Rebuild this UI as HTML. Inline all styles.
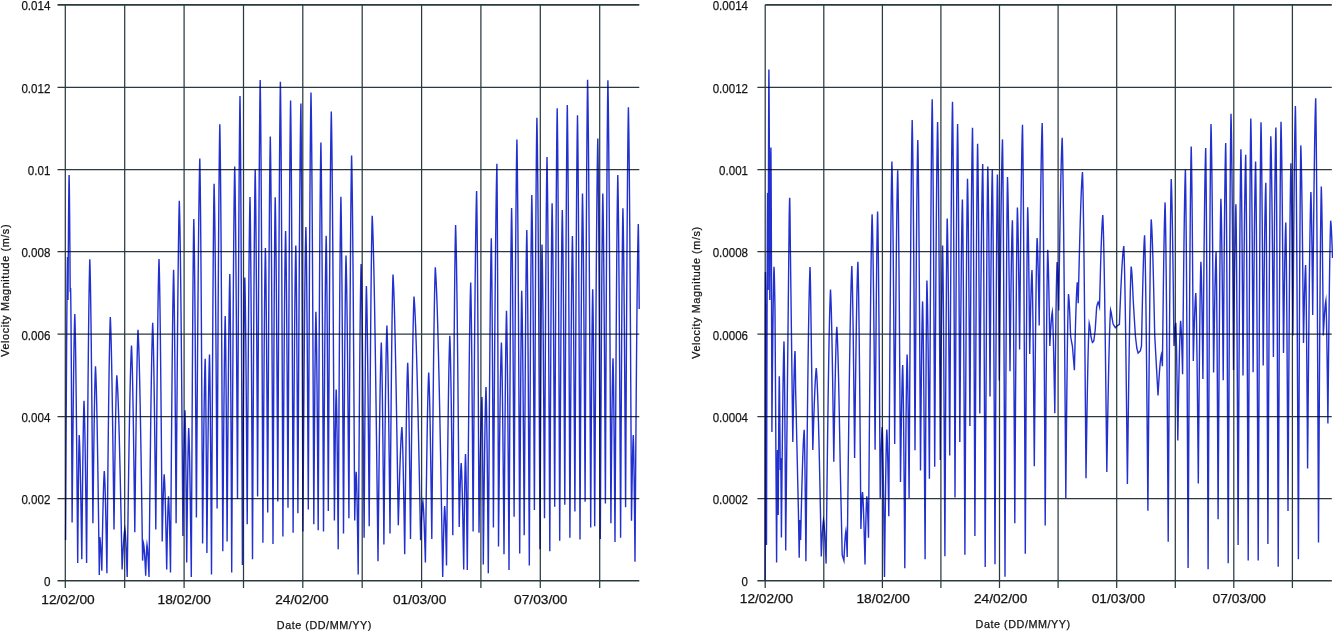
<!DOCTYPE html>
<html><head><meta charset="utf-8"><style>
html,body{margin:0;padding:0;background:#fff;}
body{width:1333px;height:631px;overflow:hidden;}
svg{display:block;}
.yl{font-family:"Liberation Sans",sans-serif;font-size:13.1px;fill:#141414;}
.xl{font-family:"Liberation Sans",sans-serif;font-size:12.6px;fill:#141414;}
.tt{font-family:"Liberation Sans",sans-serif;font-size:10.8px;fill:#141414;}
text{stroke:#141414;stroke-width:0.25px;}
</style></head><body>
<svg width="1333" height="631" viewBox="0 0 1333 631">
<polyline points="65.60,540.0 65.66,526.8 65.73,513.6 65.79,500.5 65.85,487.5 65.92,474.6 65.98,461.8 66.04,449.2 66.11,436.8 66.17,424.6 66.23,412.7 66.30,401.0 66.36,389.6 66.42,378.5 66.49,367.8 66.55,357.5 66.61,347.5 66.68,337.9 66.74,328.8 66.80,320.1 66.87,311.8 66.93,304.1 66.99,296.8 67.06,290.0 67.12,283.7 67.18,277.9 67.25,272.6 67.31,267.9 67.37,263.7 67.44,260.1 67.50,257.0 67.56,259.2 67.62,262.5 67.69,266.9 67.75,272.3 67.81,278.4 67.88,285.3 67.94,292.5 68.00,300.0 68.05,291.7 68.10,283.4 68.16,275.2 68.21,267.1 68.26,259.1 68.31,251.4 68.37,243.8 68.42,236.5 68.47,229.4 68.52,222.7 68.58,216.3 68.63,210.2 68.68,204.6 68.73,199.3 68.79,194.5 68.84,190.1 68.89,186.1 68.94,182.6 69.00,179.6 69.05,177.1 69.10,175.1 69.16,177.1 69.21,179.6 69.27,182.6 69.32,186.1 69.38,190.1 69.43,194.5 69.48,199.4 69.54,204.8 69.59,210.5 69.65,216.6 69.70,223.1 69.76,229.9 69.81,237.0 69.87,244.3 69.92,251.9 69.98,259.7 70.03,267.6 70.09,275.7 70.14,283.8 70.20,292.0 70.40,289.4 70.60,288.0 70.65,290.6 70.70,293.6 70.75,297.1 70.80,301.0 70.85,305.3 70.90,310.1 70.95,315.3 71.00,321.0 71.05,327.0 71.10,333.4 71.15,340.3 71.20,347.5 71.25,355.1 71.30,363.0 71.35,371.3 71.40,379.8 71.45,388.7 71.50,397.9 71.55,407.3 71.60,417.0 71.65,426.9 71.70,437.0 71.75,447.3 71.80,457.7 71.85,468.3 71.90,479.0 71.95,489.8 72.00,500.7 72.05,511.6 72.10,522.5 72.19,512.8 72.28,503.1 72.37,493.4 72.46,483.8 72.55,474.3 72.64,464.9 72.73,455.6 72.82,446.5 72.91,437.5 73.00,428.7 73.09,420.1 73.18,411.7 73.27,403.5 73.36,395.7 73.45,388.0 73.54,380.7 73.63,373.6 73.72,366.9 73.81,360.5 73.90,354.4 73.99,348.7 74.08,343.3 74.17,338.3 74.26,333.7 74.35,329.4 74.44,325.5 74.53,322.1 74.62,319.0 74.71,316.3 74.80,314.0 74.90,316.7 74.99,319.9 75.09,323.6 75.19,327.8 75.28,332.4 75.38,337.5 75.48,343.0 75.57,349.0 75.67,355.4 75.77,362.3 75.86,369.5 75.96,377.2 76.06,385.2 76.15,393.7 76.25,402.4 76.35,411.5 76.44,421.0 76.54,430.7 76.64,440.7 76.73,451.0 76.83,461.5 76.93,472.2 77.02,483.2 77.12,494.3 77.22,505.5 77.31,516.9 77.41,528.3 77.51,539.9 77.60,551.5 77.70,563.1 77.77,555.0 77.84,546.9 77.90,538.8 77.97,530.9 78.04,523.1 78.11,515.4 78.18,507.9 78.25,500.7 78.31,493.7 78.38,487.0 78.45,480.5 78.52,474.4 78.59,468.7 78.65,463.3 78.72,458.3 78.79,453.7 78.86,449.5 78.93,445.7 79.00,442.4 79.06,439.5 79.13,437.1 79.20,435.1 79.32,437.1 79.45,439.6 79.57,442.6 79.70,446.1 79.82,450.0 79.94,454.4 80.07,459.2 80.19,464.4 80.31,470.0 80.44,476.1 80.56,482.4 80.69,489.1 80.81,496.1 80.93,503.4 81.06,510.9 81.18,518.7 81.30,526.6 81.43,534.6 81.55,542.8 81.68,551.0 81.80,559.3 81.88,551.1 81.96,542.9 82.04,534.8 82.13,526.7 82.21,518.7 82.29,510.8 82.37,503.1 82.45,495.5 82.53,488.0 82.61,480.8 82.70,473.7 82.78,466.9 82.86,460.3 82.94,454.0 83.02,448.0 83.10,442.2 83.19,436.7 83.27,431.6 83.35,426.8 83.43,422.3 83.51,418.1 83.59,414.4 83.67,410.9 83.76,407.9 83.84,405.2 83.92,402.8 84.00,400.9 84.09,402.8 84.19,405.1 84.28,407.7 84.37,410.7 84.46,414.0 84.56,417.7 84.65,421.7 84.74,426.0 84.84,430.7 84.93,435.7 85.02,441.0 85.11,446.5 85.21,452.4 85.30,458.5 85.39,464.9 85.49,471.5 85.58,478.3 85.67,485.3 85.76,492.5 85.86,499.9 85.95,507.5 86.04,515.2 86.14,523.0 86.23,530.9 86.32,538.9 86.41,546.9 86.51,555.0 86.60,563.1 86.71,548.9 86.81,534.8 86.92,520.7 87.03,506.7 87.13,492.9 87.24,479.2 87.35,465.6 87.45,452.3 87.56,439.2 87.67,426.4 87.77,413.9 87.88,401.6 87.99,389.8 88.09,378.3 88.20,367.2 88.31,356.5 88.41,346.2 88.52,336.4 88.63,327.0 88.73,318.2 88.84,309.8 88.95,302.0 89.05,294.7 89.16,287.9 89.27,281.7 89.37,276.1 89.48,271.0 89.59,266.5 89.69,262.6 89.80,259.3 89.90,262.2 90.01,265.6 90.11,269.5 90.21,273.9 90.32,278.8 90.42,284.2 90.52,290.1 90.63,296.4 90.73,303.2 90.83,310.5 90.94,318.2 91.04,326.3 91.14,334.8 91.25,343.7 91.35,353.0 91.45,362.7 91.56,372.7 91.66,383.0 91.76,393.6 91.87,404.5 91.97,415.6 92.07,427.0 92.18,438.6 92.28,450.4 92.38,462.3 92.49,474.3 92.59,486.5 92.69,498.7 92.80,511.0 92.90,523.3 93.00,515.2 93.09,507.1 93.19,499.0 93.29,491.0 93.38,483.1 93.48,475.3 93.57,467.6 93.67,460.1 93.77,452.7 93.86,445.5 93.96,438.5 94.06,431.8 94.15,425.3 94.25,419.0 94.34,413.0 94.44,407.3 94.54,401.9 94.63,396.8 94.73,392.0 94.83,387.6 94.92,383.5 95.02,379.7 95.11,376.3 95.21,373.3 95.31,370.6 95.40,368.3 95.50,366.4 95.63,368.7 95.75,371.4 95.88,374.5 96.01,377.9 96.13,381.8 96.26,386.1 96.39,390.7 96.51,395.7 96.64,401.1 96.77,406.8 96.89,412.9 97.02,419.3 97.15,426.1 97.27,433.1 97.40,440.5 97.53,448.1 97.65,456.0 97.78,464.1 97.91,472.5 98.03,481.1 98.16,489.9 98.29,498.9 98.41,508.1 98.54,517.4 98.67,526.8 98.79,536.3 98.92,545.9 99.05,555.6 99.17,565.3 99.30,575.0 99.37,567.5 99.44,560.2 99.51,553.5 99.59,547.7 99.66,542.9 99.73,539.3 99.80,537.0 100.13,539.5 100.47,543.5 100.80,549.0 101.13,555.5 101.47,562.9 101.80,570.7 101.95,562.5 102.09,554.4 102.24,546.3 102.39,538.5 102.54,530.8 102.68,523.4 102.83,516.3 102.98,509.6 103.12,503.3 103.27,497.4 103.42,492.0 103.56,487.1 103.71,482.8 103.86,478.9 104.01,475.7 104.15,473.1 104.30,471.0 104.44,473.0 104.59,475.5 104.73,478.6 104.88,482.1 105.02,486.2 105.17,490.8 105.31,495.9 105.46,501.4 105.60,507.3 105.74,513.6 105.89,520.3 106.03,527.3 106.18,534.5 106.32,542.0 106.47,549.7 106.61,557.5 106.76,565.4 106.90,573.3 107.01,561.3 107.13,549.4 107.24,537.5 107.35,525.7 107.47,514.1 107.58,502.5 107.69,491.1 107.81,479.8 107.92,468.8 108.03,458.0 108.15,447.4 108.26,437.1 108.37,427.1 108.49,417.4 108.60,408.0 108.71,399.0 108.83,390.3 108.94,382.0 109.05,374.1 109.17,366.7 109.28,359.6 109.39,353.0 109.51,346.9 109.62,341.2 109.73,335.9 109.85,331.2 109.96,326.9 110.07,323.1 110.19,319.8 110.30,317.0 110.42,319.3 110.55,322.1 110.67,325.2 110.79,328.8 110.92,332.7 111.04,337.0 111.16,341.8 111.29,346.9 111.41,352.4 111.53,358.2 111.66,364.4 111.78,370.9 111.90,377.8 112.03,385.0 112.15,392.5 112.27,400.3 112.40,408.3 112.52,416.6 112.64,425.2 112.77,433.9 112.89,442.9 113.01,452.1 113.14,461.4 113.26,470.9 113.38,480.5 113.51,490.2 113.63,499.9 113.75,509.8 113.88,519.7 114.00,529.6 114.11,521.3 114.22,513.0 114.32,504.8 114.43,496.6 114.54,488.6 114.65,480.6 114.75,472.8 114.86,465.2 114.97,457.7 115.08,450.4 115.18,443.4 115.29,436.6 115.40,430.1 115.51,423.8 115.62,417.9 115.72,412.2 115.83,406.9 115.94,401.9 116.05,397.3 116.15,393.0 116.26,389.1 116.37,385.6 116.48,382.4 116.58,379.6 116.69,377.3 116.80,375.3 116.98,377.4 117.15,379.9 117.33,382.8 117.51,386.0 117.68,389.6 117.86,393.6 118.04,397.9 118.21,402.6 118.39,407.6 118.57,412.9 118.74,418.6 118.92,424.6 119.10,430.8 119.27,437.4 119.45,444.2 119.63,451.4 119.80,458.7 119.98,466.3 120.16,474.1 120.33,482.1 120.51,490.3 120.69,498.7 120.86,507.2 121.04,515.8 121.22,524.6 121.39,533.5 121.57,542.4 121.75,551.4 121.92,560.4 122.10,569.5 122.50,561.4 122.90,553.7 123.30,546.6 123.70,540.3 124.10,535.2 124.50,531.4 124.90,528.9 125.16,531.0 125.41,534.1 125.67,538.2 125.92,543.2 126.18,548.9 126.43,555.4 126.69,562.3 126.94,569.5 127.20,577.0 127.34,566.2 127.49,555.4 127.63,544.7 127.77,534.1 127.92,523.5 128.06,513.1 128.20,502.8 128.35,492.6 128.49,482.6 128.63,472.9 128.78,463.3 128.92,454.0 129.06,445.0 129.21,436.2 129.35,427.8 129.49,419.6 129.64,411.8 129.78,404.3 129.92,397.2 130.07,390.4 130.21,384.1 130.35,378.1 130.50,372.6 130.64,367.4 130.78,362.7 130.93,358.4 131.07,354.5 131.21,351.1 131.36,348.1 131.50,345.6 131.61,347.6 131.72,350.0 131.83,352.8 131.94,355.9 132.05,359.4 132.16,363.2 132.27,367.3 132.38,371.8 132.49,376.6 132.60,381.8 132.71,387.2 132.82,392.9 132.93,399.0 133.04,405.3 133.15,411.8 133.26,418.7 133.37,425.7 133.48,433.0 133.59,440.5 133.70,448.2 133.81,456.1 133.92,464.1 134.03,472.3 134.14,480.6 134.25,489.1 134.36,497.6 134.47,506.2 134.58,514.8 134.69,523.5 134.80,532.2 134.91,522.8 135.01,513.4 135.12,504.0 135.23,494.7 135.33,485.4 135.44,476.3 135.55,467.3 135.65,458.4 135.76,449.7 135.87,441.2 135.97,432.8 136.08,424.7 136.19,416.8 136.29,409.1 136.40,401.7 136.51,394.6 136.61,387.8 136.72,381.2 136.83,375.0 136.93,369.1 137.04,363.5 137.15,358.3 137.25,353.5 137.36,349.0 137.47,344.8 137.57,341.1 137.68,337.7 137.79,334.7 137.89,332.1 138.00,329.9 138.15,332.4 138.31,335.4 138.46,338.8 138.61,342.7 138.77,346.9 138.92,351.6 139.07,356.8 139.23,362.3 139.38,368.3 139.53,374.6 139.69,381.3 139.84,388.4 139.99,395.9 140.15,403.7 140.30,411.8 140.45,420.2 140.61,429.0 140.76,438.0 140.91,447.3 141.07,456.8 141.22,466.5 141.37,476.5 141.53,486.6 141.68,496.9 141.83,507.3 141.99,517.8 142.14,528.4 142.29,539.1 142.45,549.8 142.60,560.6 142.93,553.1 143.27,547.2 143.60,544.0 143.95,546.3 144.30,550.2 144.65,555.3 145.00,561.5 145.35,568.4 145.70,575.8 145.92,568.6 146.13,561.8 146.35,555.7 146.57,550.6 146.78,546.9 147.00,544.6 147.33,547.0 147.67,550.9 148.00,556.1 148.33,562.4 148.67,569.5 149.00,577.0 149.12,565.1 149.25,553.3 149.37,541.5 149.49,529.8 149.62,518.2 149.74,506.7 149.86,495.4 149.99,484.3 150.11,473.3 150.23,462.6 150.36,452.1 150.48,441.9 150.60,431.9 150.73,422.3 150.85,413.0 150.97,404.0 151.10,395.4 151.22,387.2 151.34,379.4 151.47,372.0 151.59,365.0 151.71,358.4 151.84,352.3 151.96,346.7 152.08,341.5 152.21,336.8 152.33,332.5 152.45,328.8 152.58,325.5 152.70,322.7 152.80,325.0 152.91,327.6 153.01,330.7 153.11,334.1 153.22,338.0 153.32,342.2 153.42,346.8 153.53,351.8 153.63,357.1 153.73,362.8 153.84,368.8 153.94,375.2 154.04,381.9 154.15,388.9 154.25,396.2 154.35,403.7 154.46,411.6 154.56,419.6 154.66,428.0 154.77,436.5 154.87,445.2 154.97,454.1 155.08,463.2 155.18,472.4 155.28,481.8 155.39,491.2 155.49,500.7 155.59,510.3 155.70,520.0 155.80,529.6 155.91,517.0 156.01,504.4 156.12,491.9 156.23,479.4 156.33,467.0 156.44,454.8 156.55,442.8 156.65,430.9 156.76,419.3 156.87,407.8 156.97,396.7 157.08,385.8 157.19,375.2 157.29,365.0 157.40,355.1 157.51,345.5 157.61,336.4 157.72,327.6 157.83,319.3 157.93,311.4 158.04,304.0 158.15,297.0 158.25,290.5 158.36,284.5 158.47,279.0 158.57,274.0 158.68,269.5 158.79,265.4 158.89,262.0 159.00,259.0 159.11,262.1 159.21,265.7 159.32,269.9 159.43,274.6 159.53,279.9 159.64,285.6 159.75,291.9 159.85,298.7 159.96,306.0 160.07,313.8 160.17,322.0 160.28,330.7 160.39,339.8 160.49,349.4 160.60,359.3 160.71,369.7 160.81,380.4 160.92,391.4 161.03,402.8 161.13,414.4 161.24,426.4 161.35,438.5 161.45,450.9 161.56,463.5 161.67,476.3 161.77,489.2 161.88,502.2 161.99,515.3 162.09,528.4 162.20,541.6 162.37,533.8 162.53,526.1 162.70,518.6 162.87,511.4 163.03,504.6 163.20,498.3 163.37,492.5 163.53,487.4 163.70,483.0 163.87,479.4 164.03,476.5 164.20,474.4 164.36,476.5 164.51,479.2 164.67,482.6 164.82,486.6 164.98,491.2 165.14,496.3 165.29,502.0 165.45,508.2 165.61,514.8 165.76,521.8 165.92,529.2 166.07,536.9 166.23,544.8 166.39,552.9 166.54,561.2 166.70,569.5 166.84,561.6 166.98,553.9 167.12,546.3 167.25,539.0 167.39,532.0 167.53,525.4 167.67,519.4 167.81,513.9 167.95,509.0 168.08,504.8 168.22,501.3 168.36,498.5 168.50,496.4 168.65,498.5 168.81,501.5 168.96,505.1 169.12,509.5 169.27,514.6 169.42,520.3 169.58,526.6 169.73,533.5 169.88,540.7 170.04,548.3 170.19,556.2 170.35,564.3 170.50,572.5 170.60,558.4 170.71,544.3 170.81,530.3 170.91,516.3 171.02,502.5 171.12,488.9 171.22,475.4 171.33,462.1 171.43,449.1 171.53,436.3 171.64,423.8 171.74,411.6 171.84,399.8 171.95,388.3 172.05,377.3 172.15,366.6 172.26,356.4 172.36,346.6 172.46,337.3 172.57,328.5 172.67,320.1 172.77,312.3 172.88,305.1 172.98,298.3 173.08,292.2 173.19,286.5 173.29,281.5 173.39,277.0 173.50,273.1 173.60,269.8 173.68,272.6 173.77,275.8 173.85,279.6 173.93,283.8 174.02,288.5 174.10,293.7 174.18,299.3 174.27,305.4 174.35,312.0 174.43,318.9 174.52,326.3 174.60,334.1 174.68,342.3 174.77,350.9 174.85,359.8 174.93,369.1 175.02,378.7 175.10,388.6 175.18,398.8 175.27,409.2 175.35,419.9 175.43,430.8 175.52,442.0 175.60,453.3 175.68,464.7 175.77,476.3 175.85,487.9 175.93,499.7 176.02,511.5 176.10,523.3 176.21,508.3 176.31,493.3 176.42,478.3 176.53,463.5 176.63,448.7 176.74,434.2 176.85,419.8 176.95,405.7 177.06,391.8 177.17,378.2 177.27,364.9 177.38,351.9 177.49,339.3 177.59,327.1 177.70,315.3 177.81,303.9 177.91,293.0 178.02,282.6 178.13,272.7 178.23,263.3 178.34,254.4 178.45,246.1 178.55,238.4 178.66,231.2 178.77,224.6 178.87,218.6 178.98,213.3 179.09,208.5 179.19,204.3 179.30,200.8 179.42,204.5 179.54,208.8 179.66,213.7 179.78,219.3 179.90,225.6 180.02,232.4 180.14,239.8 180.26,247.9 180.38,256.5 180.50,265.8 180.62,275.5 180.74,285.8 180.86,296.7 180.98,308.0 181.10,319.8 181.22,332.1 181.34,344.8 181.46,357.9 181.58,371.3 181.70,385.2 181.82,399.3 181.94,413.7 182.06,428.4 182.18,443.4 182.30,458.5 182.42,473.8 182.54,489.2 182.66,504.8 182.78,520.4 182.90,536.0 183.00,527.6 183.10,519.3 183.20,511.0 183.30,502.9 183.40,494.9 183.50,487.0 183.60,479.4 183.70,472.1 183.80,465.0 183.90,458.2 184.00,451.7 184.10,445.7 184.20,440.0 184.30,434.7 184.40,429.8 184.50,425.4 184.60,421.4 184.70,417.9 184.80,414.9 184.90,412.3 185.00,410.3 185.07,412.2 185.13,414.6 185.20,417.3 185.26,420.4 185.33,423.9 185.39,427.7 185.46,432.0 185.52,436.5 185.59,441.4 185.65,446.7 185.72,452.3 185.78,458.1 185.85,464.3 185.92,470.7 185.98,477.4 186.05,484.4 186.11,491.5 186.18,498.9 186.24,506.4 186.31,514.1 186.37,521.9 186.44,529.9 186.50,537.9 186.57,546.1 186.63,554.2 186.70,562.4 186.79,554.2 186.87,546.1 186.96,538.0 187.05,530.0 187.13,522.1 187.22,514.4 187.31,506.8 187.40,499.5 187.48,492.4 187.57,485.5 187.66,478.9 187.74,472.6 187.83,466.6 187.92,461.0 188.00,455.7 188.09,450.8 188.18,446.3 188.27,442.2 188.35,438.5 188.44,435.2 188.53,432.4 188.61,430.0 188.70,428.0 188.80,430.0 188.91,432.4 189.01,435.2 189.12,438.4 189.22,442.0 189.32,446.1 189.43,450.4 189.53,455.2 189.64,460.3 189.74,465.8 189.84,471.6 189.95,477.7 190.05,484.1 190.16,490.8 190.26,497.8 190.36,505.0 190.47,512.4 190.57,520.1 190.68,527.9 190.78,535.8 190.88,543.9 190.99,552.1 191.09,560.4 191.20,568.7 191.30,577.0 191.38,560.3 191.47,543.6 191.55,527.1 191.63,510.6 191.72,494.2 191.80,478.1 191.88,462.1 191.97,446.4 192.05,431.0 192.13,415.9 192.22,401.1 192.30,386.7 192.38,372.8 192.47,359.2 192.55,346.1 192.63,333.5 192.72,321.4 192.80,309.8 192.88,298.8 192.97,288.4 193.05,278.5 193.13,269.3 193.22,260.7 193.30,252.7 193.38,245.4 193.47,238.8 193.55,232.8 193.63,227.5 193.72,222.9 193.80,219.0 193.89,222.3 193.97,226.1 194.06,230.5 194.15,235.5 194.23,241.0 194.32,247.1 194.41,253.8 194.49,260.9 194.58,268.6 194.67,276.8 194.75,285.5 194.84,294.7 194.93,304.4 195.01,314.5 195.10,325.0 195.19,335.9 195.27,347.2 195.36,358.9 195.45,370.9 195.53,383.2 195.62,395.8 195.71,408.6 195.79,421.7 195.88,435.0 195.97,448.5 196.05,462.1 196.14,475.9 196.23,489.7 196.31,503.6 196.40,517.5 196.51,500.8 196.63,484.1 196.74,467.4 196.85,450.9 196.97,434.5 197.08,418.3 197.19,402.3 197.31,386.6 197.42,371.1 197.53,356.0 197.65,341.2 197.76,326.8 197.87,312.7 197.99,299.1 198.10,286.0 198.21,273.4 198.33,261.2 198.44,249.6 198.55,238.6 198.67,228.1 198.78,218.3 198.89,209.0 199.01,200.4 199.12,192.4 199.23,185.1 199.35,178.4 199.46,172.5 199.57,167.2 199.69,162.5 199.80,158.6 199.89,162.8 199.99,167.8 200.08,173.5 200.17,179.9 200.27,187.0 200.36,194.9 200.45,203.5 200.55,212.7 200.64,222.6 200.73,233.2 200.83,244.4 200.92,256.3 201.01,268.7 201.11,281.7 201.20,295.3 201.29,309.4 201.39,323.9 201.48,339.0 201.57,354.5 201.67,370.3 201.76,386.6 201.85,403.2 201.95,420.1 202.04,437.2 202.13,454.6 202.23,472.2 202.32,489.9 202.41,507.7 202.51,525.6 202.60,543.6 202.69,535.0 202.77,526.4 202.86,517.8 202.95,509.3 203.03,500.9 203.12,492.5 203.21,484.3 203.29,476.2 203.38,468.2 203.47,460.4 203.55,452.8 203.64,445.4 203.73,438.2 203.81,431.2 203.90,424.4 203.99,417.9 204.07,411.7 204.16,405.7 204.25,400.0 204.33,394.6 204.42,389.5 204.51,384.8 204.59,380.3 204.68,376.2 204.77,372.4 204.85,369.0 204.94,365.9 205.03,363.2 205.11,360.8 205.20,358.8 205.26,360.9 205.31,363.4 205.37,366.3 205.43,369.5 205.48,373.1 205.54,377.1 205.60,381.4 205.65,386.1 205.71,391.1 205.77,396.4 205.82,402.1 205.88,408.1 205.94,414.3 205.99,420.9 206.05,427.7 206.11,434.9 206.16,442.2 206.22,449.8 206.28,457.6 206.33,465.6 206.39,473.8 206.45,482.2 206.50,490.7 206.56,499.3 206.62,508.1 206.67,517.0 206.73,525.9 206.79,534.9 206.84,543.9 206.90,553.0 206.99,543.7 207.07,534.5 207.16,525.3 207.25,516.2 207.33,507.1 207.42,498.2 207.51,489.3 207.59,480.6 207.68,472.1 207.77,463.7 207.85,455.5 207.94,447.5 208.03,439.8 208.11,432.2 208.20,425.0 208.29,418.0 208.37,411.3 208.46,404.9 208.55,398.8 208.63,393.0 208.72,387.5 208.81,382.4 208.89,377.6 208.98,373.2 209.07,369.2 209.15,365.5 209.24,362.2 209.33,359.2 209.41,356.7 209.50,354.5 209.57,356.9 209.63,359.7 209.70,363.0 209.77,366.7 209.83,370.7 209.90,375.2 209.97,380.1 210.03,385.4 210.10,391.1 210.17,397.1 210.23,403.5 210.30,410.3 210.37,417.4 210.43,424.9 210.50,432.6 210.57,440.7 210.63,449.0 210.70,457.6 210.77,466.4 210.83,475.5 210.90,484.8 210.97,494.3 211.03,503.9 211.10,513.7 211.17,523.6 211.23,533.7 211.30,543.8 211.37,554.0 211.43,564.2 211.50,574.5 211.59,556.3 211.67,538.1 211.76,520.0 211.85,502.0 211.93,484.2 212.02,466.5 212.11,449.1 212.19,432.0 212.28,415.1 212.37,398.6 212.45,382.5 212.54,366.8 212.63,351.5 212.71,336.7 212.80,322.4 212.89,308.7 212.97,295.5 213.06,282.8 213.15,270.8 213.23,259.4 213.32,248.7 213.41,238.6 213.49,229.2 213.58,220.5 213.67,212.6 213.75,205.3 213.84,198.8 213.93,193.0 214.01,188.0 214.10,183.7 214.20,187.3 214.30,191.4 214.40,196.2 214.50,201.7 214.60,207.7 214.70,214.3 214.80,221.5 214.90,229.4 215.00,237.7 215.10,246.7 215.20,256.1 215.30,266.1 215.40,276.6 215.50,287.6 215.60,299.0 215.70,310.9 215.80,323.2 215.90,335.9 216.00,349.0 216.10,362.4 216.20,376.1 216.30,390.1 216.40,404.4 216.50,418.8 216.60,433.5 216.70,448.3 216.80,463.3 216.90,478.3 217.00,493.4 217.10,508.6 217.19,490.7 217.28,472.8 217.37,455.0 217.46,437.3 217.55,419.8 217.64,402.4 217.73,385.3 217.82,368.4 217.91,351.9 218.00,335.7 218.09,319.8 218.18,304.4 218.27,289.3 218.36,274.8 218.45,260.7 218.54,247.2 218.63,234.2 218.72,221.8 218.81,210.0 218.90,198.8 218.99,188.2 219.08,178.3 219.17,169.1 219.26,160.5 219.35,152.7 219.44,145.6 219.53,139.1 219.62,133.5 219.71,128.5 219.80,124.3 219.90,129.0 220.00,134.5 220.10,140.8 220.20,147.9 220.30,155.8 220.40,164.5 220.50,174.0 220.60,184.3 220.70,195.3 220.80,207.0 220.90,219.5 221.00,232.6 221.10,246.4 221.20,260.8 221.30,275.9 221.40,291.5 221.50,307.6 221.60,324.3 221.70,341.5 221.80,359.1 221.90,377.1 222.00,395.5 222.10,414.2 222.20,433.2 222.30,452.5 222.40,472.0 222.50,491.6 222.60,511.4 222.70,531.3 222.80,551.2 222.88,540.2 222.96,529.3 223.04,518.4 223.12,507.6 223.20,496.8 223.28,486.2 223.36,475.7 223.44,465.4 223.52,455.3 223.60,445.4 223.68,435.7 223.76,426.2 223.84,417.0 223.92,408.1 224.00,399.5 224.08,391.2 224.16,383.3 224.24,375.7 224.32,368.4 224.40,361.6 224.48,355.1 224.56,349.0 224.64,343.4 224.72,338.2 224.80,333.4 224.88,329.0 224.96,325.1 225.04,321.6 225.12,318.6 225.20,316.0 225.26,318.5 225.33,321.4 225.39,324.7 225.45,328.5 225.52,332.7 225.58,337.3 225.64,342.3 225.71,347.7 225.77,353.5 225.83,359.7 225.90,366.3 225.96,373.2 226.02,380.5 226.09,388.1 226.15,396.1 226.21,404.3 226.28,412.9 226.34,421.7 226.40,430.8 226.47,440.1 226.53,449.6 226.59,459.3 226.66,469.2 226.72,479.3 226.78,489.4 226.85,499.7 226.91,510.1 226.97,520.6 227.04,531.1 227.10,541.6 227.19,529.1 227.28,516.7 227.37,504.3 227.46,491.9 227.55,479.7 227.64,467.7 227.73,455.7 227.82,444.0 227.91,432.5 228.00,421.2 228.09,410.1 228.18,399.4 228.27,388.9 228.36,378.8 228.45,369.0 228.54,359.6 228.63,350.5 228.72,341.9 228.81,333.7 228.90,325.9 228.99,318.5 229.08,311.6 229.17,305.2 229.26,299.2 229.35,293.8 229.44,288.8 229.53,284.3 229.62,280.4 229.71,276.9 229.80,274.0 229.86,277.3 229.93,281.1 229.99,285.5 230.05,290.5 230.12,296.0 230.18,302.1 230.24,308.8 230.31,315.9 230.37,323.6 230.43,331.8 230.50,340.5 230.56,349.7 230.62,359.4 230.69,369.5 230.75,380.0 230.81,390.9 230.88,402.2 230.94,413.9 231.00,425.9 231.07,438.2 231.13,450.8 231.19,463.6 231.26,476.7 231.32,490.0 231.38,503.5 231.45,517.1 231.51,530.9 231.57,544.7 231.64,558.6 231.70,572.5 231.80,553.6 231.90,534.7 232.00,515.9 232.10,497.2 232.20,478.6 232.30,460.3 232.40,442.2 232.50,424.4 232.60,406.9 232.70,389.8 232.80,373.1 232.90,356.7 233.00,340.9 233.10,325.5 233.20,310.6 233.30,296.3 233.40,282.6 233.50,269.5 233.60,257.0 233.70,245.2 233.80,234.0 233.90,223.6 234.00,213.8 234.10,204.8 234.20,196.5 234.30,189.0 234.40,182.2 234.50,176.2 234.60,170.9 234.70,166.5 234.79,170.1 234.89,174.4 234.98,179.3 235.07,184.9 235.17,191.1 235.26,197.8 235.35,205.2 235.45,213.2 235.54,221.8 235.63,230.9 235.73,240.6 235.82,250.9 235.91,261.6 236.01,272.8 236.10,284.5 236.19,296.7 236.29,309.3 236.38,322.3 236.47,335.7 236.57,349.4 236.66,363.4 236.75,377.7 236.85,392.3 236.94,407.1 237.03,422.1 237.13,437.3 237.22,452.6 237.31,468.0 237.41,483.5 237.50,499.0 237.58,480.2 237.67,461.4 237.75,442.8 237.83,424.2 237.92,405.8 238.00,387.6 238.08,369.7 238.17,352.0 238.25,334.6 238.33,317.6 238.42,301.0 238.50,284.8 238.58,269.0 238.67,253.8 238.75,239.0 238.83,224.8 238.92,211.2 239.00,198.2 239.08,185.8 239.17,174.0 239.25,162.9 239.33,152.5 239.42,142.9 239.50,133.9 239.58,125.7 239.67,118.2 239.75,111.5 239.83,105.5 239.92,100.3 240.00,95.9 240.08,101.0 240.16,107.1 240.24,114.0 240.32,121.8 240.40,130.5 240.48,140.1 240.56,150.5 240.64,161.8 240.72,173.9 240.80,186.8 240.88,200.5 240.96,214.9 241.04,230.1 241.12,245.9 241.20,262.4 241.28,279.6 241.36,297.4 241.44,315.7 241.52,334.6 241.60,353.9 241.68,373.7 241.76,393.9 241.84,414.5 241.92,435.4 242.00,456.6 242.08,478.0 242.16,499.6 242.24,521.3 242.32,543.1 242.40,565.0 242.48,551.6 242.56,538.2 242.64,524.9 242.72,511.7 242.80,498.5 242.88,485.6 242.96,472.8 243.04,460.1 243.12,447.8 243.20,435.6 243.28,423.8 243.36,412.2 243.44,401.0 243.52,390.1 243.60,379.6 243.68,369.4 243.76,359.7 243.84,350.4 243.92,341.6 244.00,333.2 244.08,325.3 244.16,317.9 244.24,311.0 244.32,304.6 244.40,298.7 244.48,293.4 244.56,288.6 244.64,284.4 244.72,280.7 244.80,277.5 244.88,280.2 244.96,283.4 245.04,287.0 245.12,291.1 245.20,295.7 245.28,300.8 245.36,306.3 245.44,312.2 245.52,318.5 245.60,325.3 245.68,332.5 245.76,340.1 245.84,348.1 245.92,356.4 246.00,365.1 246.08,374.1 246.16,383.5 246.24,393.1 246.32,403.1 246.40,413.2 246.48,423.7 246.56,434.3 246.64,445.1 246.72,456.1 246.80,467.2 246.88,478.5 246.96,489.9 247.04,501.3 247.12,512.8 247.20,524.3 247.29,509.0 247.39,493.8 247.48,478.6 247.57,463.6 247.67,448.6 247.76,433.9 247.85,419.3 247.95,404.9 248.04,390.8 248.13,377.0 248.23,363.5 248.32,350.4 248.41,337.6 248.51,325.2 248.60,313.2 248.69,301.7 248.79,290.6 248.88,280.0 248.97,270.0 249.07,260.4 249.16,251.4 249.25,243.0 249.35,235.1 249.44,227.9 249.53,221.2 249.63,215.1 249.72,209.6 249.81,204.8 249.91,200.6 250.00,197.0 250.08,201.0 250.17,205.6 250.25,211.0 250.33,217.0 250.42,223.8 250.50,231.2 250.58,239.2 250.67,247.9 250.75,257.2 250.83,267.2 250.92,277.8 251.00,288.9 251.08,300.6 251.17,312.9 251.25,325.6 251.33,338.9 251.42,352.6 251.50,366.8 251.58,381.3 251.67,396.3 251.75,411.6 251.83,427.2 251.92,443.1 252.00,459.2 252.08,475.5 252.17,492.1 252.25,508.8 252.33,525.5 252.42,542.4 252.50,559.3 252.59,541.1 252.68,523.0 252.77,504.9 252.86,487.0 252.95,469.2 253.04,451.6 253.13,434.2 253.22,417.1 253.31,400.3 253.40,383.9 253.49,367.8 253.58,352.1 253.67,336.9 253.76,322.1 253.85,307.9 253.94,294.2 254.03,281.0 254.12,268.4 254.21,256.4 254.30,245.0 254.39,234.3 254.48,224.3 254.57,214.9 254.66,206.2 254.75,198.3 254.84,191.1 254.93,184.6 255.02,178.8 255.11,173.8 255.20,169.5 255.28,173.1 255.36,177.3 255.44,182.1 255.52,187.6 255.60,193.6 255.68,200.3 255.76,207.6 255.84,215.4 255.92,223.9 256.00,232.8 256.08,242.4 256.16,252.4 256.24,263.0 256.32,274.0 256.40,285.6 256.48,297.5 256.56,309.9 256.64,322.7 256.72,335.8 256.80,349.3 256.88,363.1 256.96,377.2 257.04,391.5 257.12,406.1 257.20,420.8 257.28,435.7 257.36,450.8 257.44,465.9 257.52,481.2 257.60,496.4 257.69,477.0 257.77,457.6 257.86,438.3 257.95,419.1 258.03,400.1 258.12,381.3 258.21,362.8 258.29,344.5 258.38,326.6 258.47,309.0 258.55,291.8 258.64,275.1 258.73,258.8 258.81,243.1 258.90,227.8 258.99,213.2 259.07,199.1 259.16,185.6 259.25,172.8 259.33,160.7 259.42,149.2 259.51,138.5 259.59,128.5 259.68,119.3 259.77,110.8 259.85,103.0 259.94,96.1 260.03,89.9 260.11,84.6 260.20,80.0 260.29,85.1 260.38,91.0 260.47,97.9 260.56,105.6 260.65,114.2 260.74,123.6 260.83,133.9 260.92,145.0 261.01,157.0 261.10,169.7 261.19,183.2 261.28,197.4 261.37,212.4 261.46,228.0 261.55,244.3 261.64,261.2 261.73,278.8 261.82,296.8 261.91,315.5 262.00,334.5 262.09,354.1 262.18,374.0 262.27,394.3 262.36,414.9 262.45,435.8 262.54,456.9 262.63,478.2 262.72,499.7 262.81,521.2 262.90,542.8 262.98,529.0 263.07,515.3 263.15,501.7 263.23,488.1 263.32,474.6 263.40,461.3 263.48,448.2 263.57,435.2 263.65,422.5 263.73,410.1 263.82,397.9 263.90,386.1 263.98,374.6 264.07,363.4 264.15,352.6 264.23,342.2 264.32,332.2 264.40,322.7 264.48,313.6 264.57,305.0 264.65,296.9 264.73,289.3 264.82,282.3 264.90,275.7 264.98,269.7 265.07,264.2 265.15,259.3 265.23,254.9 265.32,251.1 265.40,247.9 265.48,250.8 265.55,254.2 265.63,258.1 265.71,262.5 265.78,267.4 265.86,272.8 265.94,278.7 266.01,285.1 266.09,291.9 266.17,299.2 266.24,306.9 266.32,315.0 266.40,323.5 266.47,332.5 266.55,341.8 266.63,351.5 266.70,361.5 266.78,371.8 266.86,382.5 266.93,393.4 267.01,404.5 267.09,415.9 267.16,427.5 267.24,439.3 267.32,451.3 267.39,463.3 267.47,475.5 267.55,487.8 267.62,500.1 267.70,512.4 267.79,494.9 267.87,477.4 267.96,460.0 268.05,442.7 268.13,425.5 268.22,408.5 268.31,391.8 268.39,375.3 268.48,359.1 268.57,343.2 268.65,327.7 268.74,312.6 268.83,297.9 268.91,283.7 269.00,270.0 269.09,256.7 269.17,244.0 269.26,231.9 269.35,220.3 269.43,209.3 269.52,199.0 269.61,189.3 269.69,180.3 269.78,171.9 269.87,164.3 269.95,157.3 270.04,151.0 270.13,145.5 270.21,140.6 270.30,136.5 270.39,141.0 270.48,146.2 270.57,152.2 270.66,159.0 270.75,166.6 270.84,174.9 270.93,184.0 271.02,193.8 271.11,204.3 271.20,215.5 271.29,227.4 271.38,239.9 271.47,253.1 271.56,266.8 271.65,281.2 271.74,296.1 271.83,311.6 271.92,327.5 272.01,343.9 272.10,360.7 272.19,377.9 272.28,395.4 272.37,413.3 272.46,431.5 272.55,449.9 272.64,468.5 272.73,487.2 272.82,506.1 272.91,525.1 273.00,544.1 273.07,527.9 273.15,511.8 273.22,495.7 273.29,479.7 273.37,463.9 273.44,448.2 273.51,432.8 273.59,417.6 273.66,402.6 273.73,388.0 273.81,373.7 273.88,359.7 273.95,346.2 274.03,333.0 274.10,320.4 274.17,308.1 274.25,296.4 274.32,285.2 274.39,274.5 274.47,264.4 274.54,254.9 274.61,245.9 274.69,237.6 274.76,229.9 274.83,222.8 274.91,216.4 274.98,210.6 275.05,205.5 275.13,201.0 275.20,197.2 275.29,200.5 275.37,204.5 275.46,209.0 275.55,214.0 275.63,219.7 275.72,225.9 275.81,232.6 275.89,240.0 275.98,247.8 276.07,256.2 276.15,265.0 276.24,274.4 276.33,284.2 276.41,294.5 276.50,305.2 276.59,316.4 276.67,327.9 276.76,339.8 276.85,352.0 276.93,364.6 277.02,377.4 277.11,390.5 277.19,403.9 277.28,417.4 277.37,431.2 277.45,445.0 277.54,459.0 277.63,473.1 277.71,487.3 277.80,501.5 277.89,481.9 277.97,462.4 278.06,442.9 278.15,423.6 278.23,404.5 278.32,385.5 278.41,366.8 278.49,348.4 278.58,330.3 278.67,312.6 278.75,295.3 278.84,278.4 278.93,262.0 279.01,246.1 279.10,230.7 279.19,216.0 279.27,201.8 279.36,188.2 279.45,175.3 279.53,163.0 279.62,151.5 279.71,140.7 279.79,130.6 279.88,121.3 279.97,112.7 280.05,104.9 280.14,97.9 280.23,91.7 280.31,86.3 280.40,81.7 280.48,86.7 280.57,92.5 280.65,99.3 280.73,106.8 280.82,115.3 280.90,124.6 280.98,134.7 281.07,145.6 281.15,157.3 281.23,169.8 281.32,183.1 281.40,197.1 281.48,211.8 281.57,227.1 281.65,243.2 281.73,259.8 281.82,277.0 281.90,294.8 281.98,313.1 282.07,331.8 282.15,351.0 282.23,370.6 282.32,390.6 282.40,410.8 282.48,431.4 282.57,452.1 282.65,473.1 282.73,494.1 282.82,515.3 282.90,536.5 282.99,522.2 283.08,508.0 283.17,493.9 283.26,479.8 283.35,465.9 283.44,452.1 283.53,438.4 283.62,425.0 283.71,411.9 283.80,399.0 283.89,386.4 283.98,374.1 284.07,362.1 284.16,350.6 284.25,339.4 284.34,328.6 284.43,318.3 284.52,308.4 284.61,299.0 284.70,290.1 284.79,281.7 284.88,273.8 284.97,266.5 285.06,259.7 285.15,253.5 285.24,247.8 285.33,242.7 285.42,238.2 285.51,234.2 285.60,230.9 285.68,233.9 285.76,237.5 285.84,241.6 285.92,246.2 286.00,251.3 286.08,257.0 286.16,263.2 286.24,269.8 286.32,276.9 286.40,284.6 286.48,292.6 286.56,301.1 286.64,310.1 286.72,319.5 286.80,329.2 286.88,339.3 286.96,349.8 287.04,360.6 287.12,371.8 287.20,383.2 287.28,394.9 287.36,406.8 287.44,419.0 287.52,431.3 287.60,443.8 287.68,456.4 287.76,469.2 287.84,482.0 287.92,494.9 288.00,507.8 288.09,488.8 288.17,469.9 288.26,451.0 288.35,432.2 288.43,413.7 288.52,395.3 288.61,377.1 288.69,359.3 288.78,341.7 288.87,324.6 288.95,307.8 289.04,291.4 289.13,275.5 289.21,260.1 289.30,245.2 289.39,230.8 289.47,217.1 289.56,203.9 289.65,191.4 289.73,179.5 289.82,168.3 289.91,157.8 289.99,148.0 290.08,139.0 290.17,130.7 290.25,123.1 290.34,116.3 290.43,110.3 290.51,105.1 290.60,100.6 290.68,105.3 290.77,110.9 290.85,117.3 290.93,124.5 291.02,132.5 291.10,141.3 291.18,150.9 291.27,161.3 291.35,172.5 291.43,184.3 291.52,196.9 291.60,210.2 291.68,224.2 291.77,238.8 291.85,254.0 291.93,269.8 292.02,286.2 292.10,303.1 292.18,320.4 292.27,338.3 292.35,356.5 292.43,375.1 292.52,394.1 292.60,413.3 292.68,432.8 292.77,452.5 292.85,472.4 292.93,492.4 293.02,512.5 293.10,532.7 293.19,519.3 293.28,505.9 293.37,492.6 293.46,479.4 293.55,466.3 293.64,453.3 293.73,440.5 293.82,427.9 293.91,415.5 294.00,403.4 294.09,391.6 294.18,380.0 294.27,368.8 294.36,357.9 294.45,347.4 294.54,337.3 294.63,327.6 294.72,318.3 294.81,309.4 294.90,301.1 294.99,293.2 295.08,285.8 295.17,278.9 295.26,272.5 295.35,266.6 295.44,261.3 295.53,256.5 295.62,252.2 295.71,248.5 295.80,245.4 295.87,248.3 295.94,251.8 296.01,255.7 296.08,260.2 296.15,265.2 296.22,270.6 296.29,276.6 296.36,283.0 296.43,289.9 296.50,297.3 296.57,305.1 296.64,313.3 296.71,322.0 296.78,331.0 296.85,340.5 296.92,350.3 296.99,360.4 297.06,370.9 297.13,381.6 297.20,392.7 297.27,404.0 297.34,415.5 297.41,427.3 297.48,439.2 297.55,451.3 297.62,463.5 297.69,475.8 297.76,488.2 297.83,500.7 297.90,513.2 298.00,494.1 298.10,475.0 298.20,456.0 298.30,437.2 298.40,418.5 298.50,400.0 298.60,381.7 298.70,363.8 298.80,346.1 298.90,328.8 299.00,311.9 299.10,295.5 299.20,279.5 299.30,263.9 299.40,249.0 299.50,234.5 299.60,220.7 299.70,207.4 299.80,194.8 299.90,182.9 300.00,171.6 300.10,161.1 300.20,151.2 300.30,142.1 300.40,133.8 300.50,126.2 300.60,119.3 300.70,113.3 300.80,108.0 300.90,103.5 300.97,108.2 301.03,113.7 301.10,120.0 301.17,127.2 301.23,135.1 301.30,143.8 301.37,153.3 301.43,163.6 301.50,174.7 301.57,186.4 301.63,198.9 301.70,212.1 301.77,225.9 301.83,240.3 301.90,255.4 301.97,271.1 302.03,287.3 302.10,304.0 302.17,321.2 302.23,338.8 302.30,356.9 302.37,375.3 302.43,394.1 302.50,413.2 302.57,432.5 302.63,452.0 302.70,471.7 302.77,491.5 302.83,511.4 302.90,531.4 303.00,517.2 303.10,503.0 303.20,488.9 303.30,474.9 303.40,461.1 303.50,447.3 303.60,433.8 303.70,420.4 303.80,407.3 303.90,394.5 304.00,381.9 304.10,369.7 304.20,357.8 304.30,346.3 304.40,335.1 304.50,324.4 304.60,314.1 304.70,304.3 304.80,294.9 304.90,286.1 305.00,277.7 305.10,269.9 305.20,262.5 305.30,255.8 305.40,249.6 305.50,243.9 305.60,238.9 305.70,234.4 305.80,230.4 305.90,227.1 305.98,230.2 306.06,233.8 306.14,238.0 306.22,242.7 306.30,247.9 306.38,253.7 306.46,260.0 306.54,266.8 306.62,274.0 306.70,281.8 306.78,290.0 306.86,298.7 306.94,307.8 307.02,317.4 307.10,327.3 307.18,337.7 307.26,348.3 307.34,359.4 307.42,370.7 307.50,382.4 307.58,394.3 307.66,406.4 307.74,418.8 307.82,431.4 307.90,444.1 307.98,457.0 308.06,470.0 308.14,483.1 308.22,496.2 308.30,509.4 308.39,490.0 308.48,470.5 308.57,451.2 308.66,432.0 308.75,413.0 308.84,394.2 308.93,375.6 309.02,357.3 309.11,339.4 309.20,321.8 309.29,304.5 309.38,287.8 309.47,271.5 309.56,255.7 309.65,240.4 309.74,225.8 309.83,211.7 309.92,198.2 310.01,185.4 310.10,173.2 310.19,161.7 310.28,151.0 310.37,141.0 310.46,131.7 310.55,123.2 310.64,115.5 310.73,108.5 310.82,102.3 310.91,97.0 311.00,92.4 311.09,97.1 311.19,102.7 311.28,109.1 311.37,116.3 311.47,124.3 311.56,133.1 311.65,142.7 311.75,153.1 311.84,164.2 311.93,176.1 312.03,188.7 312.12,202.0 312.21,215.9 312.31,230.5 312.40,245.7 312.49,261.5 312.59,277.9 312.68,294.8 312.77,312.1 312.87,329.9 312.96,348.2 313.05,366.8 313.15,385.7 313.24,405.0 313.33,424.5 313.43,444.2 313.52,464.0 313.61,484.1 313.71,504.2 313.80,524.3 313.87,514.4 313.94,504.5 314.01,494.6 314.08,484.9 314.15,475.2 314.22,465.6 314.29,456.1 314.36,446.8 314.43,437.6 314.50,428.6 314.57,419.9 314.64,411.3 314.71,403.0 314.78,395.0 314.85,387.2 314.92,379.7 314.99,372.5 315.06,365.6 315.13,359.1 315.20,352.9 315.27,347.1 315.34,341.6 315.41,336.5 315.48,331.7 315.55,327.4 315.62,323.5 315.69,319.9 315.76,316.8 315.83,314.0 315.90,311.7 315.98,314.1 316.05,316.9 316.13,320.1 316.21,323.8 316.28,327.8 316.36,332.3 316.44,337.2 316.51,342.4 316.59,348.0 316.67,354.0 316.74,360.4 316.82,367.1 316.90,374.2 316.97,381.6 317.05,389.3 317.13,397.3 317.20,405.5 317.28,414.1 317.36,422.9 317.43,431.9 317.51,441.1 317.59,450.5 317.66,460.1 317.74,469.8 317.82,479.7 317.89,489.7 317.97,499.7 318.05,509.8 318.12,520.0 318.20,530.2 318.29,512.1 318.38,494.1 318.47,476.1 318.56,458.3 318.65,440.6 318.74,423.1 318.83,405.8 318.92,388.8 319.01,372.1 319.10,355.8 319.19,339.8 319.28,324.2 319.37,309.1 319.46,294.4 319.55,280.2 319.64,266.6 319.73,253.5 319.82,240.9 319.91,229.0 320.00,217.7 320.09,207.1 320.18,197.1 320.27,187.8 320.36,179.1 320.45,171.2 320.54,164.0 320.63,157.6 320.72,151.8 320.81,146.8 320.90,142.6 320.99,146.9 321.07,151.9 321.16,157.6 321.25,164.1 321.33,171.3 321.42,179.2 321.51,187.9 321.59,197.2 321.68,207.3 321.77,217.9 321.85,229.3 321.94,241.2 322.03,253.8 322.11,266.9 322.20,280.6 322.29,294.9 322.37,309.6 322.46,324.8 322.55,340.4 322.63,356.4 322.72,372.8 322.81,389.6 322.89,406.7 322.98,424.0 323.07,441.5 323.15,459.3 323.24,477.2 323.33,495.2 323.41,513.3 323.50,531.4 323.59,517.6 323.68,503.8 323.77,490.1 323.86,476.5 323.95,463.0 324.04,449.7 324.13,436.5 324.22,423.6 324.31,410.8 324.40,398.3 324.49,386.1 324.58,374.3 324.67,362.7 324.76,351.5 324.85,340.7 324.94,330.3 325.03,320.3 325.12,310.7 325.21,301.6 325.30,293.0 325.39,284.9 325.48,277.3 325.57,270.1 325.66,263.6 325.75,257.5 325.84,252.1 325.93,247.1 326.02,242.7 326.11,238.9 326.20,235.7 326.27,238.7 326.34,242.3 326.41,246.3 326.48,250.9 326.55,256.0 326.62,261.7 326.69,267.8 326.76,274.4 326.83,281.5 326.90,289.1 326.97,297.1 327.04,305.6 327.11,314.5 327.18,323.8 327.25,333.5 327.32,343.5 327.39,354.0 327.46,364.7 327.53,375.8 327.60,387.2 327.67,398.8 327.74,410.7 327.81,422.7 327.88,435.0 327.95,447.4 328.02,460.0 328.09,472.7 328.16,485.4 328.23,498.3 328.30,511.1 328.40,492.5 328.50,473.9 328.60,455.3 328.70,436.9 328.80,418.7 328.90,400.7 329.00,382.9 329.10,365.3 329.20,348.1 329.30,331.2 329.40,314.7 329.50,298.7 329.60,283.1 329.70,267.9 329.80,253.3 329.90,239.2 330.00,225.7 330.10,212.8 330.20,200.5 330.30,188.9 330.40,177.9 330.50,167.6 330.60,158.0 330.70,149.1 330.80,140.9 330.90,133.5 331.00,126.8 331.10,120.9 331.20,115.8 331.30,111.4 331.40,115.9 331.51,121.2 331.61,127.2 331.71,134.0 331.82,141.6 331.92,150.0 332.02,159.1 332.13,168.9 332.23,179.4 332.33,190.7 332.44,202.6 332.54,215.2 332.64,228.4 332.75,242.2 332.85,256.6 332.95,271.6 333.06,287.1 333.16,303.1 333.26,319.5 333.37,336.4 333.47,353.7 333.57,371.3 333.68,389.2 333.78,407.5 333.88,425.9 333.99,444.6 334.09,463.4 334.19,482.4 334.30,501.4 334.40,520.5 334.48,512.2 334.56,503.9 334.65,495.6 334.73,487.5 334.81,479.5 334.89,471.7 334.97,464.0 335.05,456.6 335.14,449.5 335.22,442.6 335.30,436.0 335.38,429.8 335.46,423.9 335.55,418.3 335.63,413.2 335.71,408.5 335.79,404.2 335.87,400.4 335.95,397.0 336.04,394.0 336.12,391.5 336.20,389.5 336.27,391.5 336.35,393.8 336.42,396.5 336.50,399.6 336.57,403.1 336.64,406.9 336.72,411.1 336.79,415.6 336.87,420.4 336.94,425.6 337.01,431.1 337.09,436.9 337.16,443.0 337.24,449.4 337.31,456.0 337.39,462.9 337.46,470.0 337.53,477.3 337.61,484.8 337.68,492.5 337.76,500.3 337.83,508.3 337.90,516.3 337.98,524.5 338.05,532.7 338.13,540.9 338.20,549.2 338.29,532.8 338.38,516.4 338.47,500.0 338.56,483.8 338.65,467.7 338.74,451.8 338.83,436.1 338.92,420.6 339.01,405.5 339.10,390.6 339.19,376.0 339.28,361.9 339.37,348.1 339.46,334.7 339.55,321.8 339.64,309.4 339.73,297.5 339.82,286.1 339.91,275.3 340.00,265.0 340.09,255.3 340.18,246.2 340.27,237.8 340.36,229.9 340.45,222.7 340.54,216.2 340.63,210.3 340.72,205.1 340.81,200.6 340.90,196.7 340.99,200.4 341.07,204.7 341.16,209.7 341.25,215.3 341.33,221.6 341.42,228.4 341.51,235.9 341.59,244.0 341.68,252.7 341.77,261.9 341.85,271.8 341.94,282.1 342.03,293.0 342.11,304.4 342.20,316.2 342.29,328.6 342.37,341.3 342.46,354.5 342.55,368.0 342.63,381.9 342.72,396.1 342.81,410.6 342.89,425.4 342.98,440.4 343.07,455.6 343.15,470.9 343.24,486.4 343.33,502.0 343.41,517.7 343.50,533.4 343.58,520.4 343.67,507.5 343.75,494.6 343.83,481.8 343.92,469.2 344.00,456.6 344.08,444.2 344.17,432.0 344.25,420.1 344.33,408.3 344.42,396.9 344.50,385.7 344.58,374.9 344.67,364.3 344.75,354.2 344.83,344.4 344.92,335.0 345.00,326.0 345.08,317.5 345.17,309.4 345.25,301.7 345.33,294.6 345.42,287.9 345.50,281.7 345.58,276.0 345.67,270.9 345.75,266.2 345.83,262.1 345.92,258.5 346.00,255.5 346.10,258.4 346.19,261.8 346.29,265.6 346.39,270.0 346.48,274.9 346.58,280.3 346.68,286.1 346.77,292.4 346.87,299.2 346.97,306.4 347.06,314.1 347.16,322.1 347.26,330.6 347.35,339.5 347.45,348.8 347.55,358.4 347.64,368.3 347.74,378.6 347.84,389.1 347.93,400.0 348.03,411.1 348.13,422.4 348.22,433.9 348.32,445.6 348.42,457.5 348.51,469.5 348.61,481.6 348.71,493.7 348.80,505.9 348.90,518.2 348.99,501.3 349.08,484.4 349.17,467.6 349.26,450.9 349.35,434.3 349.44,418.0 349.53,401.8 349.62,385.9 349.71,370.3 349.80,354.9 349.89,340.0 349.98,325.4 350.07,311.2 350.16,297.5 350.25,284.2 350.34,271.4 350.43,259.2 350.52,247.4 350.61,236.3 350.70,225.7 350.79,215.7 350.88,206.4 350.97,197.7 351.06,189.6 351.15,182.2 351.24,175.5 351.33,169.4 351.42,164.0 351.51,159.4 351.60,155.4 351.70,159.4 351.81,164.1 351.91,169.5 352.01,175.6 352.12,182.4 352.22,189.8 352.32,197.9 352.43,206.7 352.53,216.1 352.63,226.1 352.74,236.8 352.84,248.0 352.94,259.8 353.05,272.2 353.15,285.0 353.25,298.4 353.36,312.2 353.46,326.5 353.56,341.1 353.67,356.2 353.77,371.6 353.87,387.3 353.98,403.4 354.08,419.6 354.18,436.1 354.29,452.8 354.39,469.6 354.49,486.5 354.60,503.5 354.70,520.5 354.87,513.0 355.03,505.6 355.20,498.6 355.37,492.1 355.53,486.3 355.70,481.2 355.87,477.1 356.03,473.9 356.20,471.8 356.31,473.8 356.42,476.3 356.53,479.4 356.64,483.0 356.76,487.1 356.87,491.7 356.98,496.8 357.09,502.3 357.20,508.3 357.31,514.6 357.42,521.3 357.53,528.3 357.64,535.6 357.76,543.1 357.87,550.8 357.98,558.6 358.09,566.5 358.20,574.5 358.30,560.0 358.39,545.6 358.49,531.2 358.59,516.9 358.68,502.7 358.78,488.7 358.88,474.8 358.97,461.2 359.07,447.8 359.17,434.7 359.26,421.9 359.36,409.4 359.46,397.3 359.55,385.5 359.65,374.2 359.75,363.2 359.84,352.7 359.94,342.7 360.04,333.1 360.13,324.1 360.23,315.6 360.33,307.5 360.42,300.1 360.52,293.2 360.62,286.8 360.71,281.1 360.81,275.9 360.91,271.3 361.00,267.3 361.10,263.9 361.20,266.9 361.30,270.4 361.40,274.5 361.50,279.0 361.60,284.1 361.70,289.7 361.80,295.8 361.90,302.4 362.00,309.4 362.10,317.0 362.20,325.0 362.30,333.4 362.40,342.2 362.50,351.5 362.60,361.1 362.70,371.2 362.80,381.5 362.90,392.2 363.00,403.2 363.10,414.5 363.20,426.1 363.30,437.9 363.40,449.9 363.50,462.1 363.60,474.5 363.70,487.0 363.80,499.6 363.90,512.3 364.00,525.0 364.10,537.8 364.18,526.1 364.25,514.3 364.33,502.7 364.41,491.1 364.48,479.6 364.56,468.2 364.64,457.0 364.71,446.0 364.79,435.1 364.87,424.5 364.94,414.1 365.02,404.0 365.10,394.1 365.17,384.6 365.25,375.4 365.33,366.5 365.40,358.0 365.48,349.9 365.56,342.1 365.63,334.8 365.71,327.9 365.79,321.4 365.86,315.3 365.94,309.7 366.02,304.6 366.09,299.9 366.17,295.7 366.25,292.0 366.32,288.8 366.40,286.0 366.49,288.6 366.59,291.7 366.68,295.3 366.77,299.3 366.87,303.7 366.96,308.7 367.05,314.0 367.15,319.8 367.24,326.0 367.33,332.6 367.43,339.6 367.52,347.0 367.61,354.7 367.71,362.8 367.80,371.3 367.89,380.1 367.99,389.2 368.08,398.6 368.17,408.3 368.27,418.2 368.36,428.3 368.45,438.7 368.55,449.2 368.64,459.9 368.73,470.7 368.83,481.7 368.92,492.8 369.01,503.9 369.11,515.1 369.20,526.3 369.30,511.8 369.40,497.4 369.50,483.0 369.60,468.7 369.70,454.5 369.80,440.5 369.90,426.6 370.00,413.0 370.10,399.6 370.20,386.5 370.30,373.7 370.40,361.2 370.50,349.1 370.60,337.3 370.70,326.0 370.80,315.0 370.90,304.5 371.00,294.5 371.10,284.9 371.20,275.9 371.30,267.4 371.40,259.3 371.50,251.9 371.60,245.0 371.70,238.6 371.80,232.9 371.90,227.7 372.00,223.1 372.10,219.1 372.20,215.7 372.39,219.5 372.59,223.9 372.78,229.0 372.97,234.8 373.17,241.2 373.36,248.3 373.55,256.0 373.75,264.3 373.94,273.2 374.13,282.7 374.33,292.7 374.52,303.4 374.71,314.5 374.91,326.2 375.10,338.4 375.29,351.0 375.49,364.1 375.68,377.6 375.87,391.5 376.07,405.8 376.26,420.4 376.45,435.3 376.65,450.4 376.84,465.8 377.03,481.4 377.23,497.2 377.42,513.1 377.61,529.1 377.81,545.2 378.00,561.3 378.11,551.1 378.22,540.9 378.33,530.8 378.44,520.7 378.55,510.7 378.66,500.9 378.77,491.1 378.88,481.5 378.99,472.1 379.10,462.9 379.21,453.9 379.32,445.1 379.43,436.5 379.54,428.2 379.65,420.2 379.76,412.5 379.87,405.1 379.98,398.1 380.09,391.4 380.20,385.0 380.31,379.0 380.42,373.3 380.53,368.1 380.64,363.2 380.75,358.8 380.86,354.7 380.97,351.0 381.08,347.8 381.19,345.0 381.30,342.6 381.39,344.8 381.47,347.4 381.56,350.4 381.65,353.8 381.73,357.5 381.82,361.6 381.91,366.1 381.99,371.0 382.08,376.2 382.17,381.7 382.25,387.6 382.34,393.8 382.43,400.4 382.51,407.2 382.60,414.3 382.69,421.7 382.77,429.4 382.86,437.2 382.95,445.4 383.03,453.7 383.12,462.2 383.21,470.9 383.29,479.8 383.38,488.8 383.47,497.9 383.55,507.1 383.64,516.4 383.73,525.8 383.81,535.2 383.90,544.6 384.00,534.4 384.10,524.2 384.20,514.0 384.30,504.0 384.40,494.0 384.50,484.1 384.60,474.3 384.70,464.7 384.80,455.3 384.90,446.1 385.00,437.0 385.10,428.2 385.20,419.7 385.30,411.4 385.40,403.4 385.50,395.6 385.60,388.2 385.70,381.2 385.80,374.4 385.90,368.0 386.00,362.0 386.10,356.4 386.20,351.1 386.30,346.2 386.40,341.8 386.50,337.7 386.60,334.1 386.70,330.8 386.80,328.0 386.90,325.6 387.00,327.9 387.11,330.6 387.21,333.6 387.31,337.1 387.42,340.9 387.52,345.2 387.62,349.8 387.73,354.8 387.83,360.2 387.93,365.9 388.04,371.9 388.14,378.3 388.24,385.0 388.35,392.1 388.45,399.4 388.55,407.0 388.66,414.8 388.76,423.0 388.86,431.3 388.97,439.9 389.07,448.7 389.17,457.6 389.28,466.7 389.38,476.0 389.48,485.4 389.59,494.8 389.69,504.4 389.79,514.0 389.90,523.7 390.00,533.4 390.10,521.3 390.20,509.3 390.30,497.3 390.40,485.4 390.50,473.5 390.60,461.9 390.70,450.3 390.80,439.0 390.90,427.8 391.00,416.9 391.10,406.2 391.20,395.8 391.30,385.7 391.40,375.9 391.50,366.4 391.60,357.3 391.70,348.5 391.80,340.2 391.90,332.2 392.00,324.7 392.10,317.6 392.20,310.9 392.30,304.7 392.40,298.9 392.50,293.6 392.60,288.8 392.70,284.5 392.80,280.7 392.90,277.3 393.00,274.5 393.18,277.2 393.35,280.5 393.53,284.2 393.71,288.4 393.88,293.0 394.06,298.1 394.24,303.7 394.41,309.7 394.59,316.2 394.77,323.1 394.94,330.4 395.12,338.1 395.30,346.2 395.47,354.7 395.65,363.5 395.83,372.7 396.00,382.2 396.18,392.0 396.36,402.1 396.53,412.4 396.71,423.0 396.89,433.8 397.06,444.8 397.24,456.0 397.42,467.3 397.59,478.8 397.77,490.3 397.95,501.9 398.12,513.6 398.30,525.3 398.51,517.2 398.72,509.2 398.94,501.3 399.15,493.5 399.36,486.0 399.57,478.7 399.78,471.7 399.99,465.1 400.21,458.9 400.42,453.1 400.63,447.8 400.84,443.0 401.05,438.7 401.26,434.9 401.48,431.7 401.69,429.1 401.90,427.1 402.03,429.1 402.15,431.5 402.28,434.3 402.41,437.6 402.54,441.4 402.66,445.5 402.79,450.1 402.92,455.1 403.05,460.4 403.17,466.2 403.30,472.2 403.43,478.6 403.55,485.3 403.68,492.2 403.81,499.4 403.94,506.8 404.06,514.4 404.19,522.2 404.32,530.1 404.45,538.1 404.57,546.1 404.70,554.2 404.80,545.3 404.90,536.4 405.00,527.5 405.10,518.7 405.20,510.0 405.30,501.3 405.40,492.8 405.50,484.4 405.60,476.2 405.70,468.1 405.80,460.2 405.90,452.5 406.00,445.1 406.10,437.8 406.20,430.8 406.30,424.1 406.40,417.6 406.50,411.4 406.60,405.5 406.70,400.0 406.80,394.7 406.90,389.8 407.00,385.2 407.10,380.9 407.20,377.0 407.30,373.5 407.40,370.3 407.50,367.5 407.60,365.0 407.70,362.9 407.79,364.8 407.89,367.1 407.98,369.7 408.07,372.6 408.17,375.9 408.26,379.5 408.35,383.4 408.45,387.6 408.54,392.2 408.63,397.0 408.73,402.2 408.82,407.6 408.91,413.3 409.01,419.2 409.10,425.4 409.19,431.9 409.29,438.5 409.38,445.4 409.47,452.5 409.57,459.8 409.66,467.2 409.75,474.8 409.85,482.5 409.94,490.3 410.03,498.3 410.13,506.3 410.22,514.4 410.31,522.6 410.41,530.8 410.50,539.0 410.62,527.7 410.73,516.4 410.85,505.2 410.97,494.0 411.08,482.9 411.20,472.0 411.32,461.2 411.43,450.6 411.55,440.1 411.67,429.9 411.78,419.9 411.90,410.1 412.02,400.6 412.13,391.5 412.25,382.6 412.37,374.1 412.48,365.9 412.60,358.0 412.72,350.6 412.83,343.5 412.95,336.8 413.07,330.6 413.18,324.7 413.30,319.4 413.42,314.4 413.53,309.9 413.65,305.9 413.77,302.3 413.88,299.2 414.00,296.5 414.22,299.2 414.44,302.3 414.66,305.9 414.88,310.0 415.10,314.5 415.32,319.5 415.54,324.9 415.76,330.8 415.98,337.0 416.20,343.7 416.42,350.9 416.64,358.3 416.86,366.2 417.08,374.5 417.30,383.1 417.52,392.0 417.74,401.2 417.96,410.7 418.18,420.5 418.40,430.6 418.62,440.9 418.84,451.4 419.06,462.1 419.28,472.9 419.50,483.9 419.72,495.1 419.94,506.3 420.16,517.6 420.38,528.9 420.60,540.3 420.93,532.7 421.26,525.3 421.59,518.5 421.91,512.6 422.24,507.8 422.57,504.1 422.90,501.8 423.13,503.9 423.35,506.8 423.58,510.6 423.81,515.2 424.04,520.5 424.26,526.4 424.49,533.0 424.72,539.9 424.95,547.3 425.17,554.9 425.40,562.6 425.51,553.7 425.62,544.9 425.73,536.1 425.84,527.3 425.95,518.7 426.06,510.1 426.17,501.6 426.28,493.3 426.39,485.1 426.50,477.1 426.61,469.2 426.72,461.6 426.83,454.1 426.94,446.9 427.05,440.0 427.16,433.3 427.27,426.9 427.38,420.7 427.49,414.9 427.60,409.3 427.71,404.1 427.82,399.2 427.93,394.6 428.04,390.4 428.15,386.5 428.26,383.0 428.37,379.8 428.48,377.0 428.59,374.6 428.70,372.5 428.81,374.5 428.92,376.8 429.03,379.5 429.14,382.6 429.25,386.0 429.36,389.7 429.48,393.9 429.59,398.3 429.70,403.1 429.81,408.2 429.92,413.6 430.03,419.3 430.14,425.3 430.25,431.6 430.36,438.1 430.47,444.9 430.58,451.9 430.69,459.2 430.80,466.6 430.91,474.2 431.02,481.9 431.14,489.8 431.25,497.8 431.36,505.9 431.47,514.1 431.58,522.4 431.69,530.7 431.80,539.0 431.92,526.3 432.03,513.7 432.15,501.1 432.27,488.6 432.38,476.2 432.50,464.0 432.62,451.9 432.73,439.9 432.85,428.2 432.97,416.8 433.08,405.6 433.20,394.7 433.32,384.0 433.43,373.8 433.55,363.8 433.67,354.3 433.78,345.1 433.90,336.3 434.02,327.9 434.13,320.0 434.25,312.6 434.37,305.6 434.48,299.0 434.60,293.0 434.72,287.5 434.83,282.4 434.95,277.9 435.07,273.9 435.18,270.4 435.30,267.4 435.55,270.8 435.79,274.8 436.04,279.4 436.29,284.5 436.53,290.3 436.78,296.6 437.03,303.5 437.27,310.9 437.52,318.9 437.77,327.4 438.01,336.4 438.26,345.9 438.51,355.9 438.75,366.4 439.00,377.3 439.25,388.6 439.49,400.4 439.74,412.5 439.99,424.9 440.23,437.7 440.48,450.7 440.73,464.1 440.97,477.7 441.22,491.5 441.47,505.4 441.71,519.6 441.96,533.8 442.21,548.2 442.45,562.6 442.70,577.0 442.87,568.7 443.03,560.6 443.20,552.7 443.37,545.0 443.53,537.9 443.70,531.2 443.87,525.1 444.03,519.8 444.20,515.1 444.37,511.2 444.53,508.2 444.70,506.0 444.88,508.3 445.06,511.6 445.24,515.9 445.42,521.1 445.60,527.2 445.78,533.9 445.96,541.3 446.14,549.1 446.32,557.3 446.50,565.6 446.61,554.9 446.72,544.2 446.83,533.5 446.94,523.0 447.05,512.5 447.16,502.1 447.27,491.9 447.38,481.8 447.49,471.9 447.60,462.2 447.71,452.7 447.82,443.5 447.93,434.5 448.04,425.8 448.15,417.4 448.26,409.3 448.37,401.5 448.48,394.1 448.59,387.0 448.70,380.3 448.81,374.0 448.92,368.1 449.03,362.6 449.14,357.5 449.25,352.8 449.36,348.5 449.47,344.7 449.58,341.3 449.69,338.3 449.80,335.8 449.90,338.0 450.00,340.6 450.10,343.5 450.20,346.8 450.30,350.5 450.40,354.6 450.50,359.0 450.60,363.8 450.70,369.0 450.80,374.4 450.90,380.3 451.00,386.4 451.10,392.8 451.20,399.6 451.30,406.6 451.40,413.9 451.50,421.4 451.60,429.2 451.70,437.2 451.80,445.5 451.90,453.9 452.00,462.5 452.10,471.2 452.20,480.1 452.30,489.1 452.40,498.2 452.50,507.4 452.60,516.6 452.70,525.9 452.80,535.2 452.89,520.7 452.99,506.3 453.08,491.9 453.17,477.7 453.27,463.5 453.36,449.5 453.45,435.7 453.55,422.1 453.64,408.7 453.73,395.7 453.83,382.9 453.92,370.4 454.01,358.3 454.11,346.5 454.20,335.2 454.29,324.3 454.39,313.8 454.48,303.8 454.57,294.2 454.67,285.2 454.76,276.7 454.85,268.7 454.95,261.2 455.04,254.3 455.13,248.0 455.23,242.2 455.32,237.1 455.41,232.5 455.51,228.5 455.60,225.1 455.72,228.4 455.84,232.3 455.96,236.8 456.08,241.8 456.20,247.4 456.32,253.6 456.44,260.3 456.56,267.5 456.68,275.3 456.80,283.6 456.92,292.4 457.04,301.7 457.16,311.5 457.28,321.7 457.40,332.3 457.52,343.4 457.64,354.8 457.76,366.6 457.88,378.7 458.00,391.2 458.12,403.9 458.24,417.0 458.36,430.2 458.48,443.7 458.60,457.3 458.72,471.1 458.84,485.0 458.96,499.0 459.08,513.0 459.20,527.1 459.38,519.0 459.56,511.0 459.75,503.2 459.93,495.8 460.11,489.0 460.29,482.7 460.47,477.1 460.65,472.3 460.84,468.3 461.02,465.2 461.20,463.0 461.34,465.1 461.48,467.7 461.62,470.9 461.76,474.6 461.89,478.9 462.03,483.6 462.17,488.9 462.31,494.6 462.45,500.8 462.59,507.4 462.73,514.3 462.87,521.6 463.01,529.1 463.14,536.9 463.28,544.9 463.42,553.0 463.56,561.2 463.70,569.5 463.79,561.4 463.88,553.4 463.97,545.4 464.06,537.6 464.15,529.9 464.24,522.4 464.33,515.2 464.42,508.2 464.51,501.5 464.60,495.1 464.69,489.0 464.78,483.4 464.87,478.1 464.96,473.3 465.05,468.9 465.14,465.0 465.23,461.5 465.32,458.6 465.41,456.1 465.50,454.1 465.59,456.1 465.68,458.6 465.77,461.6 465.86,465.0 465.95,469.0 466.04,473.4 466.13,478.2 466.22,483.5 466.31,489.2 466.40,495.2 466.49,501.7 466.58,508.4 466.67,515.4 466.76,522.7 466.85,530.3 466.94,538.0 467.03,545.8 467.12,553.8 467.21,561.9 467.30,570.0 467.41,556.6 467.53,543.2 467.64,529.9 467.75,516.7 467.87,503.6 467.98,490.6 468.09,477.8 468.21,465.2 468.32,452.8 468.43,440.7 468.55,428.8 468.66,417.3 468.77,406.0 468.89,395.1 469.00,384.6 469.11,374.5 469.23,364.8 469.34,355.5 469.45,346.7 469.57,338.3 469.68,330.4 469.79,323.0 469.91,316.1 470.02,309.7 470.13,303.8 470.25,298.5 470.36,293.7 470.47,289.5 470.59,285.7 470.70,282.6 470.78,285.3 470.86,288.5 470.94,292.2 471.02,296.4 471.10,301.0 471.18,306.1 471.26,311.6 471.34,317.6 471.42,324.0 471.50,330.8 471.58,338.1 471.66,345.7 471.74,353.8 471.82,362.2 471.90,370.9 471.98,380.0 472.06,389.5 472.14,399.2 472.22,409.2 472.30,419.4 472.38,429.9 472.46,440.7 472.54,451.6 472.62,462.7 472.70,473.9 472.78,485.2 472.86,496.7 472.94,508.2 473.02,519.8 473.10,531.4 473.22,515.5 473.33,499.7 473.45,483.9 473.57,468.2 473.68,452.7 473.80,437.3 473.92,422.1 474.03,407.2 474.15,392.5 474.27,378.2 474.38,364.1 474.50,350.4 474.62,337.1 474.73,324.2 474.85,311.8 474.97,299.8 475.08,288.3 475.20,277.3 475.32,266.8 475.43,256.9 475.55,247.5 475.67,238.7 475.78,230.6 475.90,223.0 476.02,216.0 476.13,209.7 476.25,204.0 476.37,199.0 476.48,194.6 476.60,190.9 476.68,194.6 476.76,199.0 476.84,204.1 476.92,209.8 477.00,216.1 477.08,223.1 477.16,230.7 477.24,238.9 477.32,247.7 477.40,257.1 477.48,267.1 477.56,277.6 477.64,288.7 477.72,300.2 477.80,312.2 477.88,324.8 477.96,337.7 478.04,351.1 478.12,364.8 478.20,378.9 478.28,393.3 478.36,408.0 478.44,423.0 478.52,438.3 478.60,453.7 478.68,469.3 478.76,485.0 478.84,500.9 478.92,516.8 479.00,532.7 479.13,524.5 479.26,516.2 479.39,508.1 479.52,500.0 479.65,492.1 479.78,484.3 479.91,476.6 480.04,469.2 480.17,462.0 480.30,455.1 480.43,448.5 480.57,442.1 480.70,436.1 480.83,430.4 480.96,425.1 481.09,420.1 481.22,415.6 481.35,411.4 481.48,407.7 481.61,404.4 481.74,401.5 481.87,399.1 482.00,397.1 482.05,399.1 482.09,401.4 482.14,404.1 482.19,407.2 482.23,410.6 482.28,414.4 482.32,418.6 482.37,423.0 482.42,427.8 482.46,433.0 482.51,438.4 482.56,444.2 482.60,450.2 482.65,456.5 482.70,463.1 482.74,469.9 482.79,476.9 482.84,484.2 482.88,491.6 482.93,499.2 482.98,507.0 483.02,515.0 483.07,523.0 483.11,531.2 483.16,539.4 483.21,547.7 483.25,556.0 483.30,564.4 483.39,556.1 483.48,547.9 483.57,539.7 483.66,531.5 483.75,523.4 483.84,515.4 483.93,507.5 484.02,499.7 484.11,492.1 484.20,484.6 484.29,477.3 484.38,470.1 484.47,463.2 484.56,456.5 484.65,450.0 484.74,443.7 484.83,437.7 484.92,432.0 485.01,426.5 485.10,421.4 485.19,416.5 485.28,411.9 485.37,407.7 485.46,403.7 485.55,400.1 485.64,396.8 485.73,393.9 485.82,391.2 485.91,388.9 486.00,387.0 486.08,389.0 486.15,391.4 486.23,394.2 486.31,397.3 486.38,400.8 486.46,404.6 486.54,408.7 486.61,413.2 486.69,418.0 486.77,423.1 486.84,428.5 486.92,434.3 487.00,440.3 487.07,446.6 487.15,453.1 487.23,460.0 487.30,467.0 487.38,474.3 487.46,481.8 487.53,489.5 487.61,497.3 487.69,505.4 487.76,513.5 487.84,521.8 487.92,530.2 487.99,538.7 488.07,547.3 488.15,555.9 488.22,564.6 488.30,573.3 488.40,557.7 488.50,542.1 488.60,526.6 488.70,511.1 488.80,495.9 488.90,480.7 489.00,465.8 489.10,451.1 489.20,436.7 489.30,422.6 489.40,408.7 489.50,395.3 489.60,382.2 489.70,369.5 489.80,357.2 489.90,345.4 490.00,334.1 490.10,323.3 490.20,313.0 490.30,303.2 490.40,294.0 490.50,285.4 490.60,277.3 490.70,269.9 490.80,263.0 490.90,256.8 491.00,251.2 491.10,246.3 491.20,242.0 491.30,238.3 491.37,241.5 491.44,245.2 491.51,249.5 491.58,254.3 491.65,259.7 491.72,265.6 491.79,272.0 491.86,279.0 491.93,286.4 492.00,294.4 492.07,302.8 492.14,311.7 492.21,321.0 492.28,330.8 492.35,341.0 492.42,351.6 492.49,362.5 492.56,373.9 492.63,385.5 492.70,397.4 492.77,409.6 492.84,422.1 492.91,434.8 492.98,447.7 493.05,460.7 493.12,473.9 493.19,487.2 493.26,500.6 493.33,514.1 493.40,527.6 493.52,510.6 493.63,493.7 493.75,476.8 493.87,460.1 493.98,443.5 494.10,427.1 494.22,410.8 494.33,394.9 494.45,379.2 494.57,363.8 494.68,348.8 494.80,334.2 494.92,320.0 495.03,306.2 495.15,292.9 495.27,280.1 495.38,267.8 495.50,256.0 495.62,244.8 495.73,234.2 495.85,224.2 495.97,214.8 496.08,206.1 496.20,198.0 496.32,190.6 496.43,183.8 496.55,177.8 496.67,172.4 496.78,167.7 496.90,163.7 496.95,167.9 497.01,172.8 497.06,178.5 497.11,184.9 497.17,192.0 497.22,199.8 497.27,208.3 497.33,217.5 497.38,227.4 497.43,237.9 497.49,249.1 497.54,260.8 497.59,273.2 497.65,286.2 497.70,299.6 497.75,313.6 497.81,328.1 497.86,343.1 497.91,358.5 497.97,374.3 498.02,390.5 498.07,407.0 498.13,423.7 498.18,440.8 498.23,458.1 498.29,475.6 498.34,493.2 498.39,510.9 498.45,528.7 498.50,546.6 498.60,537.1 498.69,527.6 498.79,518.1 498.89,508.7 498.98,499.4 499.08,490.2 499.18,481.1 499.27,472.2 499.37,463.4 499.47,454.8 499.56,446.3 499.66,438.1 499.76,430.2 499.85,422.4 499.95,415.0 500.05,407.8 500.14,400.9 500.24,394.3 500.34,388.0 500.43,382.1 500.53,376.4 500.63,371.2 500.72,366.3 500.82,361.7 500.92,357.6 501.01,353.8 501.11,350.4 501.21,347.4 501.30,344.7 501.40,342.5 501.49,344.8 501.57,347.5 501.66,350.7 501.75,354.2 501.83,358.1 501.92,362.5 502.01,367.2 502.09,372.2 502.18,377.7 502.27,383.5 502.35,389.7 502.44,396.2 502.53,403.0 502.61,410.2 502.70,417.7 502.79,425.4 502.87,433.4 502.96,441.7 503.05,450.2 503.13,458.9 503.22,467.9 503.31,477.0 503.39,486.3 503.48,495.7 503.57,505.3 503.65,514.9 503.74,524.7 503.83,534.5 503.91,544.3 504.00,554.2 504.08,542.8 504.17,531.5 504.25,520.2 504.33,509.0 504.42,497.9 504.50,486.9 504.58,476.1 504.67,465.4 504.75,454.9 504.83,444.7 504.92,434.6 505.00,424.8 505.08,415.3 505.17,406.1 505.25,397.2 505.33,388.6 505.42,380.4 505.50,372.5 505.58,365.1 505.67,358.0 505.75,351.3 505.83,345.0 505.92,339.2 506.00,333.7 506.08,328.8 506.17,324.3 506.25,320.2 506.33,316.6 506.42,313.5 506.50,310.8 506.58,313.6 506.67,317.0 506.75,320.8 506.83,325.1 506.92,329.9 507.00,335.2 507.08,341.0 507.17,347.2 507.25,353.9 507.33,361.0 507.42,368.6 507.50,376.6 507.58,384.9 507.67,393.7 507.75,402.8 507.83,412.3 507.92,422.1 508.00,432.2 508.08,442.7 508.17,453.4 508.25,464.3 508.33,475.5 508.42,486.8 508.50,498.4 508.58,510.1 508.67,521.9 508.75,533.8 508.83,545.9 508.92,557.9 509.00,570.0 509.09,553.1 509.17,536.3 509.26,519.5 509.35,502.9 509.43,486.3 509.52,470.0 509.61,453.9 509.69,438.0 509.78,422.4 509.87,407.1 509.95,392.2 510.04,377.7 510.13,363.5 510.21,349.8 510.30,336.6 510.39,323.8 510.47,311.6 510.56,299.9 510.65,288.8 510.73,278.2 510.82,268.3 510.91,259.0 510.99,250.3 511.08,242.2 511.17,234.8 511.25,228.1 511.34,222.1 511.43,216.7 511.51,212.1 511.60,208.1 511.68,211.5 511.77,215.5 511.85,220.0 511.93,225.2 512.02,230.9 512.10,237.2 512.18,244.0 512.27,251.5 512.35,259.4 512.43,267.9 512.52,276.9 512.60,286.4 512.68,296.4 512.77,306.8 512.85,317.7 512.93,329.0 513.02,340.6 513.10,352.7 513.18,365.1 513.27,377.8 513.35,390.9 513.43,404.1 513.52,417.7 513.60,431.4 513.68,445.4 513.77,459.4 513.85,473.6 513.93,487.9 514.02,502.3 514.10,516.7 514.19,499.1 514.29,481.5 514.38,464.1 514.47,446.7 514.57,429.5 514.66,412.4 514.75,395.6 514.85,379.1 514.94,362.8 515.03,346.9 515.13,331.4 515.22,316.2 515.31,301.4 515.41,287.2 515.50,273.4 515.59,260.1 515.69,247.3 515.78,235.1 515.87,223.5 515.97,212.5 516.06,202.1 516.15,192.4 516.25,183.4 516.34,175.0 516.43,167.3 516.53,160.3 516.62,154.0 516.71,148.4 516.81,143.5 516.90,139.4 516.99,143.9 517.09,149.3 517.18,155.4 517.27,162.3 517.37,170.0 517.46,178.4 517.55,187.6 517.65,197.6 517.74,208.3 517.83,219.6 517.93,231.7 518.02,244.5 518.11,257.8 518.21,271.8 518.30,286.4 518.39,301.6 518.49,317.2 518.58,333.4 518.67,350.1 518.77,367.2 518.86,384.6 518.95,402.5 519.05,420.6 519.14,439.1 519.23,457.8 519.33,476.7 519.42,495.7 519.51,514.9 519.61,534.2 519.70,553.5 519.77,541.2 519.83,529.0 519.90,516.9 519.97,504.8 520.03,492.8 520.10,480.9 520.17,469.2 520.23,457.7 520.30,446.4 520.37,435.3 520.43,424.4 520.50,413.9 520.57,403.6 520.63,393.7 520.70,384.1 520.77,374.8 520.83,365.9 520.90,357.4 520.97,349.4 521.03,341.7 521.10,334.5 521.17,327.7 521.23,321.4 521.30,315.6 521.37,310.2 521.43,305.3 521.50,300.9 521.57,297.1 521.63,293.7 521.70,290.8 521.78,293.5 521.87,296.6 521.95,300.2 522.03,304.3 522.12,308.8 522.20,313.8 522.28,319.3 522.37,325.1 522.45,331.4 522.53,338.2 522.62,345.3 522.70,352.8 522.78,360.7 522.87,369.0 522.95,377.6 523.03,386.5 523.12,395.8 523.20,405.3 523.28,415.1 523.37,425.2 523.45,435.5 523.53,446.1 523.62,456.8 523.70,467.7 523.78,478.7 523.87,489.9 523.95,501.1 524.03,512.4 524.12,523.8 524.20,535.2 524.29,521.0 524.37,506.8 524.46,492.6 524.55,478.6 524.63,464.6 524.72,450.8 524.81,437.2 524.89,423.9 524.98,410.7 525.07,397.8 525.15,385.2 525.24,372.9 525.33,361.0 525.41,349.5 525.50,338.3 525.59,327.5 525.67,317.2 525.76,307.4 525.85,298.0 525.93,289.1 526.02,280.7 526.11,272.8 526.19,265.5 526.28,258.7 526.37,252.4 526.45,246.8 526.54,241.7 526.63,237.2 526.71,233.2 526.80,229.9 526.88,233.6 526.97,237.9 527.05,242.9 527.13,248.5 527.22,254.7 527.30,261.5 527.38,269.0 527.47,277.1 527.55,285.7 527.63,295.0 527.72,304.7 527.80,315.1 527.88,325.9 527.97,337.3 528.05,349.1 528.13,361.4 528.22,374.1 528.30,387.2 528.38,400.7 528.47,414.5 528.55,428.7 528.63,443.2 528.72,457.9 528.80,472.8 528.88,488.0 528.97,503.3 529.05,518.8 529.13,534.3 529.22,549.9 529.30,565.6 529.38,548.3 529.47,531.1 529.55,513.9 529.63,496.9 529.72,480.0 529.80,463.2 529.88,446.7 529.97,430.5 530.05,414.5 530.13,398.9 530.22,383.6 530.30,368.7 530.38,354.2 530.47,340.2 530.55,326.6 530.63,313.6 530.72,301.1 530.80,289.1 530.88,277.7 530.97,266.9 531.05,256.7 531.13,247.2 531.22,238.3 531.30,230.0 531.38,222.5 531.47,215.6 531.55,209.4 531.63,203.9 531.72,199.2 531.80,195.1 531.89,198.5 531.97,202.6 532.06,207.3 532.15,212.5 532.23,218.3 532.32,224.8 532.41,231.8 532.49,239.3 532.58,247.4 532.67,256.1 532.75,265.3 532.84,275.0 532.93,285.1 533.01,295.8 533.10,306.9 533.19,318.4 533.27,330.3 533.36,342.6 533.45,355.3 533.53,368.2 533.62,381.5 533.71,395.1 533.79,408.9 533.88,422.9 533.97,437.1 534.05,451.5 534.14,466.0 534.23,480.6 534.31,495.2 534.40,509.9 534.48,491.6 534.57,473.4 534.65,455.2 534.73,437.2 534.82,419.3 534.90,401.6 534.98,384.1 535.07,366.9 535.15,350.0 535.23,333.5 535.32,317.3 535.40,301.5 535.48,286.2 535.57,271.3 535.65,257.0 535.73,243.2 535.82,229.9 535.90,217.3 535.98,205.2 536.07,193.8 536.15,183.0 536.23,172.9 536.32,163.5 536.40,154.8 536.48,146.8 536.57,139.5 536.65,132.9 536.73,127.1 536.82,122.1 536.90,117.8 537.00,122.5 537.11,128.1 537.21,134.5 537.31,141.7 537.42,149.7 537.52,158.5 537.62,168.1 537.73,178.4 537.83,189.5 537.93,201.4 538.04,214.0 538.14,227.2 538.24,241.2 538.35,255.8 538.45,271.0 538.55,286.7 538.66,303.1 538.76,319.9 538.86,337.3 538.97,355.1 539.07,373.3 539.17,391.9 539.28,410.8 539.38,430.0 539.48,449.5 539.59,469.2 539.69,489.0 539.79,509.0 539.90,529.1 540.00,549.2 540.07,535.0 540.13,520.8 540.20,506.7 540.27,492.6 540.33,478.7 540.40,465.0 540.47,451.4 540.53,438.0 540.60,424.9 540.67,412.0 540.73,399.5 540.80,387.2 540.87,375.3 540.93,363.8 541.00,352.6 541.07,341.9 541.13,331.6 541.20,321.7 541.27,312.3 541.33,303.5 541.40,295.1 541.47,287.2 541.53,279.9 541.60,273.1 541.67,266.9 541.73,261.3 541.80,256.2 541.87,251.7 541.93,247.7 542.00,244.4 542.08,247.4 542.17,250.9 542.25,255.0 542.33,259.5 542.42,264.6 542.50,270.2 542.58,276.3 542.67,282.9 542.75,289.9 542.83,297.5 542.92,305.4 543.00,313.9 543.08,322.7 543.17,332.0 543.25,341.6 543.33,351.6 543.42,362.0 543.50,372.7 543.58,383.7 543.67,395.0 543.75,406.5 543.83,418.3 543.92,430.3 544.00,442.5 544.08,454.9 544.17,467.4 544.25,480.0 544.33,492.7 544.42,505.4 544.50,518.2 544.58,501.4 544.67,484.6 544.75,467.8 544.83,451.2 544.92,434.7 545.00,418.4 545.08,402.3 545.17,386.5 545.25,370.9 545.33,355.7 545.42,340.8 545.50,326.3 545.58,312.2 545.67,298.5 545.75,285.3 545.83,272.6 545.92,260.4 546.00,248.7 546.08,237.6 546.17,227.1 546.25,217.1 546.33,207.8 546.42,199.2 546.50,191.1 546.58,183.8 546.67,177.1 546.75,171.0 546.83,165.7 546.92,161.1 547.00,157.1 547.09,161.4 547.19,166.5 547.28,172.3 547.37,178.9 547.47,186.2 547.56,194.2 547.65,203.0 547.75,212.5 547.84,222.6 547.93,233.5 548.03,245.0 548.12,257.1 548.21,269.8 548.31,283.1 548.40,297.0 548.49,311.4 548.59,326.4 548.68,341.8 548.77,357.6 548.87,373.9 548.96,390.5 549.05,407.5 549.15,424.8 549.24,442.3 549.33,460.1 549.43,478.1 549.52,496.2 549.61,514.5 549.71,532.8 549.80,551.2 549.88,535.0 549.95,518.8 550.03,502.7 550.11,486.7 550.18,470.8 550.26,455.1 550.34,439.6 550.41,424.3 550.49,409.3 550.57,394.6 550.64,380.3 550.72,366.3 550.80,352.7 550.87,339.5 550.95,326.8 551.03,314.6 551.10,302.8 551.18,291.6 551.26,280.9 551.33,270.7 551.41,261.2 551.49,252.2 551.56,243.8 551.64,236.1 551.72,229.0 551.79,222.5 551.87,216.7 551.95,211.6 552.02,207.1 552.10,203.3 552.19,206.6 552.27,210.5 552.36,215.0 552.45,220.1 552.53,225.7 552.62,231.9 552.71,238.7 552.79,245.9 552.88,253.8 552.97,262.1 553.05,271.0 553.14,280.3 553.23,290.1 553.31,300.4 553.40,311.1 553.49,322.2 553.57,333.6 553.66,345.5 553.75,357.7 553.83,370.2 553.92,383.0 554.01,396.1 554.09,409.4 554.18,422.9 554.27,436.6 554.35,450.5 554.44,464.5 554.53,478.5 554.61,492.6 554.70,506.8 554.78,488.2 554.87,469.7 554.95,451.2 555.03,432.8 555.12,414.7 555.20,396.7 555.28,378.9 555.37,361.4 555.45,344.3 555.53,327.4 555.62,311.0 555.70,295.0 555.78,279.4 555.87,264.3 555.95,249.7 556.03,235.7 556.12,222.2 556.20,209.3 556.28,197.1 556.37,185.4 556.45,174.5 556.53,164.2 556.62,154.6 556.70,145.8 556.78,137.6 556.87,130.2 556.95,123.6 557.03,117.7 557.12,112.6 557.20,108.2 557.28,112.9 557.37,118.5 557.45,124.9 557.53,132.1 557.62,140.1 557.70,149.0 557.78,158.6 557.87,169.0 557.95,180.1 558.03,192.0 558.12,204.6 558.20,217.9 558.28,231.9 558.37,246.5 558.45,261.8 558.53,277.6 558.62,294.0 558.70,310.9 558.78,328.3 558.87,346.1 558.95,364.4 559.03,383.0 559.12,402.0 559.20,421.3 559.28,440.8 559.37,460.5 559.45,480.5 559.53,500.5 559.62,520.6 559.70,540.8 559.79,525.4 559.87,510.0 559.96,494.7 560.05,479.4 560.13,464.4 560.22,449.4 560.31,434.7 560.39,420.2 560.48,405.9 560.57,392.0 560.65,378.3 560.74,365.0 560.83,352.1 560.91,339.6 561.00,327.5 561.09,315.9 561.17,304.7 561.26,294.0 561.35,283.8 561.43,274.2 561.52,265.1 561.61,256.6 561.69,248.6 561.78,241.3 561.87,234.5 561.95,228.4 562.04,222.9 562.13,218.0 562.21,213.7 562.30,210.1 562.38,213.3 562.47,217.1 562.55,221.5 562.63,226.4 562.72,231.9 562.80,237.9 562.88,244.4 562.97,251.5 563.05,259.1 563.13,267.2 563.22,275.8 563.30,284.9 563.38,294.4 563.47,304.3 563.55,314.7 563.63,325.5 563.72,336.7 563.80,348.2 563.88,360.0 563.97,372.2 564.05,384.6 564.13,397.3 564.22,410.2 564.30,423.4 564.38,436.7 564.47,450.1 564.55,463.7 564.63,477.3 564.72,491.1 564.80,504.8 564.88,486.2 564.97,467.6 565.05,449.0 565.13,430.6 565.22,412.4 565.30,394.4 565.38,376.6 565.47,359.0 565.55,341.8 565.63,324.9 565.72,308.4 565.80,292.4 565.88,276.8 565.97,261.6 566.05,247.0 566.13,232.9 566.22,219.4 566.30,206.5 566.38,194.2 566.47,182.6 566.55,171.6 566.63,161.3 566.72,151.7 566.80,142.8 566.88,134.6 566.97,127.2 567.05,120.5 567.13,114.6 567.22,109.5 567.30,105.1 567.39,109.8 567.47,115.4 567.56,121.8 567.65,129.0 567.73,137.1 567.82,145.9 567.91,155.5 567.99,165.9 568.08,177.1 568.17,188.9 568.25,201.6 568.34,214.9 568.43,228.9 568.51,243.5 568.60,258.7 568.69,274.5 568.77,290.9 568.86,307.8 568.95,325.2 569.03,343.1 569.12,361.3 569.21,380.0 569.29,399.0 569.38,418.2 569.47,437.8 569.55,457.5 569.64,477.4 569.73,497.5 569.81,517.6 569.90,537.8 569.98,523.7 570.07,509.7 570.15,495.7 570.23,481.8 570.32,468.0 570.40,454.4 570.48,441.0 570.57,427.7 570.65,414.7 570.73,402.0 570.82,389.5 570.90,377.4 570.98,365.6 571.07,354.2 571.15,343.1 571.23,332.5 571.32,322.3 571.40,312.6 571.48,303.3 571.57,294.5 571.65,286.2 571.73,278.4 571.82,271.2 571.90,264.4 571.98,258.3 572.07,252.7 572.15,247.7 572.23,243.2 572.32,239.3 572.40,236.0 572.48,239.0 572.57,242.6 572.65,246.6 572.73,251.2 572.82,256.4 572.90,262.0 572.98,268.1 573.07,274.7 573.15,281.8 573.23,289.4 573.32,297.4 573.40,305.9 573.48,314.8 573.57,324.1 573.65,333.8 573.73,343.9 573.82,354.4 573.90,365.1 573.98,376.2 574.07,387.6 574.15,399.2 574.23,411.1 574.32,423.2 574.40,435.4 574.48,447.9 574.57,460.5 574.65,473.2 574.73,485.9 574.82,498.7 574.90,511.6 574.99,493.1 575.07,474.7 575.16,456.3 575.25,438.1 575.33,420.0 575.42,402.1 575.51,384.4 575.59,367.1 575.68,350.0 575.77,333.3 575.85,316.9 575.94,301.0 576.03,285.5 576.11,270.5 576.20,256.0 576.29,242.0 576.37,228.6 576.46,215.8 576.55,203.6 576.63,192.1 576.72,181.2 576.81,171.0 576.89,161.5 576.98,152.7 577.07,144.6 577.15,137.2 577.24,130.6 577.33,124.7 577.41,119.6 577.50,115.3 577.58,119.9 577.67,125.4 577.75,131.7 577.83,138.8 577.92,146.6 578.00,155.3 578.08,164.7 578.17,174.9 578.25,185.8 578.33,197.5 578.42,209.9 578.50,222.9 578.58,236.6 578.67,251.0 578.75,265.9 578.83,281.4 578.92,297.5 579.00,314.1 579.08,331.1 579.17,348.6 579.25,366.5 579.33,384.8 579.42,403.4 579.50,422.3 579.58,441.4 579.67,460.8 579.75,480.3 579.83,500.0 579.92,519.7 580.00,539.5 580.08,523.4 580.17,507.3 580.25,491.2 580.33,475.3 580.42,459.5 580.50,443.9 580.58,428.5 580.67,413.3 580.75,398.4 580.83,383.8 580.92,369.6 581.00,355.7 581.08,342.2 581.17,329.1 581.25,316.4 581.33,304.2 581.42,292.5 581.50,281.4 581.58,270.7 581.67,260.6 581.75,251.1 581.83,242.2 581.92,233.9 582.00,226.2 582.08,219.1 582.17,212.7 582.25,207.0 582.33,201.8 582.42,197.4 582.50,193.6 582.59,197.0 582.67,200.9 582.76,205.5 582.85,210.6 582.93,216.4 583.02,222.7 583.11,229.5 583.19,236.9 583.28,244.9 583.37,253.3 583.45,262.3 583.54,271.8 583.63,281.7 583.71,292.2 583.80,303.0 583.89,314.3 583.97,326.0 584.06,338.0 584.15,350.4 584.23,363.1 584.32,376.1 584.41,389.4 584.49,402.9 584.58,416.6 584.67,430.6 584.75,444.6 584.84,458.8 584.93,473.1 585.01,487.4 585.10,501.8 585.18,482.1 585.27,462.5 585.35,442.9 585.43,423.5 585.52,404.2 585.60,385.2 585.68,366.4 585.77,347.9 585.85,329.7 585.93,311.9 586.02,294.5 586.10,277.5 586.18,261.0 586.27,245.1 586.35,229.6 586.43,214.8 586.52,200.5 586.60,186.9 586.68,173.9 586.77,161.6 586.85,150.0 586.93,139.1 587.02,129.0 587.10,119.6 587.18,111.0 587.27,103.1 587.35,96.1 587.43,89.9 587.52,84.4 587.60,79.8 587.70,84.7 587.81,90.5 587.91,97.1 588.01,104.6 588.12,112.9 588.22,122.0 588.32,132.0 588.43,142.7 588.53,154.3 588.63,166.6 588.74,179.6 588.84,193.4 588.94,207.9 589.05,223.0 589.15,238.8 589.25,255.2 589.36,272.1 589.46,289.6 589.56,307.6 589.67,326.1 589.77,345.0 589.87,364.3 589.98,383.9 590.08,403.9 590.18,424.1 590.29,444.5 590.39,465.1 590.49,485.9 590.60,506.7 590.70,527.6 590.77,516.5 590.83,505.4 590.90,494.3 590.97,483.4 591.03,472.5 591.10,461.7 591.17,451.1 591.23,440.7 591.30,430.4 591.37,420.3 591.43,410.5 591.50,400.9 591.57,391.6 591.63,382.6 591.70,373.8 591.77,365.4 591.83,357.4 591.90,349.7 591.97,342.3 592.03,335.4 592.10,328.8 592.17,322.7 592.23,317.0 592.30,311.7 592.37,306.8 592.43,302.4 592.50,298.4 592.57,294.9 592.63,291.8 592.70,289.2 592.77,291.8 592.83,294.9 592.90,298.4 592.97,302.3 593.03,306.7 593.10,311.5 593.17,316.8 593.23,322.5 593.30,328.6 593.37,335.1 593.43,342.1 593.50,349.3 593.57,357.0 593.63,365.0 593.70,373.4 593.77,382.1 593.83,391.0 593.90,400.3 593.97,409.8 594.03,419.6 594.10,429.6 594.17,439.8 594.23,450.2 594.30,460.8 594.37,471.5 594.43,482.3 594.50,493.2 594.57,504.2 594.63,515.2 594.70,526.3 594.80,508.2 594.91,490.2 595.01,472.2 595.11,454.4 595.22,436.7 595.32,419.2 595.42,401.9 595.53,384.9 595.63,368.2 595.73,351.8 595.84,335.8 595.94,320.3 596.04,305.1 596.15,290.4 596.25,276.2 596.35,262.6 596.46,249.5 596.56,237.0 596.66,225.0 596.77,213.7 596.87,203.1 596.97,193.1 597.08,183.8 597.18,175.1 597.28,167.2 597.39,160.0 597.49,153.6 597.59,147.8 597.70,142.8 597.80,138.6 597.88,143.0 597.97,148.1 598.05,154.1 598.13,160.7 598.22,168.2 598.30,176.3 598.38,185.2 598.47,194.9 598.55,205.2 598.63,216.2 598.72,227.9 598.80,240.2 598.88,253.1 598.97,266.6 599.05,280.8 599.13,295.4 599.22,310.6 599.30,326.2 599.38,342.3 599.47,358.8 599.55,375.7 599.63,393.0 599.72,410.5 599.80,428.4 599.88,446.4 599.97,464.7 600.05,483.1 600.13,501.7 600.22,520.3 600.30,539.0 600.38,522.9 600.47,506.8 600.55,490.8 600.63,474.9 600.72,459.2 600.80,443.6 600.88,428.2 600.97,413.0 601.05,398.1 601.13,383.6 601.22,369.3 601.30,355.4 601.38,341.9 601.47,328.9 601.55,316.2 601.63,304.1 601.72,292.4 601.80,281.2 601.88,270.6 601.97,260.5 602.05,251.0 602.13,242.1 602.22,233.8 602.30,226.2 602.38,219.1 602.47,212.7 602.55,206.9 602.63,201.8 602.72,197.4 602.80,193.6 602.89,197.0 602.97,201.0 603.06,205.6 603.15,210.7 603.23,216.5 603.32,222.8 603.41,229.7 603.49,237.1 603.58,245.1 603.67,253.7 603.75,262.7 603.84,272.2 603.93,282.2 604.01,292.7 604.10,303.6 604.19,315.0 604.27,326.7 604.36,338.8 604.45,351.3 604.53,364.0 604.62,377.1 604.71,390.5 604.79,404.1 604.88,417.9 604.97,431.9 605.05,446.0 605.14,460.3 605.23,474.6 605.31,489.0 605.40,503.5 605.48,483.8 605.57,464.1 605.65,444.5 605.73,425.0 605.82,405.7 605.90,386.6 605.98,367.7 606.07,349.2 606.15,330.9 606.23,313.1 606.32,295.6 606.40,278.6 606.48,262.1 606.57,246.0 606.65,230.5 606.73,215.6 606.82,201.3 606.90,187.7 606.98,174.6 607.07,162.3 607.15,150.7 607.23,139.8 607.32,129.6 607.40,120.2 607.48,111.6 607.57,103.7 607.65,96.6 607.73,90.4 607.82,84.9 607.90,80.3 608.00,85.2 608.10,90.9 608.20,97.4 608.30,104.8 608.40,113.0 608.50,122.1 608.60,131.9 608.70,142.5 608.80,154.0 608.90,166.1 609.00,179.1 609.10,192.7 609.20,207.0 609.30,222.0 609.40,237.6 609.50,253.8 609.60,270.6 609.70,287.9 609.80,305.7 609.90,323.9 610.00,342.6 610.10,361.7 610.20,381.2 610.30,400.9 610.40,420.9 610.50,441.1 610.60,461.5 610.70,482.0 610.80,502.6 610.90,523.3 610.98,515.1 611.05,506.8 611.12,498.6 611.20,490.5 611.27,482.5 611.35,474.5 611.42,466.7 611.50,459.0 611.57,451.5 611.65,444.2 611.73,437.0 611.80,430.1 611.88,423.4 611.95,416.9 612.02,410.7 612.10,404.7 612.17,399.0 612.25,393.7 612.33,388.6 612.40,383.9 612.48,379.5 612.55,375.4 612.62,371.7 612.70,368.3 612.77,365.2 612.85,362.6 612.92,360.2 613.00,358.3 613.07,360.3 613.13,362.7 613.20,365.4 613.27,368.5 613.33,371.9 613.40,375.6 613.47,379.7 613.53,384.1 613.60,388.9 613.67,393.9 613.73,399.3 613.80,404.9 613.87,410.9 613.93,417.1 614.00,423.6 614.07,430.3 614.13,437.2 614.20,444.4 614.27,451.8 614.33,459.4 614.40,467.1 614.47,475.1 614.53,483.1 614.60,491.3 614.67,499.6 614.73,508.0 614.80,516.5 614.87,525.0 614.93,533.5 615.00,542.1 615.09,525.0 615.19,507.9 615.28,490.9 615.37,474.0 615.47,457.2 615.56,440.6 615.65,424.3 615.75,408.2 615.84,392.4 615.93,376.9 616.03,361.7 616.12,347.0 616.21,332.6 616.31,318.7 616.40,305.3 616.49,292.3 616.59,279.9 616.68,268.1 616.77,256.8 616.87,246.1 616.96,236.0 617.05,226.5 617.15,217.7 617.24,209.5 617.33,202.0 617.43,195.2 617.52,189.1 617.61,183.7 617.71,178.9 617.80,174.9 617.89,178.9 617.99,183.5 618.08,188.9 618.17,195.0 618.27,201.7 618.36,209.1 618.45,217.2 618.55,225.9 618.64,235.2 618.73,245.2 618.83,255.8 618.92,267.0 619.01,278.7 619.11,291.0 619.20,303.7 619.29,317.0 619.39,330.8 619.48,344.9 619.57,359.5 619.67,374.5 619.76,389.8 619.85,405.4 619.95,421.4 620.04,437.5 620.13,453.9 620.23,470.5 620.32,487.2 620.41,504.0 620.51,520.9 620.60,537.8 620.68,522.4 620.75,507.1 620.83,491.8 620.91,476.7 620.98,461.6 621.06,446.8 621.14,432.1 621.21,417.6 621.29,403.4 621.37,389.5 621.44,375.9 621.52,362.7 621.60,349.8 621.67,337.3 621.75,325.3 621.83,313.7 621.90,302.5 621.98,291.9 622.06,281.8 622.13,272.2 622.21,263.1 622.29,254.6 622.36,246.7 622.44,239.4 622.52,232.6 622.59,226.5 622.67,221.0 622.75,216.2 622.82,211.9 622.90,208.3 622.99,211.6 623.08,215.4 623.17,219.8 623.26,224.8 623.35,230.4 623.44,236.5 623.53,243.1 623.62,250.3 623.71,258.0 623.80,266.2 623.89,275.0 623.98,284.2 624.07,293.8 624.16,303.9 624.25,314.5 624.34,325.4 624.43,336.7 624.52,348.4 624.61,360.4 624.70,372.8 624.79,385.4 624.88,398.3 624.97,411.4 625.06,424.7 625.15,438.2 625.24,451.8 625.33,465.6 625.42,479.4 625.51,493.4 625.60,507.3 625.69,488.6 625.79,470.0 625.88,451.5 625.97,433.1 626.07,414.8 626.16,396.7 626.25,378.9 626.35,361.4 626.44,344.1 626.53,327.3 626.63,310.8 626.72,294.7 626.81,279.0 626.91,263.9 627.00,249.2 627.09,235.2 627.19,221.6 627.28,208.7 627.37,196.4 627.47,184.7 627.56,173.7 627.65,163.4 627.75,153.8 627.84,144.9 627.93,136.7 628.03,129.3 628.12,122.7 628.21,116.7 628.31,111.6 628.40,107.2 628.50,111.7 628.61,117.1 628.71,123.2 628.81,130.1 628.92,137.7 629.02,146.2 629.12,155.4 629.23,165.3 629.33,176.0 629.43,187.3 629.54,199.4 629.64,212.1 629.74,225.5 629.85,239.5 629.95,254.0 630.05,269.2 630.16,284.8 630.26,301.0 630.36,317.6 630.47,334.7 630.57,352.1 630.67,370.0 630.78,388.1 630.88,406.5 630.98,425.2 631.09,444.1 631.19,463.1 631.29,482.3 631.40,501.5 631.50,520.8 631.62,512.8 631.74,504.9 631.86,497.1 631.98,489.5 632.10,482.2 632.22,475.3 632.34,468.7 632.46,462.5 632.58,456.8 632.70,451.7 632.82,447.1 632.94,443.2 633.06,439.8 633.18,437.1 633.30,435.1 633.38,437.1 633.45,439.5 633.53,442.3 633.61,445.6 633.69,449.3 633.76,453.5 633.84,458.0 633.92,463.0 634.00,468.3 634.07,474.0 634.15,480.1 634.23,486.4 634.30,493.1 634.38,500.0 634.46,507.2 634.54,514.6 634.61,522.2 634.69,529.9 634.77,537.8 634.85,545.7 634.92,553.7 635.00,561.8 635.11,546.1 635.22,530.3 635.33,514.7 635.44,499.1 635.55,483.7 635.66,468.5 635.77,453.4 635.88,438.6 635.99,424.1 636.10,409.8 636.21,395.9 636.32,382.3 636.43,369.1 636.54,356.3 636.65,344.0 636.76,332.1 636.87,320.7 636.98,309.8 637.09,299.4 637.20,289.5 637.31,280.3 637.42,271.6 637.53,263.4 637.64,255.9 637.75,249.0 637.86,242.8 637.97,237.1 638.08,232.1 638.19,227.8 638.30,224.1 638.36,226.1 638.42,228.8 638.48,232.1 638.54,236.0 638.60,240.6 638.66,245.6 638.72,251.3 638.78,257.3 638.84,263.9 638.90,270.8 638.96,278.0 639.02,285.5 639.08,293.2 639.14,301.1 639.20,309.0" fill="none" stroke="#2230d0" stroke-width="1.4" stroke-linejoin="miter" stroke-miterlimit="10"/><g stroke="#2b3a40" stroke-width="1.25" fill="none" style="mix-blend-mode:multiply"><line x1="57.5" y1="4.85" x2="639.3" y2="4.85" stroke-width="1.6"/><line x1="57.5" y1="87.40" x2="639.3" y2="87.40"/><line x1="57.5" y1="169.65" x2="639.3" y2="169.65"/><line x1="57.5" y1="251.60" x2="639.3" y2="251.60"/><line x1="57.5" y1="334.20" x2="639.3" y2="334.20"/><line x1="57.5" y1="416.70" x2="639.3" y2="416.70"/><line x1="57.5" y1="498.60" x2="639.3" y2="498.60"/><line x1="57.5" y1="580.80" x2="639.3" y2="580.80" stroke-width="1.6"/><line x1="65.3" y1="4.8" x2="65.3" y2="588"/><line x1="124.7" y1="4.8" x2="124.7" y2="588"/><line x1="184.1" y1="4.8" x2="184.1" y2="588"/><line x1="243.5" y1="4.8" x2="243.5" y2="588"/><line x1="302.8" y1="4.8" x2="302.8" y2="588"/><line x1="362.2" y1="4.8" x2="362.2" y2="588"/><line x1="421.6" y1="4.8" x2="421.6" y2="588"/><line x1="480.9" y1="4.8" x2="480.9" y2="588"/><line x1="540.3" y1="4.8" x2="540.3" y2="588"/><line x1="599.7" y1="4.8" x2="599.7" y2="588"/></g><text x="21.4" y="10.2" textLength="29.0" lengthAdjust="spacingAndGlyphs" class="yl">0.014</text><text x="21.4" y="92.8" textLength="29.0" lengthAdjust="spacingAndGlyphs" class="yl">0.012</text><text x="27.8" y="175.1" textLength="22.6" lengthAdjust="spacingAndGlyphs" class="yl">0.01</text><text x="21.4" y="257.0" textLength="29.0" lengthAdjust="spacingAndGlyphs" class="yl">0.008</text><text x="21.4" y="339.6" textLength="29.0" lengthAdjust="spacingAndGlyphs" class="yl">0.006</text><text x="21.4" y="422.1" textLength="29.0" lengthAdjust="spacingAndGlyphs" class="yl">0.004</text><text x="21.4" y="504.0" textLength="29.0" lengthAdjust="spacingAndGlyphs" class="yl">0.002</text><text x="43.9" y="586.2" textLength="6.5" lengthAdjust="spacingAndGlyphs" class="yl">0</text><text x="41.3" y="604.0" textLength="53.4" lengthAdjust="spacingAndGlyphs" class="xl">12/02/00</text><text x="157.6" y="604.0" textLength="53.4" lengthAdjust="spacingAndGlyphs" class="xl">18/02/00</text><text x="275.2" y="604.0" textLength="53.4" lengthAdjust="spacingAndGlyphs" class="xl">24/02/00</text><text x="392.9" y="604.0" textLength="53.4" lengthAdjust="spacingAndGlyphs" class="xl">01/03/00</text><text x="514.1" y="604.0" textLength="53.4" lengthAdjust="spacingAndGlyphs" class="xl">07/03/00</text><text transform="translate(8.8,356.8) rotate(-90)" textLength="132.3" lengthAdjust="spacing" class="tt">Velocity Magnitude (m/s)</text><text x="276.8" y="628.9" textLength="94.5" lengthAdjust="spacing" class="tt">Date (DD/MM/YY)</text>
<polyline points="765.00,580.0 765.01,565.6 765.03,551.3 765.04,537.0 765.05,522.9 765.07,508.8 765.08,494.9 765.09,481.2 765.11,467.7 765.12,454.4 765.13,441.4 765.15,428.7 765.16,416.3 765.17,404.3 765.19,392.6 765.20,381.3 765.21,370.5 765.23,360.1 765.24,350.1 765.25,340.7 765.27,331.7 765.28,323.2 765.29,315.3 765.31,307.9 765.32,301.0 765.33,294.7 765.35,289.0 765.36,283.9 765.37,279.3 765.39,275.4 765.40,272.0 765.44,275.0 765.47,278.5 765.51,282.5 765.55,287.1 765.58,292.2 765.62,297.7 765.66,303.8 765.69,310.4 765.73,317.4 765.77,324.9 765.80,332.9 765.84,341.3 765.88,350.1 765.91,359.3 765.95,368.9 765.99,378.9 766.02,389.2 766.06,399.9 766.10,410.9 766.13,422.1 766.17,433.7 766.21,445.4 766.24,457.4 766.28,469.6 766.32,481.9 766.35,494.3 766.39,506.9 766.43,519.6 766.46,532.3 766.50,545.0 766.54,528.6 766.57,512.2 766.61,495.9 766.65,479.7 766.68,463.6 766.72,447.7 766.76,432.1 766.79,416.6 766.83,401.5 766.87,386.6 766.90,372.1 766.94,357.9 766.98,344.2 767.01,330.8 767.05,318.0 767.09,305.6 767.12,293.7 767.16,282.3 767.20,271.5 767.23,261.2 767.27,251.5 767.31,242.5 767.34,234.0 767.38,226.2 767.42,219.0 767.45,212.5 767.49,206.6 767.53,201.4 767.56,196.9 767.60,193.0 767.64,195.0 767.67,197.6 767.71,200.7 767.74,204.4 767.78,208.7 767.81,213.4 767.85,218.7 767.88,224.4 767.92,230.6 767.95,237.1 767.99,244.0 768.02,251.2 768.06,258.6 768.09,266.3 768.13,274.1 768.16,282.0 768.20,290.0 768.22,279.7 768.25,269.5 768.27,259.2 768.29,249.1 768.32,239.0 768.34,229.1 768.36,219.3 768.39,209.6 768.41,200.1 768.43,190.8 768.46,181.7 768.48,172.8 768.50,164.2 768.53,155.8 768.55,147.8 768.57,140.0 768.60,132.6 768.62,125.4 768.64,118.7 768.67,112.2 768.69,106.2 768.71,100.5 768.74,95.2 768.76,90.3 768.78,85.8 768.81,81.7 768.83,78.0 768.85,74.8 768.88,71.9 768.90,69.5 768.93,72.0 768.96,75.0 768.99,78.4 769.02,82.2 769.05,86.5 769.08,91.2 769.11,96.4 769.14,101.9 769.17,107.8 769.20,114.2 769.23,120.9 769.26,128.0 769.29,135.4 769.32,143.2 769.35,151.3 769.38,159.8 769.41,168.5 769.44,177.5 769.47,186.8 769.50,196.3 769.53,206.0 769.56,215.9 769.59,226.0 769.62,236.3 769.65,246.7 769.68,257.2 769.71,267.8 769.74,278.5 769.77,289.3 769.80,300.0 769.84,291.8 769.88,283.6 769.93,275.5 769.97,267.4 770.01,259.4 770.05,251.6 770.10,243.9 770.14,236.3 770.18,228.9 770.22,221.8 770.27,214.8 770.31,208.1 770.35,201.6 770.39,195.5 770.43,189.6 770.48,184.0 770.52,178.7 770.56,173.8 770.60,169.2 770.65,165.0 770.69,161.1 770.73,157.6 770.77,154.5 770.82,151.8 770.86,149.5 770.90,147.5 770.93,150.6 770.97,154.3 771.00,158.5 771.03,163.2 771.07,168.5 771.10,174.3 771.13,180.6 771.17,187.5 771.20,194.8 771.23,202.6 771.27,210.9 771.30,219.7 771.33,228.9 771.37,238.5 771.40,248.5 771.43,258.9 771.47,269.7 771.50,280.8 771.53,292.2 771.57,304.0 771.60,316.0 771.63,328.2 771.67,340.7 771.70,353.4 771.73,366.2 771.77,379.2 771.80,392.3 771.83,405.5 771.87,418.7 771.90,432.0 771.98,423.7 772.05,415.5 772.12,407.3 772.20,399.2 772.27,391.1 772.35,383.2 772.42,375.4 772.50,367.7 772.57,360.1 772.65,352.8 772.73,345.6 772.80,338.7 772.88,331.9 772.95,325.5 773.02,319.2 773.10,313.3 773.17,307.6 773.25,302.2 773.33,297.2 773.40,292.4 773.48,288.0 773.55,283.9 773.62,280.2 773.70,276.8 773.77,273.7 773.85,271.1 773.92,268.8 774.00,266.8 774.12,269.0 774.25,272.3 774.38,276.8 774.50,282.1 774.62,288.3 774.75,295.2 774.88,302.5 775.00,310.0 775.05,318.4 775.11,326.8 775.16,335.2 775.21,343.7 775.27,352.1 775.32,360.5 775.37,368.9 775.43,377.3 775.48,385.7 775.53,394.1 775.59,402.5 775.64,411.0 775.69,419.4 775.75,427.8 775.80,436.2 775.85,444.6 775.91,453.0 775.96,461.4 776.01,469.9 776.07,478.3 776.12,486.7 776.17,495.1 776.23,503.5 776.28,511.9 776.33,520.3 776.39,528.7 776.44,537.2 776.49,545.6 776.55,554.0 776.60,562.4 776.65,554.1 776.69,545.9 776.74,537.8 776.79,529.8 776.84,521.9 776.88,514.3 776.93,506.9 776.98,499.9 777.03,493.1 777.07,486.8 777.12,480.8 777.17,475.2 777.22,470.1 777.26,465.5 777.31,461.4 777.36,457.7 777.41,454.6 777.45,452.0 777.50,450.0 777.56,452.2 777.63,455.4 777.69,459.4 777.75,464.3 777.82,470.0 777.88,476.3 777.95,483.3 778.01,490.8 778.07,498.6 778.14,506.8 778.20,515.0 778.25,506.9 778.29,498.9 778.34,490.9 778.38,482.9 778.43,475.1 778.48,467.4 778.52,459.9 778.57,452.6 778.61,445.5 778.66,438.6 778.70,431.9 778.75,425.5 778.80,419.5 778.84,413.7 778.89,408.3 778.93,403.2 778.98,398.4 779.02,394.1 779.07,390.1 779.12,386.5 779.16,383.4 779.21,380.6 779.25,378.2 779.30,376.3 779.36,378.4 779.41,381.1 779.47,384.4 779.52,388.3 779.58,392.8 779.64,397.9 779.69,403.5 779.75,409.6 779.81,416.1 779.86,423.0 779.92,430.3 779.98,437.9 780.03,445.7 780.09,453.7 780.14,461.8 780.20,470.0 780.37,464.6 780.53,460.3 780.70,458.0 780.75,460.1 780.80,462.8 780.85,466.2 780.90,470.3 780.95,475.0 781.00,480.4 781.05,486.2 781.10,492.6 781.15,499.4 781.20,506.5 781.25,514.0 781.30,521.7 781.35,529.6 781.40,537.5 781.49,528.4 781.57,519.2 781.66,510.1 781.75,501.1 781.83,492.2 781.92,483.3 782.01,474.6 782.09,466.0 782.18,457.5 782.27,449.3 782.35,441.2 782.44,433.3 782.53,425.6 782.61,418.2 782.70,411.0 782.79,404.1 782.87,397.5 782.96,391.1 783.05,385.1 783.13,379.4 783.22,374.0 783.31,369.0 783.39,364.2 783.48,359.9 783.57,355.9 783.65,352.2 783.74,349.0 783.83,346.1 783.91,343.5 784.00,341.4 784.06,343.7 784.11,346.4 784.17,349.5 784.23,353.0 784.28,356.8 784.34,361.1 784.40,365.8 784.45,370.8 784.51,376.2 784.57,381.9 784.62,388.0 784.68,394.4 784.74,401.2 784.79,408.3 784.85,415.6 784.91,423.3 784.96,431.2 785.02,439.4 785.08,447.8 785.13,456.4 785.19,465.2 785.25,474.2 785.30,483.4 785.36,492.7 785.42,502.2 785.47,511.7 785.53,521.3 785.59,531.0 785.64,540.7 785.70,550.5 785.82,539.4 785.93,528.2 786.05,517.0 786.17,505.9 786.28,494.8 786.40,483.6 786.52,472.4 786.63,461.3 786.75,450.1 786.87,439.0 786.98,427.9 787.10,416.7 787.22,405.5 787.33,394.4 787.45,383.2 787.57,372.1 787.68,361.0 787.80,349.8 787.92,338.6 788.03,327.5 788.15,316.4 788.27,305.2 788.38,294.0 788.50,282.9 788.62,271.8 788.73,260.6 788.85,249.4 788.97,238.3 789.08,227.1 789.20,216.0 789.33,209.8 789.45,204.3 789.58,200.1 789.70,197.8 789.78,200.1 789.85,203.6 789.92,208.1 790.00,213.7 790.08,220.2 790.15,227.3 790.22,234.9 790.30,242.7 790.38,249.3 790.47,256.0 790.55,262.6 790.63,269.3 790.72,275.9 790.80,282.6 790.88,289.2 790.97,295.8 791.05,302.5 791.13,309.1 791.22,315.8 791.30,322.4 791.38,329.1 791.47,335.7 791.55,342.4 791.63,349.0 791.72,355.6 791.80,362.3 791.88,368.9 791.97,375.6 792.05,382.2 792.13,388.9 792.22,395.5 792.30,402.1 792.38,408.8 792.47,415.4 792.55,422.1 792.63,428.7 792.72,435.4 792.80,442.0 792.94,434.1 793.07,426.2 793.21,418.4 793.35,410.8 793.49,403.4 793.62,396.4 793.76,389.6 793.90,383.3 794.04,377.4 794.17,372.0 794.31,367.1 794.45,362.7 794.59,358.9 794.73,355.6 794.86,353.0 795.00,351.0 795.09,353.2 795.17,356.7 795.26,361.4 795.34,367.1 795.43,373.6 795.51,380.7 795.60,388.0 795.73,393.9 795.87,399.7 796.00,405.6 796.13,411.4 796.27,417.3 796.40,423.1 796.53,429.0 796.67,434.9 796.80,440.7 796.93,446.6 797.07,452.4 797.20,458.3 797.33,464.1 797.47,470.0 797.60,475.9 797.73,481.7 797.87,487.6 798.00,493.4 798.13,499.3 798.27,505.1 798.40,511.0 798.50,516.8 798.60,522.7 798.70,528.5 798.80,534.4 798.90,540.2 799.00,546.0 799.10,551.9 799.20,557.7 799.31,550.2 799.43,543.0 799.54,536.4 799.66,530.6 799.77,525.8 799.89,522.3 800.00,520.0 800.15,522.6 800.30,527.1 800.45,533.1 800.60,540.0 800.79,531.9 800.98,523.8 801.17,515.8 801.36,508.0 801.55,500.3 801.74,492.8 801.93,485.6 802.12,478.6 802.31,472.0 802.49,465.8 802.68,459.9 802.87,454.5 803.06,449.5 803.25,444.9 803.44,440.8 803.63,437.3 803.82,434.2 804.01,431.7 804.20,429.7 804.28,431.7 804.35,434.2 804.43,437.2 804.51,440.6 804.59,444.5 804.66,448.8 804.74,453.5 804.82,458.7 804.90,464.2 804.97,470.1 805.05,476.4 805.13,483.0 805.20,489.9 805.28,497.1 805.36,504.5 805.44,512.2 805.51,520.1 805.59,528.1 805.67,536.3 805.75,544.5 805.82,552.8 805.90,561.2 806.04,547.5 806.17,533.8 806.31,520.2 806.45,506.6 806.58,493.2 806.72,479.9 806.86,466.8 806.99,453.9 807.13,441.2 807.27,428.8 807.40,416.7 807.54,404.8 807.68,393.4 807.81,382.2 807.95,371.4 808.09,361.1 808.22,351.1 808.36,341.6 808.50,332.6 808.63,324.0 808.77,315.9 808.91,308.3 809.04,301.3 809.18,294.7 809.32,288.7 809.45,283.3 809.59,278.4 809.73,274.0 809.86,270.2 810.00,267.0 810.11,269.3 810.23,272.9 810.34,277.7 810.46,283.5 810.57,290.2 810.69,297.5 810.80,305.0 810.88,310.8 810.96,316.6 811.04,322.4 811.12,328.2 811.20,334.0 811.28,339.8 811.36,345.6 811.44,351.4 811.52,357.2 811.60,363.0 811.68,368.8 811.76,374.6 811.84,380.4 811.92,386.2 812.00,392.0 812.08,397.8 812.16,403.6 812.24,409.4 812.32,415.2 812.40,421.0 812.48,426.8 812.56,432.6 812.64,438.4 812.72,444.2 812.80,450.0 813.05,441.8 813.30,433.7 813.55,425.8 813.80,418.1 814.05,410.7 814.30,403.7 814.55,397.1 814.80,391.1 815.05,385.6 815.30,380.7 815.55,376.5 815.80,373.0 816.05,370.1 816.30,368.0 816.47,370.1 816.63,372.5 816.80,375.3 816.97,378.4 817.13,381.9 817.30,385.8 817.47,390.0 817.63,394.5 817.80,399.3 817.97,404.5 818.13,410.0 818.30,415.8 818.47,421.9 818.63,428.3 818.80,434.9 818.97,441.8 819.13,449.0 819.30,456.3 819.47,463.9 819.63,471.7 819.80,479.6 819.97,487.8 820.13,496.0 820.30,504.4 820.47,512.9 820.63,521.5 820.80,530.2 820.97,538.9 821.13,547.7 821.30,556.5 821.61,549.3 821.93,542.3 822.24,535.9 822.56,530.3 822.87,525.7 823.19,522.2 823.50,520.0 823.83,522.2 824.15,525.6 824.48,530.0 824.80,535.5 825.12,541.7 825.45,548.7 825.77,556.0 826.10,563.6 826.25,550.8 826.39,538.1 826.54,525.4 826.69,512.8 826.83,500.3 826.98,487.9 827.13,475.7 827.27,463.7 827.42,451.9 827.57,440.3 827.71,429.0 827.86,418.0 828.01,407.3 828.15,396.9 828.30,386.9 828.45,377.2 828.59,368.0 828.74,359.1 828.89,350.7 829.03,342.7 829.18,335.2 829.33,328.1 829.47,321.5 829.62,315.4 829.77,309.8 829.91,304.8 830.06,300.2 830.21,296.1 830.35,292.6 830.50,289.6 830.61,291.6 830.73,293.9 830.84,296.5 830.96,299.5 831.07,302.9 831.18,306.6 831.30,310.6 831.41,315.0 831.52,319.7 831.64,324.6 831.75,329.9 831.87,335.5 831.98,341.4 832.09,347.5 832.21,353.9 832.32,360.6 832.43,367.4 832.55,374.5 832.66,381.8 832.78,389.2 832.89,396.9 833.00,404.6 833.12,412.6 833.23,420.6 833.34,428.7 833.46,436.9 833.57,445.1 833.69,453.4 833.80,461.7 833.93,453.5 834.06,445.3 834.19,437.2 834.32,429.2 834.45,421.3 834.58,413.6 834.71,406.0 834.84,398.6 834.97,391.5 835.10,384.6 835.23,378.0 835.37,371.6 835.50,365.6 835.63,360.0 835.76,354.7 835.89,349.8 836.02,345.3 836.15,341.1 836.28,337.4 836.41,334.1 836.54,331.3 836.67,328.9 836.80,326.9 836.95,328.9 837.09,331.3 837.24,334.2 837.38,337.5 837.53,341.2 837.67,345.3 837.82,349.8 837.97,354.6 838.11,359.9 838.26,365.5 838.40,371.4 838.55,377.7 838.70,384.3 838.84,391.1 838.99,398.2 839.13,405.6 839.28,413.2 839.42,420.9 839.57,428.9 839.72,436.9 839.86,445.1 840.01,453.3 840.15,461.7 840.30,470.0 840.43,475.7 840.55,481.3 840.68,487.0 840.81,492.7 840.93,498.3 841.06,504.0 841.19,509.7 841.31,515.3 841.44,521.0 841.57,526.7 841.69,532.3 841.82,538.0 841.95,543.7 842.07,549.3 842.20,555.0 843.05,557.8 843.90,560.6 844.30,552.4 844.70,544.9 845.10,538.5 845.50,533.8 845.90,531.0 846.16,533.5 846.42,537.6 846.68,543.2 846.94,549.8 847.20,557.0 847.35,543.4 847.51,529.9 847.66,516.4 847.81,503.0 847.97,489.7 848.12,476.6 848.27,463.6 848.43,450.9 848.58,438.3 848.73,426.1 848.89,414.0 849.04,402.3 849.19,391.0 849.35,380.0 849.50,369.3 849.65,359.1 849.81,349.2 849.96,339.8 850.11,330.9 850.27,322.4 850.42,314.4 850.57,306.9 850.73,299.9 850.88,293.4 851.03,287.5 851.19,282.1 851.34,277.2 851.49,272.9 851.65,269.2 851.80,266.0 851.89,268.1 851.99,270.6 852.08,273.4 852.17,276.6 852.27,280.2 852.36,284.1 852.45,288.4 852.55,293.0 852.64,297.9 852.73,303.2 852.83,308.8 852.92,314.7 853.01,320.9 853.11,327.4 853.20,334.1 853.29,341.1 853.39,348.4 853.48,355.9 853.57,363.6 853.67,371.5 853.76,379.6 853.85,387.9 853.95,396.3 854.04,404.9 854.13,413.5 854.23,422.3 854.32,431.1 854.41,440.0 854.51,449.0 854.60,457.9 854.71,448.8 854.82,439.6 854.93,430.5 855.04,421.5 855.15,412.5 855.26,403.7 855.37,394.9 855.48,386.3 855.59,377.9 855.70,369.6 855.81,361.5 855.92,353.6 856.03,346.0 856.14,338.5 856.25,331.4 856.36,324.4 856.47,317.8 856.58,311.5 856.69,305.4 856.80,299.7 856.91,294.3 857.02,289.3 857.13,284.6 857.24,280.2 857.35,276.2 857.46,272.5 857.57,269.3 857.68,266.4 857.79,263.9 857.90,261.7 858.00,264.6 858.10,268.1 858.20,272.0 858.30,276.5 858.40,281.4 858.50,286.9 858.60,292.8 858.70,299.2 858.80,306.1 858.90,313.5 859.00,321.3 859.10,329.5 859.20,338.1 859.30,347.2 859.40,356.6 859.50,366.3 859.60,376.5 859.70,386.9 859.80,397.6 859.90,408.7 860.00,419.9 860.10,431.4 860.20,443.2 860.30,455.1 860.40,467.1 860.50,479.3 860.60,491.6 860.70,504.0 860.80,516.4 860.90,528.9 861.13,521.6 861.36,514.5 861.59,508.1 861.81,502.4 862.04,497.7 862.27,494.2 862.50,492.0 862.69,494.0 862.88,496.8 863.08,500.3 863.27,504.5 863.46,509.3 863.65,514.8 863.85,520.8 864.04,527.3 864.23,534.2 864.42,541.4 864.62,548.9 864.81,556.6 865.00,564.4 865.15,556.5 865.30,548.7 865.45,541.1 865.60,533.8 865.75,526.9 865.90,520.5 866.05,514.7 866.20,509.6 866.35,505.1 866.50,501.4 866.65,498.5 866.80,496.4 867.04,498.9 867.29,502.8 867.53,508.0 867.77,514.4 868.01,521.7 868.26,529.6 868.50,537.8 868.62,522.7 868.74,507.7 868.86,492.7 868.98,477.8 869.10,463.0 869.22,448.4 869.34,434.0 869.46,419.8 869.58,405.9 869.70,392.2 869.82,378.9 869.94,365.9 870.06,353.2 870.18,341.0 870.30,329.2 870.42,317.8 870.54,306.8 870.66,296.4 870.78,286.4 870.90,277.0 871.02,268.1 871.14,259.8 871.26,252.0 871.38,244.8 871.50,238.2 871.62,232.2 871.74,226.8 871.86,222.0 871.98,217.8 872.10,214.3 872.20,216.9 872.30,219.9 872.40,223.4 872.50,227.3 872.60,231.7 872.70,236.5 872.80,241.7 872.90,247.4 873.00,253.5 873.10,259.9 873.20,266.8 873.30,274.0 873.40,281.7 873.50,289.6 873.60,297.9 873.70,306.5 873.80,315.4 873.90,324.6 874.00,334.1 874.10,343.8 874.20,353.8 874.30,363.9 874.40,374.2 874.50,384.7 874.60,395.4 874.70,406.1 874.80,416.9 874.90,427.9 875.00,438.8 875.10,449.8 875.18,438.7 875.27,427.6 875.35,416.6 875.43,405.6 875.52,394.7 875.60,384.0 875.68,373.3 875.77,362.9 875.85,352.6 875.93,342.6 876.02,332.7 876.10,323.2 876.18,313.8 876.27,304.8 876.35,296.1 876.43,287.7 876.52,279.7 876.60,272.0 876.68,264.6 876.77,257.7 876.85,251.1 876.93,245.0 877.02,239.3 877.10,234.0 877.18,229.1 877.27,224.7 877.35,220.7 877.43,217.2 877.52,214.1 877.60,211.5 877.69,214.6 877.77,218.3 877.86,222.6 877.95,227.4 878.03,232.7 878.12,238.6 878.21,244.9 878.29,251.8 878.38,259.2 878.47,267.1 878.55,275.5 878.64,284.3 878.73,293.6 878.81,303.3 878.90,313.4 878.99,323.9 879.07,334.8 879.16,346.0 879.25,357.5 879.33,369.4 879.42,381.5 879.51,393.8 879.59,406.4 879.68,419.2 879.77,432.2 879.85,445.3 879.94,458.5 880.03,471.8 880.11,485.1 880.20,498.5 880.37,490.2 880.53,482.0 880.70,474.0 880.87,466.3 881.03,459.1 881.20,452.4 881.37,446.3 881.53,440.9 881.70,436.2 881.87,432.3 882.03,429.2 882.20,427.0 882.29,428.9 882.38,431.2 882.47,433.9 882.55,437.0 882.64,440.4 882.73,444.2 882.82,448.4 882.91,452.9 883.00,457.7 883.08,462.9 883.17,468.4 883.26,474.2 883.35,480.3 883.44,486.6 883.53,493.2 883.62,500.0 883.70,507.1 883.79,514.4 883.88,521.8 883.97,529.4 884.06,537.1 884.15,544.9 884.23,552.9 884.32,560.9 884.41,568.9 884.50,577.0 884.59,568.8 884.68,560.5 884.78,552.4 884.87,544.3 884.96,536.3 885.05,528.4 885.14,520.7 885.24,513.1 885.33,505.8 885.42,498.7 885.51,491.8 885.60,485.1 885.70,478.8 885.79,472.7 885.88,467.0 885.97,461.6 886.06,456.5 886.16,451.8 886.25,447.5 886.34,443.5 886.43,439.9 886.52,436.7 886.62,434.0 886.71,431.6 886.80,429.6 886.93,431.7 887.07,434.4 887.20,437.8 887.33,441.8 887.47,446.4 887.60,451.6 887.73,457.3 887.87,463.5 888.00,470.2 888.13,477.2 888.27,484.6 888.40,492.3 888.53,500.1 888.67,508.1 888.80,516.2 888.90,499.7 889.01,483.1 889.11,466.7 889.21,450.4 889.32,434.2 889.42,418.2 889.52,402.4 889.63,386.8 889.73,371.5 889.83,356.5 889.94,341.9 890.04,327.6 890.14,313.8 890.25,300.3 890.35,287.4 890.45,274.9 890.56,262.9 890.66,251.4 890.76,240.5 890.87,230.2 890.97,220.4 891.07,211.3 891.18,202.7 891.28,194.8 891.38,187.6 891.49,181.0 891.59,175.1 891.69,169.9 891.80,165.3 891.90,161.4 891.99,164.5 892.09,168.1 892.18,172.3 892.27,177.0 892.37,182.3 892.46,188.0 892.55,194.3 892.65,201.1 892.74,208.4 892.83,216.2 892.93,224.4 893.02,233.1 893.11,242.2 893.21,251.8 893.30,261.7 893.39,272.1 893.49,282.8 893.58,293.8 893.67,305.2 893.77,316.8 893.86,328.8 893.95,340.9 894.05,353.3 894.14,365.9 894.23,378.7 894.33,391.6 894.42,404.6 894.51,417.7 894.61,430.8 894.70,444.0 894.80,431.2 894.90,418.5 895.00,405.8 895.10,393.2 895.20,380.7 895.30,368.4 895.40,356.2 895.50,344.2 895.60,332.4 895.70,320.8 895.80,309.5 895.90,298.5 896.00,287.8 896.10,277.5 896.20,267.5 896.30,257.8 896.40,248.6 896.50,239.7 896.60,231.3 896.70,223.3 896.80,215.8 896.90,208.8 897.00,202.2 897.10,196.1 897.20,190.5 897.30,185.4 897.40,180.9 897.50,176.8 897.60,173.3 897.70,170.3 897.79,173.7 897.89,177.7 897.98,182.3 898.07,187.5 898.17,193.3 898.26,199.7 898.35,206.6 898.45,214.1 898.54,222.1 898.63,230.7 898.73,239.8 898.82,249.4 898.91,259.4 899.01,270.0 899.10,281.0 899.19,292.4 899.29,304.2 899.38,316.3 899.47,328.9 899.57,341.7 899.66,354.9 899.75,368.3 899.85,382.0 899.94,395.9 900.03,409.9 900.13,424.2 900.22,438.5 900.31,453.0 900.41,467.5 900.50,482.0 900.61,473.8 900.72,465.7 900.83,457.6 900.94,449.7 901.05,441.9 901.16,434.3 901.27,426.9 901.38,419.8 901.49,413.0 901.60,406.5 901.71,400.4 901.82,394.7 901.93,389.4 902.04,384.5 902.15,380.0 902.26,376.0 902.37,372.5 902.48,369.5 902.59,367.0 902.70,365.0 902.77,367.2 902.84,369.8 902.91,372.8 902.98,376.2 903.05,380.0 903.12,384.2 903.19,388.7 903.26,393.6 903.33,398.8 903.40,404.4 903.47,410.3 903.54,416.5 903.61,423.1 903.68,430.0 903.75,437.1 903.82,444.6 903.89,452.3 903.96,460.2 904.03,468.4 904.10,476.8 904.17,485.3 904.24,494.1 904.31,503.0 904.38,512.1 904.45,521.2 904.52,530.5 904.59,539.9 904.66,549.3 904.73,558.7 904.80,568.2 904.88,558.2 904.95,548.3 905.03,538.4 905.11,528.6 905.18,518.8 905.26,509.2 905.34,499.6 905.41,490.3 905.49,481.1 905.57,472.0 905.64,463.2 905.72,454.6 905.80,446.3 905.87,438.2 905.95,430.4 906.03,422.8 906.10,415.6 906.18,408.7 906.26,402.1 906.33,395.9 906.41,390.0 906.49,384.5 906.56,379.4 906.64,374.6 906.72,370.3 906.79,366.3 906.87,362.8 906.95,359.6 907.02,356.8 907.10,354.5 907.18,356.5 907.27,358.9 907.35,361.8 907.43,365.1 907.52,368.8 907.60,372.9 907.68,377.4 907.77,382.3 907.85,387.6 907.93,393.2 908.02,399.2 908.10,405.4 908.18,412.0 908.27,418.9 908.35,426.0 908.43,433.4 908.52,441.0 908.60,448.8 908.68,456.7 908.77,464.8 908.85,473.0 908.93,481.3 909.02,489.6 909.10,498.0 909.20,480.4 909.31,462.8 909.41,445.3 909.51,427.9 909.62,410.6 909.72,393.6 909.82,376.7 909.93,360.2 910.03,343.9 910.13,327.9 910.24,312.4 910.34,297.2 910.44,282.4 910.55,268.1 910.65,254.3 910.75,241.0 910.86,228.2 910.96,216.0 911.06,204.3 911.17,193.3 911.27,182.9 911.37,173.2 911.48,164.1 911.58,155.7 911.68,148.0 911.79,141.0 911.89,134.7 911.99,129.1 912.10,124.2 912.20,120.1 912.29,123.7 912.39,128.0 912.48,132.9 912.57,138.4 912.67,144.5 912.76,151.2 912.85,158.6 912.95,166.5 913.04,175.0 913.13,184.1 913.23,193.7 913.32,203.9 913.41,214.5 913.51,225.7 913.60,237.3 913.69,249.4 913.79,261.9 913.88,274.8 913.97,288.1 914.07,301.7 914.16,315.6 914.25,329.9 914.35,344.4 914.44,359.1 914.53,374.0 914.63,389.0 914.72,404.2 914.81,419.5 914.91,434.9 915.00,450.3 915.09,435.8 915.19,421.4 915.28,407.0 915.37,392.7 915.47,378.5 915.56,364.5 915.65,350.7 915.75,337.1 915.84,323.7 915.93,310.6 916.03,297.8 916.12,285.3 916.21,273.2 916.31,261.5 916.40,250.1 916.49,239.2 916.59,228.7 916.68,218.6 916.77,209.1 916.87,200.1 916.96,191.5 917.05,183.5 917.15,176.1 917.24,169.2 917.33,162.8 917.43,157.1 917.52,151.9 917.61,147.3 917.71,143.3 917.80,139.9 917.89,143.5 917.98,147.8 918.07,152.7 918.16,158.2 918.25,164.3 918.34,171.1 918.43,178.4 918.52,186.4 918.61,194.9 918.70,204.0 918.79,213.6 918.88,223.8 918.97,234.5 919.06,245.7 919.15,257.3 919.24,269.4 919.33,281.9 919.42,294.8 919.51,308.1 919.60,321.8 919.69,335.7 919.78,350.0 919.87,364.5 919.96,379.2 920.05,394.2 920.14,409.2 920.23,424.5 920.32,439.8 920.41,455.2 920.50,470.6 920.57,462.4 920.64,454.3 920.72,446.2 920.79,438.1 920.86,430.2 920.93,422.3 921.01,414.5 921.08,406.9 921.15,399.4 921.22,392.0 921.30,384.9 921.37,377.9 921.44,371.2 921.51,364.6 921.59,358.4 921.66,352.3 921.73,346.6 921.80,341.1 921.88,335.9 921.95,330.9 922.02,326.3 922.09,322.1 922.17,318.1 922.24,314.5 922.31,311.2 922.38,308.2 922.46,305.6 922.53,303.3 922.60,301.4 922.68,304.2 922.77,307.5 922.85,311.4 922.93,315.7 923.02,320.4 923.10,325.7 923.18,331.4 923.27,337.6 923.35,344.3 923.43,351.4 923.52,358.9 923.60,366.8 923.68,375.2 923.77,383.9 923.85,393.0 923.93,402.4 924.02,412.2 924.10,422.2 924.18,432.6 924.27,443.2 924.35,454.1 924.43,465.2 924.52,476.6 924.60,488.0 924.68,499.7 924.77,511.4 924.85,523.3 924.93,535.3 925.02,547.3 925.10,559.3 925.16,546.3 925.22,533.3 925.28,520.4 925.34,507.6 925.40,494.9 925.46,482.3 925.52,469.9 925.58,457.7 925.64,445.6 925.70,433.9 925.76,422.4 925.82,411.2 925.88,400.3 925.94,389.7 926.00,379.5 926.06,369.7 926.12,360.3 926.18,351.3 926.24,342.7 926.30,334.6 926.36,326.9 926.42,319.8 926.48,313.1 926.54,306.9 926.60,301.2 926.66,296.0 926.72,291.4 926.78,287.2 926.84,283.7 926.90,280.6 926.98,282.8 927.07,285.3 927.15,288.3 927.23,291.6 927.32,295.2 927.40,299.3 927.48,303.7 927.57,308.4 927.65,313.5 927.73,319.0 927.82,324.8 927.90,330.9 927.98,337.3 928.07,344.0 928.15,350.9 928.23,358.2 928.32,365.7 928.40,373.4 928.48,381.4 928.57,389.6 928.65,397.9 928.73,406.4 928.82,415.1 928.90,424.0 928.98,432.9 929.07,441.9 929.15,451.1 929.23,460.2 929.32,469.5 929.40,478.7 929.49,461.0 929.59,443.4 929.68,425.8 929.77,408.3 929.87,391.0 929.96,373.9 930.05,357.0 930.15,340.3 930.24,324.0 930.33,308.0 930.43,292.3 930.52,277.1 930.61,262.2 930.71,247.9 930.80,234.0 930.89,220.6 930.99,207.8 931.08,195.5 931.17,183.9 931.27,172.8 931.36,162.4 931.45,152.6 931.55,143.5 931.64,135.1 931.73,127.3 931.83,120.3 931.92,114.0 932.01,108.3 932.11,103.5 932.20,99.3 932.28,103.3 932.37,108.1 932.45,113.5 932.53,119.6 932.62,126.4 932.70,133.9 932.78,142.1 932.87,150.9 932.95,160.4 933.03,170.5 933.12,181.2 933.20,192.5 933.28,204.4 933.37,216.8 933.45,229.8 933.53,243.2 933.62,257.1 933.70,271.5 933.78,286.3 933.87,301.4 933.95,316.9 934.03,332.8 934.12,348.9 934.20,365.3 934.28,381.8 934.37,398.6 934.45,415.5 934.53,432.6 934.62,449.7 934.70,466.8 934.80,450.7 934.89,434.7 934.99,418.7 935.09,402.8 935.18,387.1 935.28,371.6 935.38,356.2 935.47,341.1 935.57,326.2 935.67,311.7 935.76,297.5 935.86,283.6 935.96,270.1 936.05,257.1 936.15,244.5 936.25,232.3 936.34,220.7 936.44,209.5 936.54,198.9 936.63,188.9 936.73,179.4 936.83,170.5 936.92,162.3 937.02,154.6 937.12,147.6 937.21,141.2 937.31,135.4 937.41,130.3 937.50,125.9 937.60,122.1 937.69,125.8 937.78,130.2 937.87,135.1 937.96,140.8 938.05,147.1 938.14,154.0 938.23,161.5 938.32,169.6 938.41,178.3 938.50,187.6 938.59,197.4 938.68,207.8 938.77,218.7 938.86,230.2 938.95,242.1 939.04,254.4 939.13,267.2 939.22,280.4 939.31,294.0 939.40,307.9 939.49,322.2 939.58,336.8 939.67,351.6 939.76,366.6 939.85,381.9 939.94,397.3 940.03,412.9 940.12,428.5 940.21,444.2 940.30,460.0 940.38,450.0 940.45,440.0 940.53,430.1 940.61,420.2 940.68,410.4 940.76,400.8 940.84,391.2 940.91,381.8 940.99,372.6 941.07,363.5 941.14,354.7 941.22,346.1 941.30,337.7 941.37,329.6 941.45,321.7 941.53,314.2 941.60,306.9 941.68,300.0 941.76,293.4 941.83,287.1 941.91,281.3 941.99,275.7 942.06,270.6 942.14,265.8 942.22,261.4 942.29,257.5 942.37,253.9 942.45,250.7 942.52,247.9 942.60,245.6 942.68,249.0 942.75,253.0 942.83,257.6 942.91,262.8 942.98,268.5 943.06,274.9 943.14,281.8 943.21,289.2 943.29,297.3 943.37,305.8 943.44,314.8 943.52,324.4 943.60,334.4 943.67,344.9 943.75,355.9 943.83,367.2 943.90,379.0 943.98,391.1 944.06,403.6 944.13,416.4 944.21,429.5 944.29,442.9 944.36,456.5 944.44,470.4 944.52,484.4 944.59,498.6 944.67,512.9 944.75,527.3 944.82,541.7 944.90,556.2 944.98,540.4 945.05,524.7 945.13,509.1 945.21,493.5 945.28,478.1 945.36,462.9 945.44,447.8 945.51,433.0 945.59,418.4 945.67,404.2 945.74,390.3 945.82,376.7 945.90,363.5 945.97,350.7 946.05,338.3 946.13,326.4 946.20,315.0 946.28,304.1 946.36,293.7 946.43,283.9 946.51,274.6 946.59,265.9 946.66,257.8 946.74,250.2 946.82,243.3 946.89,237.1 946.97,231.4 947.05,226.5 947.12,222.1 947.20,218.4 947.28,221.0 947.37,224.1 947.45,227.6 947.53,231.5 947.62,235.9 947.70,240.7 947.78,246.0 947.87,251.7 947.95,257.8 948.03,264.3 948.12,271.3 948.20,278.5 948.28,286.2 948.37,294.2 948.45,302.6 948.53,311.3 948.62,320.2 948.70,329.5 948.78,339.0 948.87,348.8 948.95,358.8 949.03,369.0 949.12,379.4 949.20,390.0 949.28,400.7 949.37,411.5 949.45,422.4 949.53,433.4 949.62,444.4 949.70,455.5 949.79,439.0 949.89,422.5 949.98,406.2 950.07,389.9 950.17,373.7 950.26,357.8 950.35,342.0 950.45,326.5 950.54,311.3 950.63,296.3 950.73,281.7 950.82,267.5 950.91,253.7 951.01,240.3 951.10,227.4 951.19,214.9 951.29,203.0 951.38,191.5 951.47,180.7 951.57,170.3 951.66,160.6 951.75,151.5 951.85,143.0 951.94,135.1 952.03,127.9 952.13,121.4 952.22,115.5 952.31,110.2 952.41,105.7 952.50,101.8 952.58,106.1 952.67,111.2 952.75,117.1 952.83,123.7 952.92,131.0 953.00,139.1 953.08,147.9 953.17,157.4 953.25,167.6 953.33,178.5 953.42,190.0 953.50,202.2 953.58,215.0 953.67,228.4 953.75,242.3 953.83,256.8 953.92,271.8 954.00,287.3 954.08,303.2 954.17,319.5 954.25,336.2 954.33,353.2 954.42,370.6 954.50,388.2 954.58,406.1 954.67,424.2 954.75,442.4 954.83,460.7 954.92,479.1 955.00,497.6 955.09,480.2 955.17,462.8 955.26,445.5 955.35,428.3 955.43,411.3 955.52,394.4 955.61,377.8 955.69,361.4 955.78,345.3 955.87,329.5 955.95,314.1 956.04,299.1 956.13,284.5 956.21,270.4 956.30,256.7 956.39,243.5 956.47,230.9 956.56,218.9 956.65,207.4 956.73,196.5 956.82,186.2 956.91,176.6 956.99,167.6 957.08,159.3 957.17,151.7 957.25,144.8 957.34,138.5 957.43,133.0 957.51,128.2 957.60,124.1 957.67,127.6 957.75,131.7 957.82,136.4 957.89,141.7 957.97,147.6 958.04,154.1 958.11,161.1 958.19,168.8 958.26,177.0 958.33,185.7 958.41,195.0 958.48,204.8 958.55,215.0 958.63,225.8 958.70,237.0 958.77,248.6 958.85,260.7 958.92,273.1 958.99,285.9 959.07,299.0 959.14,312.4 959.21,326.1 959.29,340.1 959.36,354.2 959.43,368.6 959.51,383.1 959.58,397.7 959.65,412.5 959.73,427.3 959.80,442.1 959.89,430.8 959.97,419.5 960.06,408.3 960.15,397.1 960.23,386.0 960.32,375.1 960.41,364.3 960.49,353.6 960.58,343.2 960.67,332.9 960.75,322.9 960.84,313.2 960.93,303.7 961.01,294.5 961.10,285.6 961.19,277.1 961.27,268.9 961.36,261.0 961.45,253.6 961.53,246.5 961.62,239.8 961.71,233.6 961.79,227.8 961.88,222.4 961.97,217.4 962.05,212.9 962.14,208.9 962.23,205.3 962.31,202.2 962.40,199.5 962.48,203.4 962.57,208.0 962.65,213.2 962.73,219.1 962.82,225.7 962.90,233.0 962.98,240.9 963.07,249.4 963.15,258.6 963.23,268.3 963.32,278.7 963.40,289.6 963.48,301.1 963.57,313.1 963.65,325.6 963.73,338.6 963.82,352.0 963.90,365.9 963.98,380.2 964.07,394.9 964.15,409.9 964.23,425.2 964.32,440.7 964.40,456.6 964.48,472.6 964.57,488.8 964.65,505.1 964.73,521.6 964.82,538.1 964.90,554.7 964.99,537.2 965.07,519.7 965.16,502.2 965.25,484.9 965.33,467.8 965.42,450.8 965.51,434.1 965.59,417.6 965.68,401.4 965.77,385.5 965.85,370.0 965.94,354.9 966.03,340.2 966.11,325.9 966.20,312.2 966.29,298.9 966.37,286.2 966.46,274.1 966.55,262.5 966.63,251.6 966.72,241.2 966.81,231.5 966.89,222.5 966.98,214.1 967.07,206.5 967.15,199.5 967.24,193.2 967.33,187.7 967.41,182.8 967.50,178.7 967.58,181.4 967.66,184.6 967.74,188.3 967.82,192.4 967.90,197.0 967.98,202.0 968.06,207.5 968.14,213.5 968.22,219.8 968.30,226.6 968.38,233.9 968.46,241.5 968.54,249.5 968.62,257.8 968.70,266.5 968.78,275.6 968.86,285.0 968.94,294.6 969.02,304.6 969.10,314.8 969.18,325.2 969.26,335.9 969.34,346.7 969.42,357.7 969.50,368.9 969.58,380.2 969.66,391.6 969.74,403.0 969.82,414.6 969.90,426.1 969.99,412.2 970.07,398.3 970.16,384.5 970.25,370.7 970.33,357.1 970.42,343.6 970.51,330.4 970.59,317.3 970.68,304.4 970.77,291.8 970.85,279.5 970.94,267.5 971.03,255.9 971.11,244.6 971.20,233.6 971.29,223.1 971.37,213.0 971.46,203.4 971.55,194.2 971.63,185.5 971.72,177.3 971.81,169.6 971.89,162.5 971.98,155.8 972.07,149.7 972.15,144.2 972.24,139.2 972.33,134.8 972.41,131.0 972.50,127.7 972.58,132.2 972.66,137.4 972.74,143.5 972.82,150.3 972.90,157.9 972.98,166.2 973.06,175.3 973.14,185.1 973.22,195.6 973.30,206.8 973.38,218.7 973.46,231.3 973.54,244.5 973.62,258.3 973.70,272.7 973.78,287.6 973.86,303.1 973.94,319.0 974.02,335.4 974.10,352.3 974.18,369.5 974.26,387.1 974.34,405.0 974.42,423.2 974.50,441.6 974.58,460.2 974.66,479.0 974.74,498.0 974.82,517.0 974.90,536.0 974.99,517.7 975.08,499.4 975.17,481.3 975.26,463.2 975.35,445.3 975.44,427.6 975.53,410.1 975.62,392.9 975.71,376.0 975.80,359.5 975.89,343.3 975.98,327.5 976.07,312.2 976.16,297.3 976.25,283.0 976.34,269.2 976.43,255.9 976.52,243.2 976.61,231.2 976.70,219.7 976.79,208.9 976.88,198.8 976.97,189.4 977.06,180.7 977.15,172.7 977.24,165.4 977.33,158.8 977.42,153.1 977.51,148.0 977.60,143.7 977.67,146.7 977.75,150.1 977.82,154.1 977.89,158.6 977.97,163.6 978.04,169.1 978.11,175.1 978.19,181.6 978.26,188.6 978.33,196.0 978.41,203.8 978.48,212.1 978.55,220.9 978.63,230.0 978.70,239.5 978.77,249.4 978.85,259.6 978.92,270.1 978.99,281.0 979.07,292.1 979.14,303.5 979.21,315.1 979.29,326.9 979.36,339.0 979.43,351.1 979.51,363.4 979.58,375.9 979.65,388.4 979.73,400.9 979.80,413.5 979.90,401.9 979.99,390.3 980.09,378.7 980.19,367.2 980.28,355.8 980.38,344.6 980.48,333.4 980.57,322.5 980.67,311.8 980.77,301.2 980.86,290.9 980.96,280.9 981.06,271.2 981.15,261.7 981.25,252.6 981.35,243.8 981.44,235.4 981.54,227.3 981.64,219.6 981.73,212.3 981.83,205.5 981.93,199.1 982.02,193.1 982.12,187.5 982.22,182.4 982.31,177.8 982.41,173.6 982.51,169.9 982.60,166.7 982.70,164.0 982.78,168.4 982.87,173.6 982.95,179.6 983.03,186.3 983.12,193.8 983.20,202.0 983.28,210.9 983.37,220.6 983.45,231.0 983.53,242.1 983.62,253.8 983.70,266.2 983.78,279.2 983.87,292.8 983.95,307.0 984.03,321.8 984.12,337.0 984.20,352.8 984.28,369.0 984.37,385.6 984.45,402.6 984.53,420.0 984.62,437.6 984.70,455.6 984.78,473.8 984.87,492.1 984.95,510.7 985.03,529.4 985.12,548.1 985.20,566.9 985.29,548.2 985.37,529.6 985.46,511.0 985.55,492.6 985.63,474.3 985.72,456.3 985.81,438.4 985.89,420.9 985.98,403.6 986.07,386.7 986.15,370.2 986.24,354.1 986.33,338.5 986.41,323.3 986.50,308.7 986.59,294.5 986.67,281.0 986.76,268.1 986.85,255.8 986.93,244.1 987.02,233.1 987.11,222.8 987.19,213.1 987.28,204.2 987.37,196.1 987.45,188.6 987.54,182.0 987.63,176.0 987.71,170.9 987.80,166.5 987.87,169.0 987.95,172.0 988.02,175.4 988.09,179.2 988.17,183.5 988.24,188.2 988.31,193.3 988.39,198.8 988.46,204.7 988.53,211.1 988.61,217.8 988.68,224.8 988.75,232.3 988.83,240.1 988.90,248.2 988.97,256.6 989.05,265.3 989.12,274.3 989.19,283.5 989.27,293.0 989.34,302.7 989.41,312.6 989.49,322.7 989.56,332.9 989.63,343.3 989.71,353.8 989.78,364.4 989.85,375.1 989.93,385.8 990.00,396.5 990.08,385.9 990.15,375.4 990.23,364.8 990.31,354.4 990.38,344.0 990.46,333.8 990.54,323.7 990.61,313.7 990.69,303.9 990.77,294.4 990.84,285.0 990.92,275.9 991.00,267.0 991.07,258.4 991.15,250.1 991.23,242.1 991.30,234.4 991.38,227.1 991.46,220.1 991.53,213.5 991.61,207.2 991.69,201.4 991.76,195.9 991.84,190.9 991.92,186.3 991.99,182.1 992.07,178.3 992.15,174.9 992.22,172.0 992.30,169.5 992.39,173.8 992.48,178.9 992.57,184.7 992.66,191.3 992.75,198.6 992.84,206.7 992.93,215.5 993.02,225.0 993.11,235.1 993.20,246.0 993.29,257.5 993.38,269.6 993.47,282.4 993.56,295.7 993.65,309.6 993.74,324.1 993.83,339.0 993.92,354.4 994.01,370.3 994.10,386.6 994.19,403.2 994.28,420.2 994.37,437.6 994.46,455.1 994.55,473.0 994.64,491.0 994.73,509.1 994.82,527.4 994.91,545.8 995.00,564.2 995.08,546.0 995.16,527.9 995.24,509.8 995.32,491.9 995.40,474.1 995.48,456.5 995.56,439.2 995.64,422.1 995.72,405.3 995.80,388.9 995.88,372.8 995.96,357.1 996.04,341.9 996.12,327.2 996.20,312.9 996.28,299.2 996.36,286.0 996.44,273.4 996.52,261.5 996.60,250.1 996.68,239.4 996.76,229.3 996.84,220.0 996.92,211.3 997.00,203.4 997.08,196.1 997.16,189.6 997.24,183.9 997.32,178.9 997.40,174.6 997.46,176.9 997.53,179.5 997.59,182.6 997.65,186.0 997.72,189.8 997.78,194.0 997.84,198.6 997.91,203.5 997.97,208.9 998.03,214.5 998.10,220.5 998.16,226.9 998.22,233.5 998.29,240.5 998.35,247.7 998.41,255.3 998.48,263.1 998.54,271.1 998.60,279.4 998.67,287.9 998.73,296.6 998.79,305.5 998.86,314.5 998.92,323.7 998.98,333.0 999.05,342.4 999.11,351.9 999.17,361.4 999.24,371.0 999.30,380.6 999.41,369.4 999.51,358.1 999.62,347.0 999.73,335.8 999.83,324.8 999.94,314.0 1000.05,303.2 1000.15,292.6 1000.26,282.2 1000.37,272.1 1000.47,262.1 1000.58,252.4 1000.69,243.0 1000.79,233.9 1000.90,225.0 1001.01,216.5 1001.11,208.4 1001.22,200.6 1001.33,193.2 1001.43,186.1 1001.54,179.5 1001.65,173.3 1001.75,167.5 1001.86,162.1 1001.97,157.2 1002.07,152.7 1002.18,148.7 1002.29,145.1 1002.39,142.0 1002.50,139.4 1002.58,144.2 1002.67,149.8 1002.75,156.3 1002.83,163.6 1002.92,171.7 1003.00,180.6 1003.08,190.4 1003.17,200.9 1003.25,212.1 1003.33,224.2 1003.42,236.9 1003.50,250.4 1003.58,264.5 1003.67,279.3 1003.75,294.7 1003.83,310.7 1003.92,327.3 1004.00,344.3 1004.08,361.9 1004.17,380.0 1004.25,398.4 1004.33,417.3 1004.42,436.5 1004.50,455.9 1004.58,475.7 1004.67,495.6 1004.75,515.8 1004.83,536.0 1004.92,556.4 1005.00,576.8 1005.08,558.2 1005.17,539.6 1005.25,521.0 1005.33,502.6 1005.42,484.4 1005.50,466.4 1005.58,448.6 1005.67,431.0 1005.75,413.8 1005.83,396.9 1005.92,380.4 1006.00,364.4 1006.08,348.8 1006.17,333.6 1006.25,319.0 1006.33,304.9 1006.42,291.4 1006.50,278.5 1006.58,266.2 1006.67,254.6 1006.75,243.6 1006.83,233.3 1006.92,223.7 1007.00,214.8 1007.08,206.6 1007.17,199.2 1007.25,192.5 1007.33,186.6 1007.42,181.5 1007.50,177.1 1007.58,179.2 1007.67,181.7 1007.75,184.6 1007.83,187.8 1007.92,191.4 1008.00,195.4 1008.08,199.7 1008.17,204.4 1008.25,209.4 1008.33,214.7 1008.42,220.4 1008.50,226.3 1008.58,232.6 1008.67,239.2 1008.75,246.0 1008.83,253.1 1008.92,260.5 1009.00,268.0 1009.08,275.8 1009.17,283.9 1009.25,292.0 1009.33,300.4 1009.42,308.9 1009.50,317.6 1009.58,326.3 1009.67,335.2 1009.75,344.1 1009.83,353.1 1009.92,362.1 1010.00,371.2 1010.09,363.1 1010.18,355.0 1010.28,346.9 1010.37,339.0 1010.46,331.1 1010.55,323.3 1010.65,315.7 1010.74,308.2 1010.83,300.9 1010.92,293.8 1011.02,286.9 1011.11,280.3 1011.20,273.9 1011.29,267.8 1011.38,261.9 1011.48,256.4 1011.57,251.2 1011.66,246.3 1011.75,241.8 1011.85,237.6 1011.94,233.8 1012.03,230.3 1012.12,227.3 1012.22,224.6 1012.31,222.2 1012.40,220.3 1012.48,223.6 1012.56,227.5 1012.64,232.0 1012.72,237.1 1012.80,242.7 1012.88,248.9 1012.96,255.6 1013.04,262.9 1013.12,270.7 1013.20,279.0 1013.28,287.8 1013.36,297.2 1013.44,307.0 1013.52,317.2 1013.60,327.9 1013.68,339.0 1013.76,350.4 1013.84,362.3 1013.92,374.5 1014.00,386.9 1014.08,399.7 1014.16,412.8 1014.24,426.1 1014.32,439.6 1014.40,453.3 1014.48,467.1 1014.56,481.0 1014.64,495.1 1014.72,509.2 1014.80,523.3 1014.89,508.6 1014.97,493.9 1015.06,479.3 1015.15,464.7 1015.23,450.3 1015.32,436.1 1015.41,422.0 1015.49,408.2 1015.58,394.6 1015.67,381.2 1015.75,368.2 1015.84,355.5 1015.93,343.2 1016.01,331.2 1016.10,319.7 1016.19,308.6 1016.27,297.9 1016.36,287.7 1016.45,278.0 1016.53,268.8 1016.62,260.1 1016.71,252.0 1016.79,244.4 1016.88,237.4 1016.97,230.9 1017.05,225.1 1017.14,219.8 1017.23,215.1 1017.31,211.1 1017.40,207.6 1017.49,209.6 1017.58,212.0 1017.67,214.8 1017.77,218.1 1017.86,221.7 1017.95,225.8 1018.04,230.3 1018.13,235.1 1018.23,240.3 1018.32,245.9 1018.41,251.8 1018.50,258.0 1018.59,264.5 1018.68,271.3 1018.77,278.4 1018.87,285.6 1018.96,293.2 1019.05,300.8 1019.14,308.7 1019.23,316.7 1019.33,324.8 1019.42,333.0 1019.51,341.2 1019.60,349.5 1019.70,339.0 1019.79,328.6 1019.89,318.1 1019.99,307.8 1020.08,297.5 1020.18,287.4 1020.28,277.4 1020.37,267.5 1020.47,257.8 1020.57,248.3 1020.66,239.1 1020.76,230.0 1020.86,221.2 1020.95,212.7 1021.05,204.5 1021.15,196.6 1021.24,189.0 1021.34,181.7 1021.44,174.8 1021.53,168.3 1021.63,162.1 1021.73,156.3 1021.82,150.9 1021.92,145.9 1022.02,141.3 1022.11,137.1 1022.21,133.4 1022.31,130.1 1022.40,127.2 1022.50,124.7 1022.59,129.4 1022.69,134.9 1022.78,141.3 1022.87,148.4 1022.97,156.4 1023.06,165.1 1023.15,174.7 1023.25,185.0 1023.34,196.0 1023.43,207.8 1023.53,220.3 1023.62,233.5 1023.71,247.4 1023.81,261.9 1023.90,277.0 1023.99,292.7 1024.09,308.9 1024.18,325.7 1024.27,343.0 1024.37,360.6 1024.46,378.8 1024.55,397.2 1024.65,416.1 1024.74,435.2 1024.83,454.5 1024.93,474.1 1025.02,493.9 1025.11,513.7 1025.21,533.7 1025.30,553.7 1025.38,537.5 1025.46,521.4 1025.54,505.4 1025.62,489.4 1025.70,473.6 1025.78,458.0 1025.86,442.6 1025.94,427.4 1026.02,412.4 1026.10,397.8 1026.18,383.5 1026.26,369.6 1026.34,356.1 1026.42,343.0 1026.50,330.3 1026.58,318.1 1026.66,306.4 1026.74,295.2 1026.82,284.5 1026.90,274.4 1026.98,264.9 1027.06,256.0 1027.14,247.7 1027.22,240.0 1027.30,232.9 1027.38,226.5 1027.46,220.7 1027.54,215.6 1027.62,211.1 1027.70,207.3 1027.78,209.3 1027.86,211.6 1027.94,214.4 1028.02,217.6 1028.10,221.1 1028.18,225.1 1028.26,229.4 1028.34,234.1 1028.42,239.1 1028.50,244.5 1028.58,250.2 1028.66,256.3 1028.74,262.6 1028.82,269.2 1028.90,276.0 1028.98,283.1 1029.06,290.4 1029.14,298.0 1029.22,305.6 1029.30,313.5 1029.38,321.4 1029.46,329.5 1029.54,337.6 1029.62,345.8 1029.70,354.0 1029.85,346.2 1030.01,338.4 1030.16,330.8 1030.31,323.4 1030.47,316.2 1030.62,309.4 1030.77,302.9 1030.93,296.9 1031.08,291.3 1031.23,286.3 1031.39,281.8 1031.54,277.9 1031.69,274.6 1031.85,272.0 1032.00,270.0 1032.08,272.2 1032.15,274.7 1032.23,277.6 1032.31,280.9 1032.38,284.5 1032.46,288.5 1032.54,292.9 1032.61,297.6 1032.69,302.6 1032.77,308.0 1032.84,313.8 1032.92,319.8 1033.00,326.1 1033.07,332.8 1033.15,339.7 1033.23,346.9 1033.30,354.3 1033.38,362.0 1033.46,369.9 1033.53,378.0 1033.61,386.3 1033.69,394.7 1033.76,403.3 1033.84,412.1 1033.92,420.9 1033.99,429.9 1034.07,438.9 1034.15,448.0 1034.22,457.1 1034.30,466.3 1034.39,455.7 1034.49,445.0 1034.58,434.5 1034.67,423.9 1034.77,413.5 1034.86,403.2 1034.95,393.0 1035.05,383.0 1035.14,373.2 1035.23,363.6 1035.33,354.1 1035.42,345.0 1035.51,336.0 1035.61,327.4 1035.70,319.1 1035.79,311.0 1035.89,303.3 1035.98,295.9 1036.07,288.9 1036.17,282.2 1036.26,276.0 1036.35,270.1 1036.45,264.6 1036.54,259.5 1036.63,254.9 1036.73,250.6 1036.82,246.8 1036.91,243.4 1037.01,240.5 1037.10,238.0 1037.24,240.1 1037.38,242.8 1037.52,246.3 1037.66,250.3 1037.80,255.0 1037.94,260.2 1038.08,266.0 1038.22,272.3 1038.36,279.0 1038.50,286.2 1038.64,293.7 1038.78,301.4 1038.92,309.3 1039.06,317.4 1039.20,325.6 1039.30,316.2 1039.40,306.7 1039.50,297.3 1039.60,288.0 1039.70,278.8 1039.80,269.6 1039.90,260.6 1040.00,251.7 1040.10,243.0 1040.20,234.4 1040.30,226.1 1040.40,217.9 1040.50,210.0 1040.60,202.3 1040.70,194.9 1040.80,187.8 1040.90,180.9 1041.00,174.4 1041.10,168.2 1041.20,162.3 1041.30,156.7 1041.40,151.5 1041.50,146.6 1041.60,142.1 1041.70,138.0 1041.80,134.2 1041.90,130.8 1042.00,127.8 1042.10,125.2 1042.20,123.0 1042.30,127.4 1042.40,132.6 1042.50,138.5 1042.60,145.3 1042.70,152.7 1042.80,160.9 1042.90,169.9 1043.00,179.6 1043.10,189.9 1043.20,201.0 1043.30,212.7 1043.40,225.1 1043.50,238.1 1043.60,251.7 1043.70,265.9 1043.80,280.6 1043.90,295.9 1044.00,311.6 1044.10,327.8 1044.20,344.4 1044.30,361.4 1044.40,378.7 1044.50,396.4 1044.60,414.3 1044.70,432.5 1044.80,450.8 1044.90,469.3 1045.00,488.0 1045.10,506.7 1045.20,525.5 1045.28,512.6 1045.37,499.8 1045.45,487.0 1045.53,474.3 1045.62,461.8 1045.70,449.3 1045.78,437.0 1045.87,424.9 1045.95,413.1 1046.03,401.4 1046.12,390.1 1046.20,379.0 1046.28,368.2 1046.37,357.8 1046.45,347.7 1046.53,338.0 1046.62,328.6 1046.70,319.7 1046.78,311.3 1046.87,303.2 1046.95,295.6 1047.03,288.5 1047.12,281.9 1047.20,275.8 1047.28,270.2 1047.37,265.0 1047.45,260.4 1047.53,256.4 1047.62,252.8 1047.70,249.8 1047.82,251.8 1047.95,254.3 1048.07,257.5 1048.19,261.1 1048.32,265.3 1048.44,270.1 1048.56,275.3 1048.69,281.0 1048.81,287.1 1048.94,293.5 1049.06,300.4 1049.18,307.5 1049.31,314.9 1049.43,322.5 1049.55,330.2 1049.68,338.1 1049.80,346.0 1050.22,338.1 1050.63,330.6 1051.05,323.9 1051.47,318.4 1051.88,314.3 1052.30,311.8 1052.45,313.9 1052.59,316.6 1052.74,319.9 1052.89,323.8 1053.04,328.2 1053.18,333.2 1053.33,338.7 1053.48,344.7 1053.62,351.1 1053.77,357.9 1053.92,365.1 1054.06,372.7 1054.21,380.5 1054.36,388.5 1054.51,396.7 1054.65,405.0 1054.80,413.3 1054.89,405.2 1054.98,397.0 1055.07,389.0 1055.15,381.0 1055.24,373.1 1055.33,365.3 1055.42,357.6 1055.51,350.1 1055.60,342.8 1055.68,335.7 1055.77,328.8 1055.86,322.1 1055.95,315.7 1056.04,309.6 1056.13,303.7 1056.22,298.2 1056.30,293.0 1056.39,288.1 1056.48,283.6 1056.57,279.4 1056.66,275.5 1056.75,272.1 1056.83,269.0 1056.92,266.3 1057.01,263.9 1057.10,262.0 1057.28,264.1 1057.46,267.3 1057.63,271.4 1057.81,276.4 1057.99,282.3 1058.17,288.7 1058.34,295.7 1058.52,303.1 1058.70,310.6 1058.82,302.3 1058.94,293.9 1059.06,285.7 1059.18,277.4 1059.30,269.3 1059.42,261.2 1059.54,253.3 1059.67,245.5 1059.79,237.8 1059.91,230.3 1060.03,223.0 1060.15,215.9 1060.27,209.0 1060.39,202.3 1060.51,195.9 1060.63,189.7 1060.75,183.8 1060.87,178.2 1060.99,172.9 1061.11,167.9 1061.23,163.2 1061.36,158.8 1061.48,154.8 1061.60,151.1 1061.72,147.7 1061.84,144.7 1061.96,142.0 1062.08,139.7 1062.20,137.7 1062.32,141.6 1062.44,146.3 1062.56,151.6 1062.68,157.6 1062.80,164.3 1062.92,171.7 1063.04,179.7 1063.16,188.3 1063.28,197.6 1063.40,207.5 1063.52,218.0 1063.64,229.1 1063.76,240.7 1063.88,252.9 1064.00,265.6 1064.12,278.8 1064.24,292.4 1064.36,306.5 1064.48,321.0 1064.60,335.9 1064.72,351.1 1064.84,366.6 1064.96,382.4 1065.08,398.4 1065.20,414.7 1065.32,431.2 1065.44,447.7 1065.56,464.4 1065.68,481.2 1065.80,498.0 1065.89,488.5 1065.98,479.0 1066.07,469.6 1066.16,460.2 1066.25,450.9 1066.34,441.7 1066.43,432.6 1066.52,423.6 1066.61,414.9 1066.70,406.2 1066.79,397.8 1066.88,389.6 1066.97,381.7 1067.06,373.9 1067.15,366.5 1067.24,359.3 1067.33,352.4 1067.42,345.8 1067.51,339.6 1067.60,333.6 1067.69,328.0 1067.78,322.8 1067.87,317.9 1067.96,313.3 1068.05,309.2 1068.14,305.4 1068.23,302.0 1068.32,299.0 1068.41,296.3 1068.50,294.1 1068.80,296.6 1069.10,300.6 1069.40,305.9 1069.70,312.3 1070.00,319.7 1070.30,327.7 1070.60,336.0 1071.10,339.0 1071.60,342.0 1072.00,344.0 1072.40,346.0 1072.80,350.8 1073.20,355.7 1073.60,360.5 1074.00,365.4 1074.40,370.2 1074.59,362.0 1074.79,353.9 1074.98,345.9 1075.17,338.1 1075.37,330.6 1075.56,323.4 1075.75,316.7 1075.95,310.3 1076.14,304.5 1076.33,299.3 1076.53,294.6 1076.72,290.5 1076.91,287.1 1077.11,284.3 1077.30,282.2 1077.53,284.9 1077.75,289.7 1077.97,296.1 1078.20,303.3 1078.40,295.0 1078.59,286.6 1078.79,278.4 1078.98,270.2 1079.18,262.2 1079.37,254.4 1079.57,246.7 1079.76,239.3 1079.96,232.1 1080.15,225.2 1080.35,218.6 1080.55,212.4 1080.74,206.4 1080.94,200.9 1081.13,195.8 1081.33,191.0 1081.52,186.7 1081.72,182.9 1081.91,179.5 1082.11,176.5 1082.30,174.0 1082.50,172.0 1082.62,175.4 1082.73,179.3 1082.85,183.8 1082.97,188.9 1083.08,194.6 1083.20,200.9 1083.32,207.7 1083.43,215.0 1083.55,222.9 1083.67,231.4 1083.78,240.3 1083.90,249.7 1084.02,259.6 1084.13,270.0 1084.25,280.7 1084.37,291.9 1084.48,303.5 1084.60,315.5 1084.72,327.8 1084.83,340.5 1084.95,353.4 1085.07,366.6 1085.18,380.0 1085.30,393.7 1085.42,407.5 1085.53,421.5 1085.65,435.6 1085.77,449.8 1085.88,464.0 1086.00,478.3 1086.12,470.0 1086.25,461.6 1086.37,453.4 1086.49,445.2 1086.62,437.1 1086.74,429.1 1086.86,421.2 1086.98,413.5 1087.11,406.0 1087.23,398.7 1087.35,391.7 1087.48,384.8 1087.60,378.3 1087.72,372.0 1087.85,366.0 1087.97,360.3 1088.09,355.0 1088.22,350.0 1088.34,345.3 1088.46,341.0 1088.58,337.1 1088.71,333.5 1088.83,330.3 1088.95,327.6 1089.08,325.2 1089.20,323.2 1089.80,325.9 1090.40,330.8 1091.00,337.0 1091.70,339.8 1092.40,342.5 1093.10,341.8 1093.80,341.0 1094.50,335.5 1095.20,330.0 1095.55,324.4 1095.90,318.9 1096.25,313.3 1096.60,307.7 1097.35,304.2 1098.10,302.2 1098.80,303.8 1099.50,306.6 1099.71,298.6 1099.91,290.7 1100.12,282.9 1100.33,275.2 1100.53,267.8 1100.74,260.7 1100.94,254.0 1101.15,247.6 1101.36,241.6 1101.56,236.2 1101.77,231.2 1101.97,226.8 1102.18,223.0 1102.39,219.8 1102.59,217.1 1102.80,215.1 1102.93,217.9 1103.07,221.2 1103.20,225.0 1103.33,229.3 1103.47,234.1 1103.60,239.3 1103.73,245.0 1103.87,251.2 1104.00,257.8 1104.13,264.9 1104.27,272.4 1104.40,280.3 1104.53,288.6 1104.67,297.3 1104.80,306.3 1104.93,315.7 1105.07,325.4 1105.20,335.5 1105.33,345.8 1105.47,356.4 1105.60,367.2 1105.73,378.3 1105.87,389.6 1106.00,401.0 1106.13,412.6 1106.27,424.3 1106.40,436.2 1106.53,448.1 1106.67,460.0 1106.80,472.0 1106.94,463.9 1107.07,455.8 1107.21,447.8 1107.34,439.8 1107.48,431.9 1107.61,424.1 1107.75,416.5 1107.89,408.9 1108.02,401.5 1108.16,394.3 1108.29,387.3 1108.43,380.5 1108.56,373.9 1108.70,367.5 1108.84,361.4 1108.97,355.6 1109.11,350.0 1109.24,344.7 1109.38,339.8 1109.51,335.1 1109.65,330.8 1109.79,326.8 1109.92,323.1 1110.06,319.8 1110.19,316.8 1110.33,314.2 1110.46,311.9 1110.60,310.0 1111.30,312.8 1112.00,318.0 1112.60,321.1 1113.20,324.3 1114.30,326.0 1115.40,327.7 1116.55,326.6 1117.70,325.5 1118.55,324.9 1119.40,324.3 1119.71,316.5 1120.03,308.7 1120.34,301.2 1120.66,293.8 1120.97,286.8 1121.29,280.1 1121.60,273.8 1121.91,268.0 1122.23,262.8 1122.54,258.1 1122.86,254.1 1123.17,250.7 1123.49,248.0 1123.80,246.0 1123.92,248.6 1124.04,251.7 1124.16,255.2 1124.28,259.2 1124.40,263.6 1124.52,268.4 1124.64,273.7 1124.76,279.5 1124.88,285.6 1125.00,292.1 1125.12,299.1 1125.24,306.4 1125.36,314.1 1125.48,322.1 1125.60,330.5 1125.72,339.2 1125.84,348.3 1125.96,357.6 1126.08,367.1 1126.20,377.0 1126.32,387.0 1126.44,397.3 1126.56,407.7 1126.68,418.3 1126.80,429.1 1126.92,439.9 1127.04,450.9 1127.16,461.9 1127.28,473.0 1127.40,484.1 1127.53,474.0 1127.65,463.8 1127.78,453.7 1127.91,443.7 1128.03,433.8 1128.16,424.0 1128.29,414.3 1128.41,404.7 1128.54,395.4 1128.67,386.2 1128.79,377.2 1128.92,368.5 1129.05,360.0 1129.17,351.7 1129.30,343.8 1129.43,336.1 1129.55,328.7 1129.68,321.7 1129.81,315.0 1129.93,308.7 1130.06,302.7 1130.19,297.1 1130.31,291.8 1130.44,287.0 1130.57,282.6 1130.69,278.5 1130.82,274.9 1130.95,271.7 1131.07,268.9 1131.20,266.5 1131.53,269.0 1131.87,273.0 1132.20,278.4 1132.53,284.9 1132.87,292.3 1133.20,300.0 1133.51,305.1 1133.83,310.3 1134.14,315.4 1134.46,320.6 1134.77,325.7 1135.09,330.9 1135.40,336.0 1135.87,340.0 1136.33,344.0 1136.80,348.0 1137.45,350.6 1138.10,353.2 1139.20,352.1 1140.30,351.0 1140.90,348.5 1141.50,346.0 1141.66,337.9 1141.83,329.8 1141.99,321.8 1142.15,313.9 1142.32,306.2 1142.48,298.7 1142.64,291.4 1142.81,284.5 1142.97,277.8 1143.13,271.6 1143.29,265.7 1143.46,260.2 1143.62,255.2 1143.78,250.7 1143.95,246.6 1144.11,243.0 1144.27,239.9 1144.44,237.4 1144.60,235.4 1144.71,238.4 1144.82,242.0 1144.93,246.0 1145.04,250.6 1145.15,255.7 1145.26,261.4 1145.37,267.5 1145.48,274.1 1145.59,281.2 1145.70,288.8 1145.81,296.8 1145.92,305.3 1146.03,314.2 1146.14,323.5 1146.25,333.2 1146.36,343.2 1146.47,353.7 1146.58,364.4 1146.69,375.5 1146.80,386.9 1146.91,398.5 1147.02,410.4 1147.13,422.4 1147.24,434.7 1147.35,447.1 1147.46,459.7 1147.57,472.4 1147.68,485.1 1147.79,498.0 1147.90,510.8 1148.01,497.2 1148.12,483.7 1148.23,470.1 1148.34,456.7 1148.45,443.4 1148.56,430.3 1148.67,417.3 1148.78,404.5 1148.89,392.0 1149.00,379.7 1149.11,367.7 1149.22,355.9 1149.33,344.5 1149.44,333.5 1149.55,322.9 1149.66,312.6 1149.77,302.7 1149.88,293.3 1149.99,284.4 1150.10,275.9 1150.21,267.9 1150.32,260.3 1150.43,253.3 1150.54,246.9 1150.65,240.9 1150.76,235.5 1150.87,230.7 1150.98,226.3 1151.09,222.6 1151.20,219.4 1151.38,221.4 1151.55,223.9 1151.73,226.8 1151.90,230.3 1152.08,234.2 1152.25,238.6 1152.42,243.4 1152.60,248.7 1152.78,254.3 1152.95,260.3 1153.12,266.7 1153.30,273.4 1153.48,280.4 1153.65,287.7 1153.83,295.2 1154.00,302.8 1154.17,310.7 1154.35,318.6 1154.53,326.6 1154.70,334.7 1155.00,340.2 1155.30,345.8 1155.60,351.3 1155.90,356.8 1156.20,362.3 1156.50,367.9 1156.80,373.4 1157.10,378.9 1157.40,384.4 1157.70,390.0 1158.00,395.5 1158.47,387.5 1158.94,379.7 1159.41,372.6 1159.89,366.4 1160.36,361.3 1160.83,357.4 1161.30,355.0 1161.85,359.0 1162.40,366.3 1162.50,358.1 1162.59,349.9 1162.69,341.8 1162.79,333.7 1162.88,325.8 1162.98,317.9 1163.08,310.1 1163.17,302.5 1163.27,295.0 1163.36,287.7 1163.46,280.6 1163.56,273.7 1163.65,267.0 1163.75,260.6 1163.85,254.4 1163.94,248.5 1164.04,242.9 1164.14,237.5 1164.23,232.5 1164.33,227.8 1164.42,223.4 1164.52,219.4 1164.62,215.7 1164.71,212.3 1164.81,209.3 1164.91,206.6 1165.00,204.3 1165.10,202.4 1165.20,206.1 1165.31,210.5 1165.41,215.5 1165.51,221.2 1165.62,227.5 1165.72,234.4 1165.82,241.9 1165.93,250.1 1166.03,258.8 1166.13,268.2 1166.24,278.0 1166.34,288.5 1166.44,299.4 1166.55,310.9 1166.65,322.9 1166.75,335.3 1166.86,348.1 1166.96,361.4 1167.06,375.0 1167.17,389.0 1167.27,403.3 1167.37,418.0 1167.48,432.8 1167.58,447.9 1167.68,463.3 1167.79,478.7 1167.89,494.4 1167.99,510.1 1168.10,525.9 1168.20,541.7 1168.30,524.8 1168.40,507.9 1168.50,491.1 1168.60,474.4 1168.70,457.9 1168.80,441.5 1168.90,425.4 1169.00,409.5 1169.10,393.8 1169.20,378.5 1169.30,363.6 1169.40,349.0 1169.50,334.8 1169.60,321.1 1169.70,307.8 1169.80,295.1 1169.90,282.8 1170.00,271.1 1170.10,259.9 1170.20,249.4 1170.30,239.4 1170.40,230.1 1170.50,221.3 1170.60,213.3 1170.70,205.9 1170.80,199.2 1170.90,193.1 1171.00,187.7 1171.10,183.1 1171.20,179.1 1171.30,181.1 1171.40,183.4 1171.50,186.1 1171.60,189.2 1171.70,192.6 1171.80,196.4 1171.90,200.5 1172.00,205.0 1172.10,209.8 1172.20,214.9 1172.30,220.3 1172.40,226.0 1172.50,232.1 1172.60,238.4 1172.70,244.9 1172.80,251.7 1172.90,258.7 1173.00,266.0 1173.10,273.4 1173.20,281.0 1173.30,288.8 1173.40,296.7 1173.50,304.7 1173.60,312.9 1173.70,321.1 1173.80,329.3 1173.90,337.7 1174.00,346.0 1174.45,338.1 1174.90,331.1 1175.35,325.9 1175.80,322.9 1175.90,324.9 1176.00,327.4 1176.10,330.5 1176.20,334.0 1176.30,338.0 1176.40,342.4 1176.50,347.4 1176.60,352.7 1176.70,358.5 1176.80,364.6 1176.90,371.1 1177.00,378.0 1177.10,385.1 1177.20,392.5 1177.30,400.1 1177.40,407.9 1177.50,415.9 1177.60,424.0 1177.70,432.2 1177.80,440.4 1177.94,432.0 1178.08,423.7 1178.22,415.5 1178.36,407.4 1178.50,399.4 1178.64,391.7 1178.78,384.1 1178.92,376.9 1179.06,369.9 1179.20,363.3 1179.34,357.1 1179.48,351.2 1179.62,345.8 1179.76,340.8 1179.90,336.2 1180.04,332.2 1180.18,328.6 1180.32,325.5 1180.46,323.0 1180.60,320.9 1180.82,323.2 1181.04,326.7 1181.27,331.2 1181.49,336.8 1181.71,343.2 1181.93,350.3 1182.16,358.0 1182.38,366.0 1182.60,374.3 1182.69,364.8 1182.79,355.2 1182.88,345.7 1182.97,336.3 1183.07,327.0 1183.16,317.7 1183.25,308.6 1183.35,299.6 1183.44,290.8 1183.53,282.2 1183.63,273.7 1183.72,265.5 1183.81,257.5 1183.91,249.8 1184.00,242.3 1184.09,235.1 1184.19,228.1 1184.28,221.5 1184.37,215.2 1184.47,209.3 1184.56,203.6 1184.65,198.4 1184.75,193.4 1184.84,188.9 1184.93,184.7 1185.03,180.9 1185.12,177.5 1185.21,174.5 1185.31,171.8 1185.40,169.6 1185.49,174.0 1185.58,179.1 1185.67,185.0 1185.76,191.6 1185.85,199.0 1185.94,207.2 1186.03,216.0 1186.12,225.6 1186.21,235.9 1186.30,246.8 1186.39,258.4 1186.48,270.7 1186.57,283.5 1186.66,297.0 1186.75,311.0 1186.84,325.6 1186.93,340.7 1187.02,356.3 1187.11,372.3 1187.20,388.7 1187.29,405.5 1187.38,422.7 1187.47,440.2 1187.56,457.9 1187.65,475.9 1187.74,494.1 1187.83,512.4 1187.92,530.9 1188.01,549.4 1188.10,568.0 1188.20,548.3 1188.31,528.7 1188.41,509.2 1188.51,489.8 1188.62,470.5 1188.72,451.5 1188.82,432.7 1188.93,414.2 1189.03,396.1 1189.13,378.3 1189.24,360.9 1189.34,343.9 1189.44,327.5 1189.55,311.5 1189.65,296.1 1189.75,281.2 1189.86,267.0 1189.96,253.4 1190.06,240.4 1190.17,228.1 1190.27,216.5 1190.37,205.6 1190.48,195.5 1190.58,186.1 1190.68,177.5 1190.79,169.7 1190.89,162.7 1190.99,156.4 1191.10,151.0 1191.20,146.4 1191.27,148.8 1191.34,151.5 1191.41,154.7 1191.48,158.3 1191.55,162.2 1191.62,166.6 1191.69,171.4 1191.76,176.6 1191.83,182.1 1191.90,188.0 1191.97,194.2 1192.04,200.8 1192.11,207.8 1192.18,215.0 1192.25,222.6 1192.32,230.4 1192.39,238.6 1192.46,247.0 1192.53,255.6 1192.60,264.4 1192.67,273.5 1192.74,282.7 1192.81,292.1 1192.88,301.7 1192.95,311.4 1193.02,321.2 1193.09,331.1 1193.16,341.0 1193.23,351.0 1193.30,361.0 1193.51,353.1 1193.72,345.3 1193.92,337.7 1194.13,330.4 1194.34,323.5 1194.55,317.1 1194.76,311.3 1194.97,306.2 1195.17,301.7 1195.38,298.0 1195.59,295.1 1195.80,293.0 1195.88,295.1 1195.97,297.5 1196.05,300.4 1196.13,303.5 1196.22,307.1 1196.30,311.0 1196.38,315.2 1196.47,319.8 1196.55,324.7 1196.63,329.9 1196.72,335.5 1196.80,341.4 1196.88,347.5 1196.97,354.0 1197.05,360.7 1197.13,367.6 1197.22,374.9 1197.30,382.3 1197.38,390.0 1197.47,397.8 1197.55,405.9 1197.63,414.1 1197.72,422.4 1197.80,430.9 1197.88,439.5 1197.97,448.2 1198.05,457.0 1198.13,465.8 1198.22,474.7 1198.30,483.6 1198.39,473.3 1198.47,462.9 1198.56,452.7 1198.65,442.4 1198.73,432.3 1198.82,422.3 1198.91,412.4 1198.99,402.7 1199.08,393.2 1199.17,383.8 1199.25,374.6 1199.34,365.7 1199.43,357.1 1199.51,348.7 1199.60,340.5 1199.69,332.7 1199.77,325.2 1199.86,318.1 1199.95,311.2 1200.03,304.8 1200.12,298.7 1200.21,293.0 1200.29,287.6 1200.38,282.7 1200.47,278.2 1200.55,274.1 1200.64,270.4 1200.73,267.1 1200.81,264.2 1200.90,261.8 1201.00,263.8 1201.10,266.3 1201.20,269.3 1201.30,272.8 1201.40,276.8 1201.50,281.3 1201.60,286.2 1201.70,291.5 1201.80,297.3 1201.90,303.4 1202.00,309.9 1202.10,316.7 1202.20,323.8 1202.30,331.2 1202.40,338.8 1202.50,346.6 1202.60,354.6 1202.70,362.7 1202.80,370.8 1202.90,379.0 1202.99,368.2 1203.09,357.5 1203.18,346.8 1203.27,336.1 1203.37,325.6 1203.46,315.2 1203.55,304.9 1203.65,294.8 1203.74,284.8 1203.83,275.1 1203.93,265.5 1204.02,256.2 1204.11,247.2 1204.21,238.5 1204.30,230.0 1204.39,221.9 1204.49,214.1 1204.58,206.6 1204.67,199.5 1204.77,192.8 1204.86,186.4 1204.95,180.5 1205.05,174.9 1205.14,169.8 1205.23,165.1 1205.33,160.8 1205.42,156.9 1205.51,153.5 1205.61,150.5 1205.70,148.0 1205.78,152.6 1205.86,158.0 1205.94,164.3 1206.02,171.3 1206.10,179.1 1206.18,187.7 1206.26,197.1 1206.34,207.2 1206.42,218.1 1206.50,229.6 1206.58,241.9 1206.66,254.9 1206.74,268.5 1206.82,282.7 1206.90,297.6 1206.98,313.0 1207.06,328.9 1207.14,345.4 1207.22,362.3 1207.30,379.7 1207.38,397.5 1207.46,415.6 1207.54,434.1 1207.62,452.9 1207.70,471.9 1207.78,491.1 1207.86,510.5 1207.94,530.0 1208.02,549.7 1208.10,569.3 1208.20,548.5 1208.29,527.8 1208.39,507.2 1208.49,486.7 1208.58,466.3 1208.68,446.2 1208.78,426.4 1208.87,406.9 1208.97,387.7 1209.07,368.9 1209.16,350.5 1209.26,332.6 1209.36,315.2 1209.45,298.3 1209.55,282.0 1209.65,266.3 1209.74,251.3 1209.84,236.9 1209.94,223.2 1210.03,210.2 1210.13,198.0 1210.23,186.5 1210.32,175.8 1210.42,165.9 1210.52,156.8 1210.61,148.5 1210.71,141.1 1210.81,134.5 1210.90,128.8 1211.00,123.9 1211.09,126.6 1211.17,129.8 1211.26,133.5 1211.35,137.6 1211.43,142.3 1211.52,147.3 1211.61,152.9 1211.69,158.8 1211.78,165.2 1211.87,172.1 1211.95,179.3 1212.04,187.0 1212.13,195.0 1212.21,203.4 1212.30,212.2 1212.39,221.3 1212.47,230.7 1212.56,240.4 1212.65,250.4 1212.73,260.6 1212.82,271.1 1212.91,281.8 1212.99,292.7 1213.08,303.8 1213.17,315.0 1213.25,326.4 1213.34,337.8 1213.43,349.3 1213.51,360.9 1213.60,372.5 1213.72,364.5 1213.84,356.4 1213.96,348.5 1214.08,340.7 1214.20,333.0 1214.31,325.5 1214.43,318.1 1214.55,311.1 1214.67,304.2 1214.79,297.7 1214.91,291.5 1215.03,285.7 1215.15,280.2 1215.27,275.1 1215.39,270.4 1215.50,266.2 1215.62,262.4 1215.74,259.0 1215.86,256.1 1215.98,253.7 1216.10,251.7 1216.17,254.6 1216.23,258.1 1216.30,262.0 1216.37,266.5 1216.43,271.5 1216.50,276.9 1216.57,282.9 1216.63,289.3 1216.70,296.2 1216.77,303.5 1216.83,311.3 1216.90,319.6 1216.97,328.2 1217.03,337.2 1217.10,346.7 1217.17,356.5 1217.23,366.6 1217.30,377.0 1217.37,387.8 1217.43,398.8 1217.50,410.1 1217.57,421.6 1217.63,433.4 1217.70,445.3 1217.77,457.4 1217.83,469.6 1217.90,481.9 1217.97,494.3 1218.03,506.7 1218.10,519.2 1218.19,504.3 1218.29,489.3 1218.38,474.5 1218.47,459.7 1218.57,445.1 1218.66,430.6 1218.75,416.4 1218.85,402.3 1218.94,388.5 1219.03,375.0 1219.13,361.8 1219.22,348.9 1219.31,336.3 1219.41,324.2 1219.50,312.5 1219.59,301.2 1219.69,290.4 1219.78,280.0 1219.87,270.1 1219.97,260.8 1220.06,252.0 1220.15,243.7 1220.25,236.0 1220.34,228.9 1220.43,222.4 1220.53,216.4 1220.62,211.1 1220.71,206.3 1220.81,202.2 1220.90,198.7 1220.98,200.7 1221.05,203.0 1221.13,205.7 1221.21,208.7 1221.28,212.1 1221.36,215.8 1221.44,219.9 1221.51,224.2 1221.59,228.9 1221.67,233.9 1221.74,239.2 1221.82,244.8 1221.90,250.6 1221.97,256.8 1222.05,263.2 1222.13,269.8 1222.20,276.7 1222.28,283.8 1222.36,291.1 1222.43,298.6 1222.51,306.2 1222.59,314.1 1222.66,322.0 1222.74,330.1 1222.82,338.3 1222.89,346.6 1222.97,355.0 1223.05,363.4 1223.12,371.8 1223.20,380.3 1223.28,369.2 1223.37,358.2 1223.45,347.2 1223.53,336.3 1223.62,325.4 1223.70,314.7 1223.78,304.1 1223.87,293.7 1223.95,283.5 1224.03,273.5 1224.12,263.7 1224.20,254.1 1224.28,244.9 1224.37,235.9 1224.45,227.2 1224.53,218.8 1224.62,210.8 1224.70,203.1 1224.78,195.8 1224.87,188.9 1224.95,182.4 1225.03,176.3 1225.12,170.6 1225.20,165.3 1225.28,160.4 1225.37,156.0 1225.45,152.1 1225.53,148.6 1225.62,145.5 1225.70,142.9 1225.78,147.5 1225.87,152.9 1225.95,159.1 1226.03,166.1 1226.12,173.9 1226.20,182.5 1226.28,191.9 1226.37,202.0 1226.45,212.8 1226.53,224.4 1226.62,236.6 1226.70,249.6 1226.78,263.1 1226.87,277.3 1226.95,292.2 1227.03,307.5 1227.12,323.5 1227.20,339.9 1227.28,356.8 1227.37,374.1 1227.45,391.9 1227.53,410.0 1227.62,428.4 1227.70,447.1 1227.78,466.1 1227.87,485.3 1227.95,504.7 1228.03,524.1 1228.12,543.7 1228.20,563.3 1228.29,542.3 1228.39,521.4 1228.48,500.6 1228.57,479.9 1228.67,459.4 1228.76,439.1 1228.85,419.0 1228.95,399.3 1229.04,380.0 1229.13,361.0 1229.23,342.4 1229.32,324.4 1229.41,306.8 1229.51,289.8 1229.60,273.3 1229.69,257.5 1229.79,242.3 1229.88,227.8 1229.97,213.9 1230.07,200.8 1230.16,188.5 1230.25,176.9 1230.35,166.1 1230.44,156.1 1230.53,146.9 1230.63,138.6 1230.72,131.1 1230.81,124.4 1230.91,118.6 1231.00,113.7 1231.08,116.5 1231.17,119.8 1231.25,123.6 1231.33,127.9 1231.42,132.6 1231.50,137.9 1231.58,143.6 1231.67,149.7 1231.75,156.3 1231.83,163.4 1231.92,170.8 1232.00,178.7 1232.08,187.0 1232.17,195.7 1232.25,204.7 1232.33,214.1 1232.42,223.8 1232.50,233.8 1232.58,244.1 1232.67,254.7 1232.75,265.5 1232.83,276.5 1232.92,287.8 1233.00,299.2 1233.08,310.8 1233.17,322.4 1233.25,334.2 1233.33,346.1 1233.42,358.0 1233.50,370.0 1233.59,361.7 1233.67,353.5 1233.76,345.2 1233.84,337.1 1233.93,329.0 1234.01,321.0 1234.10,313.2 1234.19,305.4 1234.27,297.9 1234.36,290.5 1234.44,283.3 1234.53,276.3 1234.61,269.6 1234.70,263.1 1234.79,256.8 1234.87,250.8 1234.96,245.1 1235.04,239.8 1235.13,234.7 1235.21,229.9 1235.30,225.5 1235.39,221.4 1235.47,217.6 1235.56,214.2 1235.64,211.2 1235.73,208.5 1235.81,206.2 1235.90,204.2 1235.97,207.9 1236.05,212.3 1236.12,217.4 1236.19,223.0 1236.27,229.4 1236.34,236.3 1236.41,243.9 1236.49,252.1 1236.56,260.9 1236.63,270.2 1236.71,280.2 1236.78,290.6 1236.85,301.6 1236.93,313.2 1237.00,325.2 1237.07,337.6 1237.15,350.5 1237.22,363.8 1237.29,377.5 1237.37,391.6 1237.44,406.0 1237.51,420.6 1237.59,435.6 1237.66,450.8 1237.73,466.1 1237.81,481.7 1237.88,497.4 1237.95,513.2 1238.03,529.0 1238.10,544.9 1238.19,526.4 1238.29,508.0 1238.38,489.7 1238.47,471.5 1238.57,453.4 1238.66,435.6 1238.75,417.9 1238.85,400.6 1238.94,383.5 1239.03,366.8 1239.13,350.5 1239.22,334.6 1239.31,319.1 1239.41,304.2 1239.50,289.7 1239.59,275.7 1239.69,262.4 1239.78,249.6 1239.87,237.4 1239.97,225.9 1240.06,215.0 1240.15,204.8 1240.25,195.3 1240.34,186.5 1240.43,178.4 1240.53,171.1 1240.62,164.5 1240.71,158.6 1240.81,153.5 1240.90,149.2 1240.97,151.7 1241.04,154.6 1241.11,157.9 1241.18,161.7 1241.25,165.9 1241.32,170.5 1241.39,175.6 1241.46,181.0 1241.53,186.8 1241.60,193.1 1241.67,199.6 1241.74,206.6 1241.81,213.9 1241.88,221.6 1241.95,229.5 1242.02,237.8 1242.09,246.4 1242.16,255.2 1242.23,264.3 1242.30,273.7 1242.37,283.2 1242.44,293.0 1242.51,302.9 1242.58,313.0 1242.65,323.2 1242.72,333.5 1242.79,343.9 1242.86,354.4 1242.93,364.9 1243.00,375.5 1243.09,365.2 1243.18,354.9 1243.27,344.7 1243.36,334.6 1243.45,324.5 1243.54,314.5 1243.63,304.7 1243.72,295.0 1243.81,285.5 1243.90,276.2 1243.99,267.1 1244.08,258.2 1244.17,249.6 1244.26,241.2 1244.35,233.2 1244.44,225.4 1244.53,217.9 1244.62,210.8 1244.71,204.0 1244.80,197.6 1244.89,191.5 1244.98,185.8 1245.07,180.5 1245.16,175.6 1245.25,171.1 1245.34,167.0 1245.43,163.3 1245.52,160.1 1245.61,157.2 1245.70,154.8 1245.78,159.2 1245.87,164.5 1245.95,170.5 1246.03,177.2 1246.12,184.8 1246.20,193.0 1246.28,202.1 1246.37,211.8 1246.45,222.3 1246.53,233.4 1246.62,245.2 1246.70,257.7 1246.78,270.8 1246.87,284.5 1246.95,298.8 1247.03,313.7 1247.12,329.0 1247.20,344.9 1247.28,361.2 1247.37,377.9 1247.45,395.1 1247.53,412.5 1247.62,430.3 1247.70,448.4 1247.78,466.7 1247.87,485.2 1247.95,503.9 1248.03,522.7 1248.12,541.6 1248.20,560.5 1248.29,539.9 1248.37,519.3 1248.46,498.8 1248.55,478.5 1248.63,458.3 1248.72,438.4 1248.81,418.7 1248.89,399.3 1248.98,380.3 1249.07,361.6 1249.15,343.4 1249.24,325.6 1249.33,308.3 1249.41,291.6 1249.50,275.4 1249.59,259.9 1249.67,244.9 1249.76,230.6 1249.85,217.0 1249.93,204.2 1250.02,192.0 1250.11,180.6 1250.19,170.0 1250.28,160.2 1250.37,151.1 1250.45,142.9 1250.54,135.6 1250.63,129.0 1250.71,123.3 1250.80,118.5 1250.88,121.3 1250.95,124.5 1251.03,128.3 1251.11,132.5 1251.18,137.2 1251.26,142.4 1251.34,148.1 1251.41,154.1 1251.49,160.7 1251.57,167.7 1251.64,175.1 1251.72,182.9 1251.80,191.1 1251.87,199.6 1251.95,208.6 1252.03,217.9 1252.10,227.5 1252.18,237.4 1252.26,247.6 1252.33,258.0 1252.41,268.7 1252.49,279.7 1252.56,290.8 1252.64,302.1 1252.72,313.6 1252.79,325.1 1252.87,336.8 1252.95,348.6 1253.02,360.4 1253.10,372.2 1253.18,362.4 1253.27,352.6 1253.35,342.8 1253.43,333.1 1253.52,323.5 1253.60,314.0 1253.68,304.6 1253.77,295.4 1253.85,286.3 1253.93,277.4 1254.02,268.7 1254.10,260.3 1254.18,252.0 1254.27,244.1 1254.35,236.4 1254.43,228.9 1254.52,221.8 1254.60,215.0 1254.68,208.5 1254.77,202.4 1254.85,196.6 1254.93,191.2 1255.02,186.1 1255.10,181.5 1255.18,177.2 1255.27,173.2 1255.35,169.7 1255.43,166.6 1255.52,163.9 1255.60,161.6 1255.69,166.0 1255.77,171.1 1255.86,177.0 1255.95,183.7 1256.03,191.1 1256.12,199.2 1256.21,208.1 1256.29,217.7 1256.38,227.9 1256.47,238.9 1256.55,250.5 1256.64,262.8 1256.73,275.7 1256.81,289.2 1256.90,303.2 1256.99,317.8 1257.07,332.9 1257.16,348.5 1257.25,364.5 1257.33,381.0 1257.42,397.8 1257.51,415.0 1257.59,432.5 1257.68,450.3 1257.77,468.3 1257.85,486.5 1257.94,504.9 1258.03,523.3 1258.11,541.9 1258.20,560.5 1258.29,540.1 1258.39,519.7 1258.48,499.4 1258.57,479.2 1258.67,459.2 1258.76,439.4 1258.85,419.9 1258.95,400.7 1259.04,381.8 1259.13,363.3 1259.23,345.2 1259.32,327.6 1259.41,310.5 1259.51,293.9 1259.60,277.9 1259.69,262.4 1259.79,247.6 1259.88,233.5 1259.97,220.0 1260.07,207.2 1260.16,195.2 1260.25,183.9 1260.35,173.3 1260.44,163.6 1260.53,154.7 1260.63,146.5 1260.72,139.2 1260.81,132.7 1260.91,127.1 1261.00,122.3 1261.07,125.0 1261.15,128.1 1261.22,131.7 1261.29,135.7 1261.37,140.3 1261.44,145.2 1261.51,150.6 1261.59,156.5 1261.66,162.7 1261.73,169.4 1261.81,176.5 1261.88,184.0 1261.95,191.8 1262.03,200.0 1262.10,208.6 1262.17,217.5 1262.25,226.7 1262.32,236.2 1262.39,246.0 1262.47,256.0 1262.54,266.3 1262.61,276.7 1262.69,287.4 1262.76,298.2 1262.83,309.2 1262.91,320.3 1262.98,331.5 1263.05,342.8 1263.13,354.1 1263.20,365.4 1263.29,356.9 1263.37,348.4 1263.46,339.9 1263.55,331.5 1263.63,323.2 1263.72,314.9 1263.81,306.8 1263.89,298.8 1263.98,290.9 1264.07,283.2 1264.15,275.6 1264.24,268.3 1264.33,261.2 1264.41,254.2 1264.50,247.6 1264.59,241.1 1264.67,235.0 1264.76,229.0 1264.85,223.4 1264.93,218.1 1265.02,213.1 1265.11,208.4 1265.19,204.0 1265.28,199.9 1265.37,196.2 1265.45,192.8 1265.54,189.8 1265.63,187.1 1265.71,184.7 1265.80,182.7 1265.87,186.7 1265.94,191.3 1266.01,196.7 1266.08,202.7 1266.15,209.4 1266.22,216.8 1266.29,224.8 1266.36,233.5 1266.43,242.8 1266.50,252.7 1266.57,263.2 1266.64,274.4 1266.71,286.0 1266.78,298.2 1266.85,311.0 1266.92,324.2 1266.99,337.9 1267.06,352.0 1267.13,366.5 1267.20,381.4 1267.27,396.7 1267.34,412.2 1267.41,428.1 1267.48,444.2 1267.55,460.5 1267.62,477.0 1267.69,493.6 1267.76,510.3 1267.83,527.2 1267.90,544.0 1268.00,525.0 1268.09,506.0 1268.19,487.1 1268.29,468.4 1268.38,449.8 1268.48,431.3 1268.58,413.2 1268.67,395.3 1268.77,377.7 1268.87,360.5 1268.96,343.7 1269.06,327.3 1269.16,311.4 1269.25,296.0 1269.35,281.0 1269.45,266.7 1269.54,252.9 1269.64,239.7 1269.74,227.2 1269.83,215.3 1269.93,204.1 1270.03,193.6 1270.12,183.8 1270.22,174.7 1270.32,166.4 1270.41,158.8 1270.51,152.0 1270.61,146.0 1270.70,140.8 1270.80,136.3 1270.89,138.7 1270.97,141.6 1271.06,144.8 1271.15,148.5 1271.23,152.6 1271.32,157.1 1271.41,162.0 1271.49,167.3 1271.58,173.0 1271.67,179.0 1271.75,185.5 1271.84,192.3 1271.93,199.4 1272.01,206.8 1272.10,214.6 1272.19,222.7 1272.27,231.0 1272.36,239.7 1272.45,248.5 1272.53,257.6 1272.62,266.9 1272.71,276.4 1272.79,286.1 1272.88,295.9 1272.97,305.9 1273.05,316.0 1273.14,326.1 1273.23,336.3 1273.31,346.6 1273.40,356.9 1273.48,346.2 1273.57,335.5 1273.65,324.9 1273.73,314.3 1273.82,303.8 1273.90,293.5 1273.98,283.3 1274.07,273.2 1274.15,263.3 1274.23,253.6 1274.32,244.2 1274.40,234.9 1274.48,226.0 1274.57,217.3 1274.65,208.9 1274.73,200.8 1274.82,193.0 1274.90,185.6 1274.98,178.6 1275.07,171.9 1275.15,165.6 1275.23,159.6 1275.32,154.1 1275.40,149.0 1275.48,144.3 1275.57,140.1 1275.65,136.3 1275.73,132.9 1275.82,129.9 1275.90,127.4 1275.98,132.2 1276.05,137.9 1276.13,144.4 1276.21,151.7 1276.28,159.9 1276.36,168.8 1276.44,178.6 1276.51,189.1 1276.59,200.5 1276.67,212.5 1276.74,225.4 1276.82,238.9 1276.90,253.1 1276.97,267.9 1277.05,283.4 1277.13,299.5 1277.20,316.1 1277.28,333.3 1277.36,350.9 1277.43,369.1 1277.51,387.6 1277.59,406.5 1277.66,425.8 1277.74,445.4 1277.82,465.2 1277.89,485.3 1277.97,505.5 1278.05,525.9 1278.12,546.3 1278.20,566.8 1278.29,546.0 1278.39,525.3 1278.48,504.7 1278.57,484.2 1278.67,463.9 1278.76,443.8 1278.85,424.0 1278.95,404.5 1279.04,385.3 1279.13,366.6 1279.23,348.2 1279.32,330.3 1279.41,312.9 1279.51,296.1 1279.60,279.8 1279.69,264.1 1279.79,249.1 1279.88,234.7 1279.97,221.0 1280.07,208.0 1280.16,195.8 1280.25,184.3 1280.35,173.6 1280.44,163.7 1280.53,154.7 1280.63,146.4 1280.72,139.0 1280.81,132.4 1280.91,126.7 1281.00,121.8 1281.08,124.3 1281.17,127.3 1281.25,130.7 1281.33,134.6 1281.42,138.9 1281.50,143.6 1281.58,148.7 1281.67,154.3 1281.75,160.3 1281.83,166.6 1281.92,173.4 1282.00,180.5 1282.08,188.0 1282.17,195.8 1282.25,203.9 1282.33,212.4 1282.42,221.1 1282.50,230.2 1282.58,239.5 1282.67,249.0 1282.75,258.8 1282.83,268.7 1282.92,278.9 1283.00,289.2 1283.08,299.6 1283.17,310.2 1283.25,320.8 1283.33,331.5 1283.42,342.3 1283.50,353.1 1283.60,344.8 1283.71,336.5 1283.81,328.3 1283.92,320.2 1284.02,312.2 1284.13,304.4 1284.23,296.8 1284.34,289.4 1284.44,282.3 1284.55,275.4 1284.65,268.9 1284.75,262.6 1284.86,256.8 1284.96,251.3 1285.07,246.1 1285.17,241.4 1285.28,237.2 1285.38,233.3 1285.49,229.9 1285.59,227.0 1285.70,224.5 1285.80,222.5 1285.87,225.7 1285.95,229.4 1286.02,233.6 1286.09,238.5 1286.17,243.8 1286.24,249.7 1286.31,256.1 1286.39,263.0 1286.46,270.5 1286.53,278.4 1286.61,286.8 1286.68,295.7 1286.75,305.0 1286.83,314.8 1286.90,324.9 1286.97,335.5 1287.05,346.4 1287.12,357.7 1287.19,369.3 1287.27,381.2 1287.34,393.4 1287.41,405.8 1287.49,418.4 1287.56,431.3 1287.63,444.3 1287.71,457.5 1287.78,470.8 1287.85,484.1 1287.93,497.5 1288.00,511.0 1288.10,494.8 1288.19,478.6 1288.29,462.5 1288.39,446.5 1288.48,430.6 1288.58,414.9 1288.68,399.4 1288.77,384.2 1288.87,369.2 1288.97,354.5 1289.06,340.1 1289.16,326.2 1289.26,312.6 1289.35,299.4 1289.45,286.7 1289.55,274.4 1289.64,262.7 1289.74,251.4 1289.84,240.7 1289.93,230.6 1290.03,221.0 1290.13,212.1 1290.22,203.7 1290.32,196.0 1290.42,188.9 1290.51,182.4 1290.61,176.6 1290.71,171.5 1290.80,167.0 1290.90,163.2 1290.97,165.2 1291.04,167.5 1291.11,170.1 1291.18,173.1 1291.24,176.5 1291.31,180.2 1291.38,184.2 1291.45,188.6 1291.52,193.3 1291.59,198.3 1291.66,203.6 1291.73,209.2 1291.80,215.0 1291.87,221.2 1291.93,227.6 1292.00,234.2 1292.07,241.1 1292.14,248.2 1292.21,255.4 1292.28,262.9 1292.35,270.5 1292.42,278.3 1292.49,286.2 1292.56,294.2 1292.62,302.4 1292.69,310.6 1292.76,318.8 1292.83,327.1 1292.90,335.4 1292.98,324.7 1293.07,314.0 1293.15,303.4 1293.23,292.9 1293.32,282.4 1293.40,272.0 1293.48,261.8 1293.57,251.8 1293.65,241.9 1293.73,232.2 1293.82,222.8 1293.90,213.5 1293.98,204.6 1294.07,195.9 1294.15,187.5 1294.23,179.4 1294.32,171.7 1294.40,164.3 1294.48,157.2 1294.57,150.5 1294.65,144.2 1294.73,138.3 1294.82,132.8 1294.90,127.7 1294.98,123.0 1295.07,118.8 1295.15,115.0 1295.23,111.6 1295.32,108.6 1295.40,106.1 1295.50,111.1 1295.60,116.9 1295.70,123.6 1295.80,131.2 1295.90,139.6 1296.00,148.8 1296.10,158.9 1296.20,169.8 1296.30,181.5 1296.40,193.9 1296.50,207.1 1296.60,221.1 1296.70,235.7 1296.80,251.0 1296.90,267.0 1297.00,283.6 1297.10,300.7 1297.20,318.4 1297.30,336.7 1297.40,355.4 1297.50,374.5 1297.60,394.0 1297.70,413.9 1297.80,434.1 1297.90,454.5 1298.00,475.2 1298.10,496.1 1298.20,517.1 1298.30,538.2 1298.40,559.3 1298.48,540.0 1298.56,520.7 1298.64,501.6 1298.72,482.5 1298.80,463.6 1298.88,444.9 1298.96,426.5 1299.04,408.3 1299.12,390.5 1299.20,373.0 1299.28,356.0 1299.36,339.3 1299.44,323.2 1299.52,307.5 1299.60,292.3 1299.68,277.8 1299.76,263.8 1299.84,250.4 1299.92,237.7 1300.00,225.6 1300.08,214.2 1300.16,203.6 1300.24,193.6 1300.32,184.4 1300.40,176.0 1300.48,168.3 1300.56,161.4 1300.64,155.3 1300.72,149.9 1300.80,145.4 1300.89,147.6 1300.98,150.1 1301.07,153.0 1301.16,156.3 1301.25,160.0 1301.34,164.0 1301.43,168.4 1301.52,173.2 1301.61,178.3 1301.70,183.7 1301.79,189.5 1301.88,195.5 1301.97,201.9 1302.06,208.6 1302.15,215.6 1302.24,222.8 1302.33,230.3 1302.42,238.0 1302.51,245.9 1302.60,254.1 1302.69,262.4 1302.78,270.9 1302.87,279.6 1302.96,288.4 1303.05,297.3 1303.14,306.3 1303.23,315.4 1303.32,324.6 1303.41,333.8 1303.50,343.0 1303.66,334.6 1303.82,326.4 1303.98,318.3 1304.15,310.5 1304.31,303.0 1304.47,296.1 1304.63,289.6 1304.79,283.7 1304.95,278.5 1305.12,274.0 1305.28,270.3 1305.44,267.3 1305.60,265.1 1305.67,267.3 1305.73,269.9 1305.80,273.0 1305.87,276.3 1305.93,280.1 1306.00,284.3 1306.07,288.8 1306.13,293.7 1306.20,298.9 1306.27,304.5 1306.33,310.4 1306.40,316.7 1306.47,323.3 1306.53,330.1 1306.60,337.3 1306.67,344.8 1306.73,352.5 1306.80,360.4 1306.87,368.6 1306.93,377.0 1307.00,385.6 1307.07,394.3 1307.13,403.2 1307.20,412.3 1307.27,421.5 1307.33,430.8 1307.40,440.1 1307.47,449.5 1307.53,459.0 1307.60,468.5 1307.71,455.6 1307.82,442.7 1307.93,429.9 1308.04,417.2 1308.15,404.6 1308.26,392.1 1308.37,379.8 1308.48,367.7 1308.59,355.8 1308.70,344.1 1308.81,332.7 1308.92,321.6 1309.03,310.8 1309.14,300.3 1309.25,290.2 1309.36,280.5 1309.47,271.1 1309.58,262.2 1309.69,253.7 1309.80,245.7 1309.91,238.1 1310.02,230.9 1310.13,224.3 1310.24,218.2 1310.35,212.5 1310.46,207.4 1310.57,202.8 1310.68,198.7 1310.79,195.1 1310.90,192.1 1310.99,194.1 1311.07,196.6 1311.16,199.5 1311.24,203.0 1311.33,206.8 1311.41,211.2 1311.50,215.9 1311.59,221.1 1311.67,226.7 1311.76,232.7 1311.84,239.0 1311.93,245.6 1312.01,252.5 1312.10,259.8 1312.19,267.2 1312.27,274.9 1312.36,282.7 1312.44,290.7 1312.53,298.8 1312.61,306.9 1312.70,315.1 1312.80,305.0 1312.90,294.9 1313.00,284.9 1313.10,274.9 1313.20,265.0 1313.30,255.2 1313.40,245.5 1313.50,236.0 1313.60,226.7 1313.70,217.5 1313.80,208.6 1313.90,199.9 1314.00,191.4 1314.10,183.2 1314.20,175.3 1314.30,167.6 1314.40,160.3 1314.50,153.3 1314.60,146.6 1314.70,140.3 1314.80,134.4 1314.90,128.8 1315.00,123.6 1315.10,118.7 1315.20,114.3 1315.30,110.3 1315.40,106.7 1315.50,103.5 1315.60,100.7 1315.70,98.3 1315.79,103.2 1315.89,108.9 1315.98,115.5 1316.07,122.9 1316.17,131.1 1316.26,140.2 1316.35,150.0 1316.45,160.7 1316.54,172.2 1316.63,184.4 1316.73,197.3 1316.82,211.0 1316.91,225.3 1317.01,240.3 1317.10,256.0 1317.19,272.2 1317.29,289.0 1317.38,306.4 1317.47,324.2 1317.57,342.6 1317.66,361.3 1317.75,380.4 1317.85,399.9 1317.94,419.7 1318.03,439.7 1318.13,460.0 1318.22,480.4 1318.31,501.0 1318.41,521.7 1318.50,542.4 1318.59,525.8 1318.69,509.2 1318.78,492.8 1318.87,476.4 1318.97,460.1 1319.06,444.1 1319.15,428.2 1319.25,412.6 1319.34,397.3 1319.43,382.2 1319.53,367.6 1319.62,353.3 1319.71,339.4 1319.81,325.9 1319.90,312.9 1319.99,300.3 1320.09,288.3 1320.18,276.8 1320.27,265.8 1320.37,255.5 1320.46,245.7 1320.55,236.5 1320.65,228.0 1320.74,220.0 1320.83,212.8 1320.93,206.2 1321.02,200.2 1321.11,195.0 1321.21,190.4 1321.30,186.5 1321.38,188.5 1321.46,190.9 1321.54,193.7 1321.62,196.9 1321.70,200.5 1321.78,204.5 1321.86,208.9 1321.94,213.7 1322.02,218.8 1322.10,224.3 1322.18,230.1 1322.26,236.2 1322.34,242.6 1322.42,249.3 1322.50,256.3 1322.58,263.5 1322.66,270.9 1322.74,278.5 1322.82,286.3 1322.90,294.3 1322.98,302.3 1323.06,310.5 1323.14,318.8 1323.22,327.1 1323.30,335.4 1323.73,327.4 1324.17,319.7 1324.60,313.0 1325.03,307.3 1325.47,303.2 1325.90,300.6 1326.00,302.6 1326.09,305.1 1326.19,308.0 1326.28,311.4 1326.38,315.3 1326.47,319.6 1326.57,324.4 1326.66,329.6 1326.76,335.1 1326.85,341.1 1326.95,347.4 1327.04,354.0 1327.14,360.9 1327.23,368.1 1327.33,375.6 1327.42,383.2 1327.52,391.0 1327.61,399.0 1327.71,407.1 1327.80,415.2 1327.90,423.4 1327.99,413.9 1328.09,404.5 1328.18,395.1 1328.27,385.8 1328.37,376.5 1328.46,367.4 1328.55,358.4 1328.65,349.5 1328.74,340.7 1328.83,332.2 1328.93,323.8 1329.02,315.7 1329.11,307.8 1329.21,300.1 1329.30,292.7 1329.39,285.5 1329.49,278.7 1329.58,272.1 1329.67,265.9 1329.77,260.0 1329.86,254.4 1329.95,249.2 1330.05,244.3 1330.14,239.8 1330.23,235.7 1330.33,231.9 1330.42,228.5 1330.51,225.5 1330.61,222.9 1330.70,220.7 1330.96,223.0 1331.21,226.5 1331.47,231.2 1331.73,236.9 1331.99,243.5 1332.24,250.6 1332.50,258.0" fill="none" stroke="#2230d0" stroke-width="1.4" stroke-linejoin="miter" stroke-miterlimit="10"/><g stroke="#2b3a40" stroke-width="1.25" fill="none" style="mix-blend-mode:multiply"><line x1="765.2" y1="4.85" x2="1331.8" y2="4.85" stroke-width="1.6"/><line x1="757.4" y1="87.40" x2="1331.8" y2="87.40"/><line x1="757.4" y1="169.65" x2="1331.8" y2="169.65"/><line x1="757.4" y1="251.60" x2="1331.8" y2="251.60"/><line x1="757.4" y1="334.20" x2="1331.8" y2="334.20"/><line x1="757.4" y1="416.70" x2="1331.8" y2="416.70"/><line x1="757.4" y1="498.60" x2="1331.8" y2="498.60"/><line x1="757.4" y1="580.80" x2="1331.8" y2="580.80" stroke-width="1.6"/><line x1="765.2" y1="4.8" x2="765.2" y2="588"/><line x1="823.8" y1="4.8" x2="823.8" y2="588"/><line x1="882.4" y1="4.8" x2="882.4" y2="588"/><line x1="940.9" y1="4.8" x2="940.9" y2="588"/><line x1="999.5" y1="4.8" x2="999.5" y2="588"/><line x1="1058.1" y1="4.8" x2="1058.1" y2="588"/><line x1="1116.7" y1="4.8" x2="1116.7" y2="588"/><line x1="1175.3" y1="4.8" x2="1175.3" y2="588"/><line x1="1233.8" y1="4.8" x2="1233.8" y2="588"/><line x1="1292.4" y1="4.8" x2="1292.4" y2="588"/></g><text x="712.7" y="10.2" textLength="35.3" lengthAdjust="spacingAndGlyphs" class="yl">0.0014</text><text x="712.7" y="92.8" textLength="35.3" lengthAdjust="spacingAndGlyphs" class="yl">0.0012</text><text x="719.1" y="175.1" textLength="28.9" lengthAdjust="spacingAndGlyphs" class="yl">0.001</text><text x="712.7" y="257.0" textLength="35.3" lengthAdjust="spacingAndGlyphs" class="yl">0.0008</text><text x="712.7" y="339.6" textLength="35.3" lengthAdjust="spacingAndGlyphs" class="yl">0.0006</text><text x="712.7" y="422.1" textLength="35.3" lengthAdjust="spacingAndGlyphs" class="yl">0.0004</text><text x="712.7" y="504.0" textLength="35.3" lengthAdjust="spacingAndGlyphs" class="yl">0.0002</text><text x="741.6" y="586.2" textLength="6.4" lengthAdjust="spacingAndGlyphs" class="yl">0</text><text x="739.8" y="603.0" textLength="53.4" lengthAdjust="spacingAndGlyphs" class="xl">12/02/00</text><text x="856.4" y="603.0" textLength="53.4" lengthAdjust="spacingAndGlyphs" class="xl">18/02/00</text><text x="973.9" y="603.0" textLength="53.4" lengthAdjust="spacingAndGlyphs" class="xl">24/02/00</text><text x="1091.7" y="603.0" textLength="53.4" lengthAdjust="spacingAndGlyphs" class="xl">01/03/00</text><text x="1212.6" y="603.0" textLength="53.4" lengthAdjust="spacingAndGlyphs" class="xl">07/03/00</text><text transform="translate(699.6,358.8) rotate(-90)" textLength="131.9" lengthAdjust="spacing" class="tt">Velocity Magnitude (m/s)</text><text x="975.6" y="627.8" textLength="94.6" lengthAdjust="spacing" class="tt">Date (DD/MM/YY)</text>
</svg>
</body></html>
